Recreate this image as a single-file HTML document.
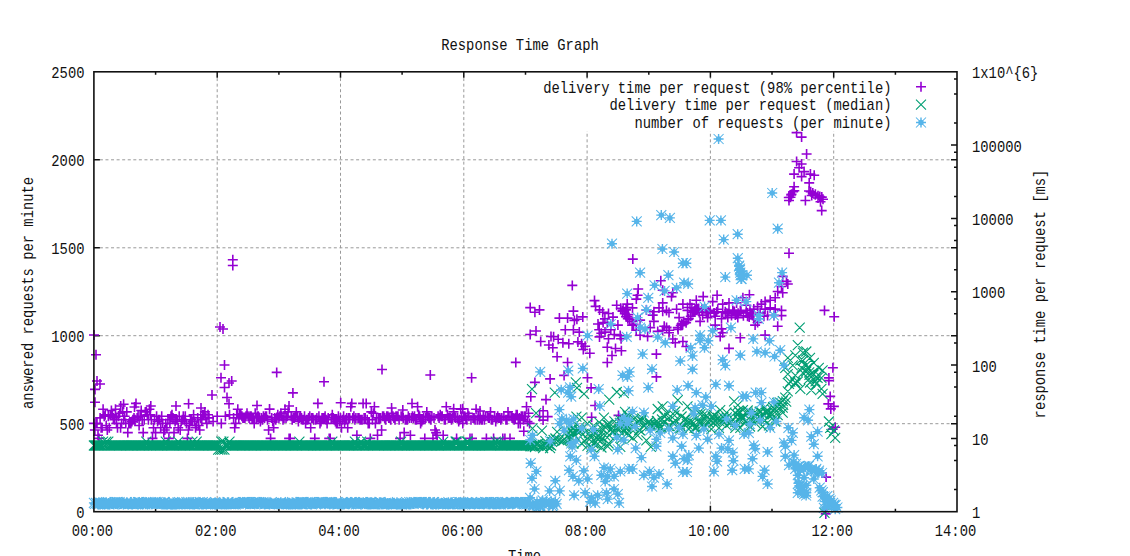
<!DOCTYPE html><html><head><meta charset="utf-8"><style>html,body{margin:0;padding:0;background:#fff;overflow:hidden}svg{display:block}</style></head><body><svg width="1130" height="556" viewBox="0 0 1130 556"><path d="M99.9 423.7H951.0M99.9 335.7H951.0M99.9 247.8H951.0M99.9 159.8H951.0" stroke="#999" stroke-width="1" stroke-dasharray="3 2.57" fill="none"/><path d="M217.2 505.7V77.8M340.5 505.7V77.8M463.8 505.7V77.8M587.1 505.7V77.8M710.4 505.7V77.8M833.7 505.7V77.8" stroke="#999" stroke-width="1" stroke-dasharray="3 2.57" stroke-dashoffset="-1.3" fill="none"/><path d="M93.9 423.7h6M957.0 423.7h-6M93.9 335.7h6M957.0 335.7h-6M93.9 247.8h6M957.0 247.8h-6M93.9 159.8h6M957.0 159.8h-6M155.6 511.7v-3M155.6 71.8v3M217.2 511.7v-6M217.2 71.8v6M278.9 511.7v-3M278.9 71.8v3M340.5 511.7v-6M340.5 71.8v6M402.1 511.7v-3M402.1 71.8v3M463.8 511.7v-6M463.8 71.8v6M525.5 511.7v-3M525.5 71.8v3M587.1 511.7v-6M587.1 71.8v6M648.8 511.7v-3M648.8 71.8v3M710.4 511.7v-6M710.4 71.8v6M772.0 511.7v-3M772.0 71.8v3M833.7 511.7v-6M833.7 71.8v6M895.4 511.7v-3M895.4 71.8v3M957.0 489.6h-3M957.0 460.5h-3M957.0 445.5h-3M957.0 438.4h-6M957.0 416.3h-3M957.0 387.1h-3M957.0 372.2h-3M957.0 365.1h-6M957.0 343.0h-3M957.0 313.8h-3M957.0 298.9h-3M957.0 291.8h-6M957.0 269.7h-3M957.0 240.5h-3M957.0 225.5h-3M957.0 218.4h-6M957.0 196.4h-3M957.0 167.2h-3M957.0 152.2h-3M957.0 145.1h-6M957.0 123.0h-3M957.0 93.9h-3M957.0 78.9h-3" stroke="#111" stroke-width="1.5" fill="none"/><path d="M88.9 423.4h10.0M93.9 418.4v10.0M89.9 430.0h10.0M94.9 425.0v10.0M91.0 423.4h10.0M96.0 418.4v10.0M92.0 423.4h10.0M97.0 418.4v10.0M93.0 435.3h10.0M98.0 430.3v10.0M94.0 438.4h10.0M99.0 433.4v10.0M95.1 417.9h10.0M100.1 412.9v10.0M96.1 427.7h10.0M101.1 422.7v10.0M97.1 427.7h10.0M102.1 422.7v10.0M98.1 409.2h10.0M103.1 404.2v10.0M99.2 416.3h10.0M104.2 411.3v10.0M100.2 414.8h10.0M105.2 409.8v10.0M101.2 425.5h10.0M106.2 420.5v10.0M102.3 430.0h10.0M107.3 425.0v10.0M103.3 416.3h10.0M108.3 411.3v10.0M104.3 427.7h10.0M109.3 422.7v10.0M105.3 414.8h10.0M110.3 409.8v10.0M106.4 410.5h10.0M111.4 405.5v10.0M107.4 414.8h10.0M112.4 409.8v10.0M108.4 417.9h10.0M113.4 412.9v10.0M109.5 419.7h10.0M114.5 414.7v10.0M110.5 409.2h10.0M115.5 404.2v10.0M111.5 423.4h10.0M116.5 418.4v10.0M112.5 427.7h10.0M117.5 422.7v10.0M113.6 416.3h10.0M118.6 411.3v10.0M114.6 413.3h10.0M119.6 408.3v10.0M115.6 427.7h10.0M120.6 422.7v10.0M116.6 423.4h10.0M121.6 418.4v10.0M117.7 411.9h10.0M122.7 406.9v10.0M118.7 419.7h10.0M123.7 414.7v10.0M119.7 416.3h10.0M124.7 411.3v10.0M120.8 423.4h10.0M125.8 418.4v10.0M121.8 411.9h10.0M126.8 406.9v10.0M122.8 432.6h10.0M127.8 427.6v10.0M123.8 423.4h10.0M128.8 418.4v10.0M124.9 423.4h10.0M129.9 418.4v10.0M125.9 423.4h10.0M130.9 418.4v10.0M126.9 421.5h10.0M131.9 416.5v10.0M127.9 419.7h10.0M132.9 414.7v10.0M129.0 417.9h10.0M134.0 412.9v10.0M130.0 419.7h10.0M135.0 414.7v10.0M131.0 403.4h10.0M136.0 398.4v10.0M132.1 417.9h10.0M137.1 412.9v10.0M133.1 416.3h10.0M138.1 411.3v10.0M134.1 425.5h10.0M139.1 420.5v10.0M135.1 416.3h10.0M140.1 411.3v10.0M136.2 410.5h10.0M141.2 405.5v10.0M137.2 419.7h10.0M142.2 414.7v10.0M138.2 432.6h10.0M143.2 427.6v10.0M139.2 419.7h10.0M144.2 414.7v10.0M140.3 411.9h10.0M145.3 406.9v10.0M141.3 411.9h10.0M146.3 406.9v10.0M142.3 414.8h10.0M147.3 409.8v10.0M143.4 419.7h10.0M148.4 414.7v10.0M144.4 409.2h10.0M149.4 404.2v10.0M145.4 414.8h10.0M150.4 409.8v10.0M146.4 419.7h10.0M151.4 414.7v10.0M147.5 438.4h10.0M152.5 433.4v10.0M148.5 427.7h10.0M153.5 422.7v10.0M149.5 419.7h10.0M154.5 414.7v10.0M150.6 432.6h10.0M155.6 427.6v10.0M151.6 416.3h10.0M156.6 411.3v10.0M152.6 421.5h10.0M157.6 416.5v10.0M153.6 419.7h10.0M158.6 414.7v10.0M154.7 419.7h10.0M159.7 414.7v10.0M155.7 427.7h10.0M160.7 422.7v10.0M156.7 416.3h10.0M161.7 411.3v10.0M157.7 423.4h10.0M162.7 418.4v10.0M158.8 432.6h10.0M163.8 427.6v10.0M159.8 430.0h10.0M164.8 425.0v10.0M160.8 423.4h10.0M165.8 418.4v10.0M161.9 427.7h10.0M166.9 422.7v10.0M162.9 419.7h10.0M167.9 414.7v10.0M163.9 438.4h10.0M168.9 433.4v10.0M164.9 423.4h10.0M169.9 418.4v10.0M166.0 416.3h10.0M171.0 411.3v10.0M167.0 414.8h10.0M172.0 409.8v10.0M168.0 417.9h10.0M173.0 412.9v10.0M169.0 432.6h10.0M174.0 427.6v10.0M170.1 421.5h10.0M175.1 416.5v10.0M171.1 419.7h10.0M176.1 414.7v10.0M172.1 419.7h10.0M177.1 414.7v10.0M173.2 427.7h10.0M178.2 422.7v10.0M174.2 416.3h10.0M179.2 411.3v10.0M175.2 430.0h10.0M180.2 425.0v10.0M176.2 421.5h10.0M181.2 416.5v10.0M177.3 419.7h10.0M182.3 414.7v10.0M178.3 416.3h10.0M183.3 411.3v10.0M179.3 419.7h10.0M184.3 414.7v10.0M180.3 416.3h10.0M185.3 411.3v10.0M181.4 423.4h10.0M186.4 418.4v10.0M182.4 438.4h10.0M187.4 433.4v10.0M183.4 430.0h10.0M188.4 425.0v10.0M184.5 425.5h10.0M189.5 420.5v10.0M185.5 419.7h10.0M190.5 414.7v10.0M186.5 419.7h10.0M191.5 414.7v10.0M187.5 421.5h10.0M192.5 416.5v10.0M188.6 414.8h10.0M193.6 409.8v10.0M189.6 421.5h10.0M194.6 416.5v10.0M190.6 427.7h10.0M195.6 422.7v10.0M191.7 425.5h10.0M196.7 420.5v10.0M192.7 417.9h10.0M197.7 412.9v10.0M193.7 425.5h10.0M198.7 420.5v10.0M194.7 430.0h10.0M199.7 425.0v10.0M195.8 417.9h10.0M200.8 412.9v10.0M196.8 419.7h10.0M201.8 414.7v10.0M197.8 414.8h10.0M202.8 409.8v10.0M198.8 414.8h10.0M203.8 409.8v10.0M199.9 411.9h10.0M204.9 406.9v10.0M200.9 417.9h10.0M205.9 412.9v10.0M201.9 423.4h10.0M206.9 418.4v10.0M203.0 414.8h10.0M208.0 409.8v10.0M204.0 417.9h10.0M209.0 412.9v10.0M208.1 421.5h10.0M213.1 416.5v10.0M212.2 416.3h10.0M217.2 411.3v10.0M216.3 423.4h10.0M221.3 418.4v10.0M220.4 416.3h10.0M225.4 411.3v10.0M224.5 414.8h10.0M229.5 409.8v10.0M228.6 417.9h10.0M233.6 412.9v10.0M229.7 427.7h10.0M234.7 422.7v10.0M230.7 423.4h10.0M235.7 418.4v10.0M231.7 414.8h10.0M236.7 409.8v10.0M232.8 409.2h10.0M237.8 404.2v10.0M233.8 417.9h10.0M238.8 412.9v10.0M234.8 414.8h10.0M239.8 409.8v10.0M235.8 414.8h10.0M240.8 409.8v10.0M236.9 416.3h10.0M241.9 411.3v10.0M237.9 417.9h10.0M242.9 412.9v10.0M238.9 417.9h10.0M243.9 412.9v10.0M239.9 417.9h10.0M244.9 412.9v10.0M241.0 416.3h10.0M246.0 411.3v10.0M242.0 413.3h10.0M247.0 408.3v10.0M243.0 416.3h10.0M248.0 411.3v10.0M244.1 417.9h10.0M249.1 412.9v10.0M245.1 416.3h10.0M250.1 411.3v10.0M246.1 416.3h10.0M251.1 411.3v10.0M247.1 417.9h10.0M252.1 412.9v10.0M248.2 417.9h10.0M253.2 412.9v10.0M249.2 423.4h10.0M254.2 418.4v10.0M250.2 413.3h10.0M255.2 408.3v10.0M251.2 417.9h10.0M256.2 412.9v10.0M252.3 416.3h10.0M257.3 411.3v10.0M253.3 416.3h10.0M258.3 411.3v10.0M254.3 417.9h10.0M259.3 412.9v10.0M255.4 421.5h10.0M260.4 416.5v10.0M256.4 417.9h10.0M261.4 412.9v10.0M257.4 419.7h10.0M262.4 414.7v10.0M258.4 416.3h10.0M263.4 411.3v10.0M259.5 417.9h10.0M264.5 412.9v10.0M260.5 416.3h10.0M265.5 411.3v10.0M261.5 416.3h10.0M266.5 411.3v10.0M262.5 419.7h10.0M267.5 414.7v10.0M263.6 430.0h10.0M268.6 425.0v10.0M264.6 409.2h10.0M269.6 404.2v10.0M265.6 438.4h10.0M270.6 433.4v10.0M266.7 417.9h10.0M271.7 412.9v10.0M267.7 421.5h10.0M272.7 416.5v10.0M268.7 427.7h10.0M273.7 422.7v10.0M269.7 417.9h10.0M274.7 412.9v10.0M270.8 419.7h10.0M275.8 414.7v10.0M271.8 417.9h10.0M276.8 412.9v10.0M272.8 414.8h10.0M277.8 409.8v10.0M273.9 417.9h10.0M278.9 412.9v10.0M274.9 416.3h10.0M279.9 411.3v10.0M275.9 413.3h10.0M280.9 408.3v10.0M276.9 416.3h10.0M281.9 411.3v10.0M278.0 419.7h10.0M283.0 414.7v10.0M279.0 417.9h10.0M284.0 412.9v10.0M280.0 409.2h10.0M285.0 404.2v10.0M281.0 417.9h10.0M286.0 412.9v10.0M282.1 416.3h10.0M287.1 411.3v10.0M283.1 411.9h10.0M288.1 406.9v10.0M284.1 438.4h10.0M289.1 433.4v10.0M285.2 438.4h10.0M290.2 433.4v10.0M286.2 416.3h10.0M291.2 411.3v10.0M287.2 419.7h10.0M292.2 414.7v10.0M288.2 417.9h10.0M293.2 412.9v10.0M289.3 417.9h10.0M294.3 412.9v10.0M290.3 416.3h10.0M295.3 411.3v10.0M291.3 411.9h10.0M296.3 406.9v10.0M292.3 416.3h10.0M297.3 411.3v10.0M293.4 421.5h10.0M298.4 416.5v10.0M294.4 417.9h10.0M299.4 412.9v10.0M295.4 416.3h10.0M300.4 411.3v10.0M296.5 417.9h10.0M301.5 412.9v10.0M297.5 419.7h10.0M302.5 414.7v10.0M298.5 419.7h10.0M303.5 414.7v10.0M299.5 416.3h10.0M304.5 411.3v10.0M300.6 423.4h10.0M305.6 418.4v10.0M301.6 419.7h10.0M306.6 414.7v10.0M302.6 419.7h10.0M307.6 414.7v10.0M303.6 417.9h10.0M308.6 412.9v10.0M304.7 416.3h10.0M309.7 411.3v10.0M305.7 427.7h10.0M310.7 422.7v10.0M306.7 417.9h10.0M311.7 412.9v10.0M307.8 417.9h10.0M312.8 412.9v10.0M308.8 419.7h10.0M313.8 414.7v10.0M309.8 438.4h10.0M314.8 433.4v10.0M310.8 419.7h10.0M315.8 414.7v10.0M311.9 417.9h10.0M316.9 412.9v10.0M312.9 403.4h10.0M317.9 398.4v10.0M313.9 416.3h10.0M318.9 411.3v10.0M315.0 423.4h10.0M320.0 418.4v10.0M316.0 421.5h10.0M321.0 416.5v10.0M317.0 417.9h10.0M322.0 412.9v10.0M318.0 417.9h10.0M323.0 412.9v10.0M319.1 417.9h10.0M324.1 412.9v10.0M320.1 416.3h10.0M325.1 411.3v10.0M321.1 419.7h10.0M326.1 414.7v10.0M322.1 423.4h10.0M327.1 418.4v10.0M323.2 417.9h10.0M328.2 412.9v10.0M324.2 438.4h10.0M329.2 433.4v10.0M325.2 438.4h10.0M330.2 433.4v10.0M326.3 417.9h10.0M331.3 412.9v10.0M327.3 414.8h10.0M332.3 409.8v10.0M328.3 417.9h10.0M333.3 412.9v10.0M329.3 419.7h10.0M334.3 414.7v10.0M330.4 421.5h10.0M335.4 416.5v10.0M331.4 423.4h10.0M336.4 418.4v10.0M332.4 423.4h10.0M337.4 418.4v10.0M333.4 416.3h10.0M338.4 411.3v10.0M334.5 421.5h10.0M339.5 416.5v10.0M335.5 417.9h10.0M340.5 412.9v10.0M336.5 427.7h10.0M341.5 422.7v10.0M337.6 419.7h10.0M342.6 414.7v10.0M338.6 416.3h10.0M343.6 411.3v10.0M339.6 423.4h10.0M344.6 418.4v10.0M340.6 419.7h10.0M345.6 414.7v10.0M341.7 417.9h10.0M346.7 412.9v10.0M342.7 427.7h10.0M347.7 422.7v10.0M343.7 417.9h10.0M348.7 412.9v10.0M344.7 417.9h10.0M349.7 412.9v10.0M345.8 406.8h10.0M350.8 401.8v10.0M346.8 403.4h10.0M351.8 398.4v10.0M347.8 417.9h10.0M352.8 412.9v10.0M348.9 416.3h10.0M353.9 411.3v10.0M349.9 419.7h10.0M354.9 414.7v10.0M350.9 417.9h10.0M355.9 412.9v10.0M351.9 435.3h10.0M356.9 430.3v10.0M353.0 417.9h10.0M358.0 412.9v10.0M354.0 417.9h10.0M359.0 412.9v10.0M355.0 419.7h10.0M360.0 414.7v10.0M356.0 419.7h10.0M361.0 414.7v10.0M357.1 419.7h10.0M362.1 414.7v10.0M358.1 403.4h10.0M363.1 398.4v10.0M359.1 417.9h10.0M364.1 412.9v10.0M360.2 417.9h10.0M365.2 412.9v10.0M361.2 403.4h10.0M366.2 398.4v10.0M362.2 419.7h10.0M367.2 414.7v10.0M363.2 423.4h10.0M368.2 418.4v10.0M364.3 423.4h10.0M369.3 418.4v10.0M365.3 438.4h10.0M370.3 433.4v10.0M366.3 411.9h10.0M371.3 406.9v10.0M367.4 419.7h10.0M372.4 414.7v10.0M368.4 413.3h10.0M373.4 408.3v10.0M369.4 406.8h10.0M374.4 401.8v10.0M370.4 423.4h10.0M375.4 418.4v10.0M371.5 417.9h10.0M376.5 412.9v10.0M372.5 435.3h10.0M377.5 430.3v10.0M373.5 417.9h10.0M378.5 412.9v10.0M374.5 417.9h10.0M379.5 412.9v10.0M375.6 417.9h10.0M380.6 412.9v10.0M376.6 430.0h10.0M381.6 425.0v10.0M377.6 416.3h10.0M382.6 411.3v10.0M378.7 416.3h10.0M383.7 411.3v10.0M379.7 417.9h10.0M384.7 412.9v10.0M380.7 419.7h10.0M385.7 414.7v10.0M381.7 416.3h10.0M386.7 411.3v10.0M382.8 416.3h10.0M387.8 411.3v10.0M383.8 417.9h10.0M388.8 412.9v10.0M384.8 417.9h10.0M389.8 412.9v10.0M385.8 419.7h10.0M390.8 414.7v10.0M386.9 413.3h10.0M391.9 408.3v10.0M387.9 416.3h10.0M392.9 411.3v10.0M388.9 417.9h10.0M393.9 412.9v10.0M390.0 419.7h10.0M395.0 414.7v10.0M391.0 416.3h10.0M396.0 411.3v10.0M392.0 416.3h10.0M397.0 411.3v10.0M393.0 416.3h10.0M398.0 411.3v10.0M394.1 419.7h10.0M399.1 414.7v10.0M395.1 438.4h10.0M400.1 433.4v10.0M396.1 416.3h10.0M401.1 411.3v10.0M397.1 416.3h10.0M402.1 411.3v10.0M398.2 417.9h10.0M403.2 412.9v10.0M399.2 432.6h10.0M404.2 427.6v10.0M400.2 419.7h10.0M405.2 414.7v10.0M401.3 419.7h10.0M406.3 414.7v10.0M402.3 419.7h10.0M407.3 414.7v10.0M403.3 416.3h10.0M408.3 411.3v10.0M404.3 417.9h10.0M409.3 412.9v10.0M405.4 435.3h10.0M410.4 430.3v10.0M406.4 417.9h10.0M411.4 412.9v10.0M407.4 416.3h10.0M412.4 411.3v10.0M408.5 417.9h10.0M413.5 412.9v10.0M409.5 416.3h10.0M414.5 411.3v10.0M410.5 419.7h10.0M415.5 414.7v10.0M411.5 419.7h10.0M416.5 414.7v10.0M412.6 406.8h10.0M417.6 401.8v10.0M413.6 414.8h10.0M418.6 409.8v10.0M414.6 416.3h10.0M419.6 411.3v10.0M415.6 423.4h10.0M420.6 418.4v10.0M416.7 421.5h10.0M421.7 416.5v10.0M417.7 419.7h10.0M422.7 414.7v10.0M418.7 417.9h10.0M423.7 412.9v10.0M419.8 438.4h10.0M424.8 433.4v10.0M420.8 417.9h10.0M425.8 412.9v10.0M421.8 411.9h10.0M426.8 406.9v10.0M422.8 416.3h10.0M427.8 411.3v10.0M423.9 417.9h10.0M428.9 412.9v10.0M424.9 417.9h10.0M429.9 412.9v10.0M425.9 419.7h10.0M430.9 414.7v10.0M426.9 416.3h10.0M431.9 411.3v10.0M428.0 438.4h10.0M433.0 433.4v10.0M429.0 417.9h10.0M434.0 412.9v10.0M430.0 430.0h10.0M435.0 425.0v10.0M431.1 432.6h10.0M436.1 427.6v10.0M432.1 435.3h10.0M437.1 430.3v10.0M433.1 416.3h10.0M438.1 411.3v10.0M434.1 417.9h10.0M439.1 412.9v10.0M435.2 414.8h10.0M440.2 409.8v10.0M436.2 416.3h10.0M441.2 411.3v10.0M437.2 416.3h10.0M442.2 411.3v10.0M438.2 435.3h10.0M443.2 430.3v10.0M439.3 419.7h10.0M444.3 414.7v10.0M440.3 419.7h10.0M445.3 414.7v10.0M441.3 406.8h10.0M446.3 401.8v10.0M442.4 414.8h10.0M447.4 409.8v10.0M443.4 417.9h10.0M448.4 412.9v10.0M444.4 417.9h10.0M449.4 412.9v10.0M445.4 417.9h10.0M450.4 412.9v10.0M446.5 419.7h10.0M451.5 414.7v10.0M447.5 417.9h10.0M452.5 412.9v10.0M448.5 411.9h10.0M453.5 406.9v10.0M449.6 416.3h10.0M454.6 411.3v10.0M450.6 417.9h10.0M455.6 412.9v10.0M451.6 438.4h10.0M456.6 433.4v10.0M452.6 417.9h10.0M457.6 412.9v10.0M453.7 421.5h10.0M458.7 416.5v10.0M454.7 419.7h10.0M459.7 414.7v10.0M455.7 409.2h10.0M460.7 404.2v10.0M456.7 416.3h10.0M461.7 411.3v10.0M457.8 423.4h10.0M462.8 418.4v10.0M458.8 416.3h10.0M463.8 411.3v10.0M459.8 416.3h10.0M464.8 411.3v10.0M460.9 417.9h10.0M465.9 412.9v10.0M461.9 419.7h10.0M466.9 414.7v10.0M462.9 413.3h10.0M467.9 408.3v10.0M463.9 416.3h10.0M468.9 411.3v10.0M465.0 438.4h10.0M470.0 433.4v10.0M466.0 419.7h10.0M471.0 414.7v10.0M467.0 438.4h10.0M472.0 433.4v10.0M468.0 417.9h10.0M473.0 412.9v10.0M469.1 417.9h10.0M474.1 412.9v10.0M470.1 419.7h10.0M475.1 414.7v10.0M471.1 409.2h10.0M476.1 404.2v10.0M472.2 419.7h10.0M477.2 414.7v10.0M473.2 416.3h10.0M478.2 411.3v10.0M474.2 419.7h10.0M479.2 414.7v10.0M475.2 417.9h10.0M480.2 412.9v10.0M476.3 419.7h10.0M481.3 414.7v10.0M477.3 419.7h10.0M482.3 414.7v10.0M478.3 416.3h10.0M483.3 411.3v10.0M479.4 419.7h10.0M484.4 414.7v10.0M480.4 416.3h10.0M485.4 411.3v10.0M481.4 438.4h10.0M486.4 433.4v10.0M482.4 416.3h10.0M487.4 411.3v10.0M483.5 417.9h10.0M488.5 412.9v10.0M484.5 417.9h10.0M489.5 412.9v10.0M485.5 411.9h10.0M490.5 406.9v10.0M486.5 419.7h10.0M491.5 414.7v10.0M487.6 419.7h10.0M492.6 414.7v10.0M488.6 438.4h10.0M493.6 433.4v10.0M489.6 416.3h10.0M494.6 411.3v10.0M490.7 421.5h10.0M495.7 416.5v10.0M491.7 417.9h10.0M496.7 412.9v10.0M492.7 416.3h10.0M497.7 411.3v10.0M493.7 417.9h10.0M498.7 412.9v10.0M494.8 417.9h10.0M499.8 412.9v10.0M495.8 419.7h10.0M500.8 414.7v10.0M496.8 417.9h10.0M501.8 412.9v10.0M497.8 438.4h10.0M502.8 433.4v10.0M498.9 416.3h10.0M503.9 411.3v10.0M499.9 438.4h10.0M504.9 433.4v10.0M500.9 419.7h10.0M505.9 414.7v10.0M502.0 419.7h10.0M507.0 414.7v10.0M503.0 411.9h10.0M508.0 406.9v10.0M504.0 416.3h10.0M509.0 411.3v10.0M505.0 438.4h10.0M510.0 433.4v10.0M506.1 416.3h10.0M511.1 411.3v10.0M507.1 417.9h10.0M512.1 412.9v10.0M508.1 417.9h10.0M513.1 412.9v10.0M509.1 419.7h10.0M514.1 414.7v10.0M510.2 417.9h10.0M515.2 412.9v10.0M511.2 414.8h10.0M516.2 409.8v10.0M512.2 414.8h10.0M517.2 409.8v10.0M513.3 423.4h10.0M518.3 418.4v10.0M514.3 417.9h10.0M519.3 412.9v10.0M515.3 423.4h10.0M520.3 418.4v10.0M516.3 416.3h10.0M521.3 411.3v10.0M517.4 416.3h10.0M522.4 411.3v10.0M518.4 419.7h10.0M523.4 414.7v10.0M519.4 416.3h10.0M524.4 411.3v10.0M520.5 416.3h10.0M525.5 411.3v10.0M521.5 406.8h10.0M526.5 401.8v10.0M522.5 421.5h10.0M527.5 416.5v10.0M523.5 413.3h10.0M528.5 408.3v10.0M524.6 423.4h10.0M529.6 418.4v10.0M89.0 335.0h10.0M94.0 330.0v10.0M91.0 354.8h10.0M96.0 349.8v10.0M92.0 381.0h10.0M97.0 376.0v10.0M95.0 384.0h10.0M100.0 379.0v10.0M90.0 389.4h10.0M95.0 384.4v10.0M90.0 402.3h10.0M95.0 397.3v10.0M118.6 404.3h10.0M123.6 399.3v10.0M115.7 406.0h10.0M120.7 401.0v10.0M129.5 407.0h10.0M134.5 402.0v10.0M227.8 259.8h10.0M232.8 254.8v10.0M227.8 265.5h10.0M232.8 260.5v10.0M215.0 327.0h10.0M220.0 322.0v10.0M218.0 329.0h10.0M223.0 324.0v10.0M219.5 365.0h10.0M224.5 360.0v10.0M216.0 377.8h10.0M221.0 372.8v10.0M226.7 381.0h10.0M231.7 376.0v10.0M224.0 383.0h10.0M229.0 378.0v10.0M219.5 387.5h10.0M224.5 382.5v10.0M207.0 395.0h10.0M212.0 390.0v10.0M222.0 397.5h10.0M227.0 392.5v10.0M224.0 403.7h10.0M229.0 398.7v10.0M271.7 372.4h10.0M276.7 367.4v10.0M287.9 392.9h10.0M292.9 387.9v10.0M145.8 406.0h10.0M150.8 401.0v10.0M171.0 406.0h10.0M176.0 401.0v10.0M183.6 403.7h10.0M188.6 398.7v10.0M196.0 408.0h10.0M201.0 403.0v10.0M252.0 405.5h10.0M257.0 400.5v10.0M264.5 409.0h10.0M269.5 404.0v10.0M284.0 406.0h10.0M289.0 401.0v10.0M319.0 381.7h10.0M324.0 376.7v10.0M335.7 402.7h10.0M340.7 397.7v10.0M377.0 369.5h10.0M382.0 364.5v10.0M425.3 375.0h10.0M430.3 370.0v10.0M466.6 377.7h10.0M471.6 372.7v10.0M510.8 362.4h10.0M515.8 357.4v10.0M386.6 408.0h10.0M391.6 403.0v10.0M407.0 403.5h10.0M412.0 398.5v10.0M397.8 410.0h10.0M402.8 405.0v10.0M457.8 408.8h10.0M462.8 403.8v10.0M448.7 408.8h10.0M453.7 403.8v10.0M475.0 411.0h10.0M480.0 406.0v10.0M567.3 285.4h10.0M572.3 280.4v10.0M525.2 307.6h10.0M530.2 302.6v10.0M529.9 312.3h10.0M534.9 307.3v10.0M534.5 309.9h10.0M539.5 304.9v10.0M525.2 334.5h10.0M530.2 329.5v10.0M531.0 331.0h10.0M536.0 326.0v10.0M535.7 341.5h10.0M540.7 336.5v10.0M543.9 345.0h10.0M548.9 340.0v10.0M548.6 336.8h10.0M553.6 331.8v10.0M553.2 339.2h10.0M558.2 334.2v10.0M557.9 342.7h10.0M562.9 337.7v10.0M563.8 343.8h10.0M568.8 338.8v10.0M552.1 356.7h10.0M557.1 351.7v10.0M554.4 318.1h10.0M559.4 313.1v10.0M562.6 318.1h10.0M567.6 313.1v10.0M568.4 311.1h10.0M573.4 306.1v10.0M571.9 319.3h10.0M576.9 314.3v10.0M577.8 316.9h10.0M582.8 311.9v10.0M560.3 329.8h10.0M565.3 324.8v10.0M568.4 329.8h10.0M573.4 324.8v10.0M574.3 332.1h10.0M579.3 327.1v10.0M576.6 343.8h10.0M581.6 338.8v10.0M580.1 346.2h10.0M585.1 341.2v10.0M584.8 353.2h10.0M589.8 348.2v10.0M562.6 362.5h10.0M567.6 357.5v10.0M559.1 375.4h10.0M564.1 370.4v10.0M545.1 378.9h10.0M550.1 373.9v10.0M582.5 377.7h10.0M587.5 372.7v10.0M529.9 382.4h10.0M534.9 377.4v10.0M589.5 300.6h10.0M594.5 295.6v10.0M590.6 306.4h10.0M595.6 301.4v10.0M597.7 312.3h10.0M602.7 307.3v10.0M611.7 305.3h10.0M616.7 300.3v10.0M622.2 304.1h10.0M627.2 299.1v10.0M617.5 311.1h10.0M622.5 306.1v10.0M622.2 316.9h10.0M627.2 311.9v10.0M594.2 329.8h10.0M599.2 324.8v10.0M600.0 332.1h10.0M605.0 327.1v10.0M605.8 329.8h10.0M610.8 324.8v10.0M612.9 325.1h10.0M617.9 320.1v10.0M609.3 334.5h10.0M614.3 329.5v10.0M615.2 335.6h10.0M620.2 330.6v10.0M593.0 324.0h10.0M598.0 319.0v10.0M602.3 322.8h10.0M607.3 317.8v10.0M602.3 347.3h10.0M607.3 342.3v10.0M610.5 348.5h10.0M615.5 343.5v10.0M616.4 350.8h10.0M621.4 345.8v10.0M607.0 355.5h10.0M612.0 350.5v10.0M602.3 362.5h10.0M607.3 357.5v10.0M619.9 313.4h10.0M624.9 308.4v10.0M621.0 309.9h10.0M626.0 304.9v10.0M623.4 314.6h10.0M628.4 309.6v10.0M525.8 396.7h10.0M530.8 391.7v10.0M541.0 399.6h10.0M546.0 394.6v10.0M538.1 410.7h10.0M543.1 405.7v10.0M538.1 420.1h10.0M543.1 415.1v10.0M534.6 416.6h10.0M539.6 411.6v10.0M542.7 416.6h10.0M547.7 411.6v10.0M518.8 431.2h10.0M523.8 426.2v10.0M586.1 387.9h10.0M591.1 382.9v10.0M590.1 405.5h10.0M595.1 400.5v10.0M586.6 417.2h10.0M591.6 412.2v10.0M613.5 415.4h10.0M618.5 410.4v10.0M627.8 259.1h10.0M632.8 254.1v10.0M655.8 280.8h10.0M660.8 275.8v10.0M633.2 289.0h10.0M638.2 284.0v10.0M632.6 295.3h10.0M637.6 290.3v10.0M631.3 299.1h10.0M636.3 294.1v10.0M627.5 307.9h10.0M632.5 302.9v10.0M657.7 290.3h10.0M662.7 285.3v10.0M667.8 292.8h10.0M672.8 287.8v10.0M666.5 296.6h10.0M671.5 291.6v10.0M657.7 302.9h10.0M662.7 297.9v10.0M654.0 307.9h10.0M659.0 302.9v10.0M661.5 310.4h10.0M666.5 305.4v10.0M671.6 309.2h10.0M676.6 304.2v10.0M648.9 311.7h10.0M653.9 306.7v10.0M677.9 304.1h10.0M682.9 299.1v10.0M698.2 296.6h10.0M703.2 291.6v10.0M712.1 295.3h10.0M717.1 290.3v10.0M707.7 301.6h10.0M712.7 296.6v10.0M691.3 300.3h10.0M696.3 295.3v10.0M685.0 304.1h10.0M690.0 299.1v10.0M717.7 304.1h10.0M722.7 299.1v10.0M724.0 302.9h10.0M729.0 297.9v10.0M731.6 302.9h10.0M736.6 297.9v10.0M737.9 297.8h10.0M742.9 292.8v10.0M682.5 310.4h10.0M687.5 305.4v10.0M690.1 309.2h10.0M695.1 304.2v10.0M697.6 311.7h10.0M702.6 306.7v10.0M705.2 310.4h10.0M710.2 305.4v10.0M712.7 309.2h10.0M717.7 304.2v10.0M720.3 311.7h10.0M725.3 306.7v10.0M727.8 310.4h10.0M732.8 305.4v10.0M735.3 310.4h10.0M740.3 305.4v10.0M622.5 307.5h10.0M627.5 302.5v10.0M627.5 321.4h10.0M632.5 316.4v10.0M635.1 320.1h10.0M640.1 315.1v10.0M641.4 310.0h10.0M646.4 305.0v10.0M647.7 315.1h10.0M652.7 310.1v10.0M648.9 321.4h10.0M653.9 316.4v10.0M645.2 327.6h10.0M650.2 322.6v10.0M657.7 311.3h10.0M662.7 306.3v10.0M664.0 312.5h10.0M669.0 307.5v10.0M674.1 317.6h10.0M679.1 312.6v10.0M676.6 323.9h10.0M681.6 318.9v10.0M672.8 327.6h10.0M677.8 322.6v10.0M661.5 327.6h10.0M666.5 322.6v10.0M664.0 332.7h10.0M669.0 327.7v10.0M657.7 330.2h10.0M662.7 325.2v10.0M652.7 331.4h10.0M657.7 326.4v10.0M635.1 335.2h10.0M640.1 330.2v10.0M642.6 336.4h10.0M647.6 331.4v10.0M667.8 339.0h10.0M672.8 334.0v10.0M670.3 342.7h10.0M675.3 337.7v10.0M677.9 341.5h10.0M682.9 336.5v10.0M651.4 354.1h10.0M656.4 349.1v10.0M682.5 307.5h10.0M687.5 302.5v10.0M687.5 312.5h10.0M692.5 307.5v10.0M692.6 308.8h10.0M697.6 303.8v10.0M697.6 315.1h10.0M702.6 310.1v10.0M717.7 312.5h10.0M722.7 307.5v10.0M724.0 310.0h10.0M729.0 305.0v10.0M730.3 315.1h10.0M735.3 310.1v10.0M683.8 318.8h10.0M688.8 313.8v10.0M695.1 321.4h10.0M700.1 316.4v10.0M702.6 317.6h10.0M707.6 312.6v10.0M710.2 316.3h10.0M715.2 311.3v10.0M716.5 318.8h10.0M721.5 313.8v10.0M722.8 317.6h10.0M727.8 312.6v10.0M732.8 317.6h10.0M737.8 312.6v10.0M710.2 325.1h10.0M715.2 320.1v10.0M716.5 328.9h10.0M721.5 323.9v10.0M715.2 336.4h10.0M720.2 331.4v10.0M717.7 332.7h10.0M722.7 327.7v10.0M735.3 337.7h10.0M740.3 332.7v10.0M724.0 348.4h10.0M729.0 343.4v10.0M681.3 346.5h10.0M686.3 341.5v10.0M651.4 376.9h10.0M656.4 371.9v10.0M791.6 132.6h10.0M796.6 127.6v10.0M796.6 137.1h10.0M801.6 132.1v10.0M801.6 154.0h10.0M806.6 149.0v10.0M791.6 161.5h10.0M796.6 156.5v10.0M796.6 164.0h10.0M801.6 159.0v10.0M794.1 167.8h10.0M799.1 162.8v10.0M799.1 171.6h10.0M804.1 166.6v10.0M789.1 174.1h10.0M794.1 169.1v10.0M805.4 174.1h10.0M810.4 169.1v10.0M809.2 175.3h10.0M814.2 170.3v10.0M796.6 176.6h10.0M801.6 171.6v10.0M804.2 182.9h10.0M809.2 177.9v10.0M789.1 186.7h10.0M794.1 181.7v10.0M786.5 194.2h10.0M791.5 189.2v10.0M784.0 200.5h10.0M789.0 195.5v10.0M800.4 200.5h10.0M805.4 195.5v10.0M806.7 195.5h10.0M811.7 190.5v10.0M810.4 194.2h10.0M815.4 189.2v10.0M813.0 198.0h10.0M818.0 193.0v10.0M815.5 201.8h10.0M820.5 196.8v10.0M818.0 199.2h10.0M823.0 194.2v10.0M816.7 210.6h10.0M821.7 205.6v10.0M784.0 253.3h10.0M789.0 248.3v10.0M744.4 294.7h10.0M749.4 289.7v10.0M777.7 276.4h10.0M782.7 271.4v10.0M781.5 281.4h10.0M786.5 276.4v10.0M782.8 284.0h10.0M787.8 279.0v10.0M776.5 286.5h10.0M781.5 281.5v10.0M777.7 292.8h10.0M782.7 287.8v10.0M772.7 291.5h10.0M777.7 286.5v10.0M770.2 297.8h10.0M775.2 292.8v10.0M765.2 300.3h10.0M770.2 295.3v10.0M760.1 301.6h10.0M765.1 296.6v10.0M756.4 304.1h10.0M761.4 299.1v10.0M752.6 306.6h10.0M757.6 301.6v10.0M748.8 309.1h10.0M753.8 304.1v10.0M745.0 310.4h10.0M750.0 305.4v10.0M742.5 312.9h10.0M747.5 307.9v10.0M765.2 307.9h10.0M770.2 302.9v10.0M760.1 309.1h10.0M765.1 304.1v10.0M770.2 309.1h10.0M775.2 304.1v10.0M776.5 310.4h10.0M781.5 305.4v10.0M755.1 312.9h10.0M760.1 307.9v10.0M747.5 315.4h10.0M752.5 310.4v10.0M762.6 315.4h10.0M767.6 310.4v10.0M768.9 315.4h10.0M773.9 310.4v10.0M741.3 305.3h10.0M746.3 300.3v10.0M819.5 310.4h10.0M824.5 305.4v10.0M829.2 316.7h10.0M834.2 311.7v10.0M742.5 316.3h10.0M747.5 311.3v10.0M748.8 318.8h10.0M753.8 313.8v10.0M752.6 322.5h10.0M757.6 317.5v10.0M750.1 325.1h10.0M755.1 320.1v10.0M758.9 316.3h10.0M763.9 311.3v10.0M772.7 326.3h10.0M777.7 321.3v10.0M760.1 335.1h10.0M765.1 330.1v10.0M776.5 315.6h10.0M781.5 310.6v10.0M827.9 367.8h10.0M832.9 362.8v10.0M823.9 377.9h10.0M828.9 372.9v10.0M823.9 380.6h10.0M828.9 375.6v10.0M825.2 396.4h10.0M830.2 391.4v10.0M823.3 403.9h10.0M828.3 398.9v10.0M828.9 406.4h10.0M833.9 401.4v10.0M825.8 408.9h10.0M830.8 403.9v10.0M830.2 427.2h10.0M835.2 422.2v10.0M827.7 429.1h10.0M832.7 424.1v10.0M821.1 477.1h10.0M826.1 472.1v10.0M820.8 513.9h10.0M825.8 508.9v10.0M569.4 320.4h10.0M574.4 315.4v10.0M546.0 336.5h10.0M551.0 331.5v10.0M547.8 347.7h10.0M552.8 342.7v10.0M572.9 341.9h10.0M577.9 336.9v10.0M578.3 349.5h10.0M583.3 344.5v10.0M596.3 333.3h10.0M601.3 328.3v10.0M594.5 336.9h10.0M599.5 331.9v10.0M603.5 338.7h10.0M608.5 333.7v10.0M616.1 338.7h10.0M621.1 333.7v10.0M594.5 309.9h10.0M599.5 304.9v10.0M603.5 313.5h10.0M608.5 308.5v10.0M608.0 317.1h10.0M613.0 312.1v10.0M599.9 318.9h10.0M604.9 313.9v10.0M598.1 322.5h10.0M603.1 317.5v10.0M615.7 308.3h10.0M620.7 303.3v10.0M618.1 310.1h10.0M623.1 305.1v10.0M619.8 313.8h10.0M624.8 308.8v10.0M621.0 316.8h10.0M626.0 311.8v10.0M622.8 318.7h10.0M627.8 313.7v10.0M624.7 319.2h10.0M629.7 314.2v10.0M627.1 325.1h10.0M632.1 320.1v10.0M628.6 324.4h10.0M633.6 319.4v10.0M631.2 330.2h10.0M636.2 325.2v10.0M673.1 329.5h10.0M678.1 324.5v10.0M675.8 325.5h10.0M680.8 320.5v10.0M677.7 324.5h10.0M682.7 319.5v10.0M678.8 321.5h10.0M683.8 316.5v10.0M681.1 322.8h10.0M686.1 317.8v10.0M683.0 319.4h10.0M688.0 314.4v10.0M685.8 316.2h10.0M690.8 311.2v10.0M687.8 312.4h10.0M692.8 307.4v10.0M689.1 310.9h10.0M694.1 305.9v10.0M692.2 309.8h10.0M697.2 304.8v10.0M693.7 308.4h10.0M698.7 303.4v10.0M686.9 307.8h10.0M691.9 302.8v10.0M689.9 310.6h10.0M694.9 305.6v10.0M691.3 310.2h10.0M696.3 305.2v10.0M694.2 312.5h10.0M699.2 307.5v10.0M697.0 309.3h10.0M702.0 304.3v10.0M699.9 308.7h10.0M704.9 303.7v10.0M701.3 312.9h10.0M706.3 307.9v10.0M703.2 311.7h10.0M708.2 306.7v10.0M705.4 313.2h10.0M710.4 308.2v10.0M709.1 313.0h10.0M714.1 308.0v10.0M711.7 311.9h10.0M716.7 306.9v10.0M659.2 326.3h10.0M664.2 321.3v10.0M661.6 327.4h10.0M666.6 322.4v10.0M664.3 330.3h10.0M669.3 325.3v10.0M721.0 313.0h10.0M726.0 308.0v10.0M722.8 313.5h10.0M727.8 308.5v10.0M726.5 315.6h10.0M731.5 310.6v10.0M729.4 311.6h10.0M734.4 306.6v10.0M731.2 314.2h10.0M736.2 309.2v10.0M733.1 313.3h10.0M738.1 308.3v10.0M736.0 311.5h10.0M741.0 306.5v10.0M738.4 315.7h10.0M743.4 310.7v10.0M741.1 312.9h10.0M746.1 307.9v10.0M744.2 316.9h10.0M749.2 311.9v10.0M746.2 314.7h10.0M751.2 309.7v10.0M804.0 191.0h10.0M809.0 186.0v10.0M805.7 191.8h10.0M810.7 186.8v10.0M807.8 193.1h10.0M812.8 188.1v10.0M810.3 194.7h10.0M815.3 189.7v10.0M813.0 195.8h10.0M818.0 190.8v10.0M814.8 196.5h10.0M819.8 191.5v10.0M816.8 197.1h10.0M821.8 192.1v10.0M783.8 197.5h10.0M788.8 192.5v10.0M785.5 197.2h10.0M790.5 192.2v10.0M786.2 194.9h10.0M791.2 189.9v10.0M788.1 191.8h10.0M793.1 186.8v10.0M789.3 190.8h10.0M794.3 185.8v10.0" stroke="#9400d3" stroke-width="1.6" fill="none"/><path d="M88.9 440.5l10.0 10.0M88.9 450.5l10.0 -10.0M89.9 440.5l10.0 10.0M89.9 450.5l10.0 -10.0M91.0 440.5l10.0 10.0M91.0 450.5l10.0 -10.0M92.0 440.5l10.0 10.0M92.0 450.5l10.0 -10.0M93.0 440.5l10.0 10.0M93.0 450.5l10.0 -10.0M94.0 440.5l10.0 10.0M94.0 450.5l10.0 -10.0M95.1 440.5l10.0 10.0M95.1 450.5l10.0 -10.0M96.1 440.5l10.0 10.0M96.1 450.5l10.0 -10.0M97.1 440.5l10.0 10.0M97.1 450.5l10.0 -10.0M98.1 436.7l10.0 10.0M98.1 446.7l10.0 -10.0M99.2 440.5l10.0 10.0M99.2 450.5l10.0 -10.0M100.2 440.5l10.0 10.0M100.2 450.5l10.0 -10.0M101.2 436.7l10.0 10.0M101.2 446.7l10.0 -10.0M102.3 440.5l10.0 10.0M102.3 450.5l10.0 -10.0M103.3 436.7l10.0 10.0M103.3 446.7l10.0 -10.0M104.3 440.5l10.0 10.0M104.3 450.5l10.0 -10.0M105.3 440.5l10.0 10.0M105.3 450.5l10.0 -10.0M106.4 440.5l10.0 10.0M106.4 450.5l10.0 -10.0M107.4 440.5l10.0 10.0M107.4 450.5l10.0 -10.0M108.4 440.5l10.0 10.0M108.4 450.5l10.0 -10.0M109.5 440.5l10.0 10.0M109.5 450.5l10.0 -10.0M110.5 440.5l10.0 10.0M110.5 450.5l10.0 -10.0M111.5 440.5l10.0 10.0M111.5 450.5l10.0 -10.0M112.5 440.5l10.0 10.0M112.5 450.5l10.0 -10.0M113.6 440.5l10.0 10.0M113.6 450.5l10.0 -10.0M114.6 440.5l10.0 10.0M114.6 450.5l10.0 -10.0M115.6 440.5l10.0 10.0M115.6 450.5l10.0 -10.0M116.6 440.5l10.0 10.0M116.6 450.5l10.0 -10.0M117.7 440.5l10.0 10.0M117.7 450.5l10.0 -10.0M118.7 440.5l10.0 10.0M118.7 450.5l10.0 -10.0M119.7 440.5l10.0 10.0M119.7 450.5l10.0 -10.0M120.8 440.5l10.0 10.0M120.8 450.5l10.0 -10.0M121.8 440.5l10.0 10.0M121.8 450.5l10.0 -10.0M122.8 440.5l10.0 10.0M122.8 450.5l10.0 -10.0M123.8 440.5l10.0 10.0M123.8 450.5l10.0 -10.0M124.9 440.5l10.0 10.0M124.9 450.5l10.0 -10.0M125.9 440.5l10.0 10.0M125.9 450.5l10.0 -10.0M126.9 440.5l10.0 10.0M126.9 450.5l10.0 -10.0M127.9 440.5l10.0 10.0M127.9 450.5l10.0 -10.0M129.0 440.5l10.0 10.0M129.0 450.5l10.0 -10.0M130.0 440.5l10.0 10.0M130.0 450.5l10.0 -10.0M131.0 440.5l10.0 10.0M131.0 450.5l10.0 -10.0M132.1 440.5l10.0 10.0M132.1 450.5l10.0 -10.0M133.1 440.5l10.0 10.0M133.1 450.5l10.0 -10.0M134.1 440.5l10.0 10.0M134.1 450.5l10.0 -10.0M135.1 440.5l10.0 10.0M135.1 450.5l10.0 -10.0M136.2 440.5l10.0 10.0M136.2 450.5l10.0 -10.0M137.2 440.5l10.0 10.0M137.2 450.5l10.0 -10.0M138.2 440.5l10.0 10.0M138.2 450.5l10.0 -10.0M139.2 440.5l10.0 10.0M139.2 450.5l10.0 -10.0M140.3 440.5l10.0 10.0M140.3 450.5l10.0 -10.0M141.3 436.7l10.0 10.0M141.3 446.7l10.0 -10.0M142.3 440.5l10.0 10.0M142.3 450.5l10.0 -10.0M143.4 440.5l10.0 10.0M143.4 450.5l10.0 -10.0M144.4 440.5l10.0 10.0M144.4 450.5l10.0 -10.0M145.4 440.5l10.0 10.0M145.4 450.5l10.0 -10.0M146.4 440.5l10.0 10.0M146.4 450.5l10.0 -10.0M147.5 440.5l10.0 10.0M147.5 450.5l10.0 -10.0M148.5 440.5l10.0 10.0M148.5 450.5l10.0 -10.0M149.5 440.5l10.0 10.0M149.5 450.5l10.0 -10.0M150.6 440.5l10.0 10.0M150.6 450.5l10.0 -10.0M151.6 440.5l10.0 10.0M151.6 450.5l10.0 -10.0M152.6 440.5l10.0 10.0M152.6 450.5l10.0 -10.0M153.6 440.5l10.0 10.0M153.6 450.5l10.0 -10.0M154.7 440.5l10.0 10.0M154.7 450.5l10.0 -10.0M155.7 440.5l10.0 10.0M155.7 450.5l10.0 -10.0M156.7 440.5l10.0 10.0M156.7 450.5l10.0 -10.0M157.7 440.5l10.0 10.0M157.7 450.5l10.0 -10.0M158.8 440.5l10.0 10.0M158.8 450.5l10.0 -10.0M159.8 440.5l10.0 10.0M159.8 450.5l10.0 -10.0M160.8 436.7l10.0 10.0M160.8 446.7l10.0 -10.0M161.9 440.5l10.0 10.0M161.9 450.5l10.0 -10.0M162.9 440.5l10.0 10.0M162.9 450.5l10.0 -10.0M163.9 440.5l10.0 10.0M163.9 450.5l10.0 -10.0M164.9 440.5l10.0 10.0M164.9 450.5l10.0 -10.0M166.0 440.5l10.0 10.0M166.0 450.5l10.0 -10.0M167.0 440.5l10.0 10.0M167.0 450.5l10.0 -10.0M168.0 440.5l10.0 10.0M168.0 450.5l10.0 -10.0M169.0 440.5l10.0 10.0M169.0 450.5l10.0 -10.0M170.1 440.5l10.0 10.0M170.1 450.5l10.0 -10.0M171.1 440.5l10.0 10.0M171.1 450.5l10.0 -10.0M172.1 440.5l10.0 10.0M172.1 450.5l10.0 -10.0M173.2 436.7l10.0 10.0M173.2 446.7l10.0 -10.0M174.2 440.5l10.0 10.0M174.2 450.5l10.0 -10.0M175.2 440.5l10.0 10.0M175.2 450.5l10.0 -10.0M176.2 440.5l10.0 10.0M176.2 450.5l10.0 -10.0M177.3 440.5l10.0 10.0M177.3 450.5l10.0 -10.0M178.3 440.5l10.0 10.0M178.3 450.5l10.0 -10.0M179.3 440.5l10.0 10.0M179.3 450.5l10.0 -10.0M180.3 440.5l10.0 10.0M180.3 450.5l10.0 -10.0M181.4 440.5l10.0 10.0M181.4 450.5l10.0 -10.0M182.4 440.5l10.0 10.0M182.4 450.5l10.0 -10.0M183.4 440.5l10.0 10.0M183.4 450.5l10.0 -10.0M184.5 440.5l10.0 10.0M184.5 450.5l10.0 -10.0M185.5 440.5l10.0 10.0M185.5 450.5l10.0 -10.0M186.5 440.5l10.0 10.0M186.5 450.5l10.0 -10.0M187.5 436.7l10.0 10.0M187.5 446.7l10.0 -10.0M188.6 440.5l10.0 10.0M188.6 450.5l10.0 -10.0M189.6 440.5l10.0 10.0M189.6 450.5l10.0 -10.0M190.6 440.5l10.0 10.0M190.6 450.5l10.0 -10.0M191.7 436.7l10.0 10.0M191.7 446.7l10.0 -10.0M192.7 440.5l10.0 10.0M192.7 450.5l10.0 -10.0M193.7 440.5l10.0 10.0M193.7 450.5l10.0 -10.0M194.7 440.5l10.0 10.0M194.7 450.5l10.0 -10.0M195.8 440.5l10.0 10.0M195.8 450.5l10.0 -10.0M196.8 440.5l10.0 10.0M196.8 450.5l10.0 -10.0M197.8 440.5l10.0 10.0M197.8 450.5l10.0 -10.0M198.8 440.5l10.0 10.0M198.8 450.5l10.0 -10.0M199.9 440.5l10.0 10.0M199.9 450.5l10.0 -10.0M200.9 440.5l10.0 10.0M200.9 450.5l10.0 -10.0M201.9 440.5l10.0 10.0M201.9 450.5l10.0 -10.0M203.0 440.5l10.0 10.0M203.0 450.5l10.0 -10.0M204.0 440.5l10.0 10.0M204.0 450.5l10.0 -10.0M205.0 440.5l10.0 10.0M205.0 450.5l10.0 -10.0M206.0 440.5l10.0 10.0M206.0 450.5l10.0 -10.0M207.1 440.5l10.0 10.0M207.1 450.5l10.0 -10.0M208.1 440.5l10.0 10.0M208.1 450.5l10.0 -10.0M209.1 440.5l10.0 10.0M209.1 450.5l10.0 -10.0M210.1 440.5l10.0 10.0M210.1 450.5l10.0 -10.0M211.2 440.5l10.0 10.0M211.2 450.5l10.0 -10.0M212.2 440.5l10.0 10.0M212.2 450.5l10.0 -10.0M213.2 444.7l10.0 10.0M213.2 454.7l10.0 -10.0M214.3 440.5l10.0 10.0M214.3 450.5l10.0 -10.0M215.3 444.7l10.0 10.0M215.3 454.7l10.0 -10.0M216.3 436.7l10.0 10.0M216.3 446.7l10.0 -10.0M217.3 444.7l10.0 10.0M217.3 454.7l10.0 -10.0M218.4 436.7l10.0 10.0M218.4 446.7l10.0 -10.0M219.4 444.7l10.0 10.0M219.4 454.7l10.0 -10.0M220.4 440.5l10.0 10.0M220.4 450.5l10.0 -10.0M221.4 440.5l10.0 10.0M221.4 450.5l10.0 -10.0M222.5 440.5l10.0 10.0M222.5 450.5l10.0 -10.0M223.5 440.5l10.0 10.0M223.5 450.5l10.0 -10.0M224.5 436.7l10.0 10.0M224.5 446.7l10.0 -10.0M225.6 440.5l10.0 10.0M225.6 450.5l10.0 -10.0M226.6 440.5l10.0 10.0M226.6 450.5l10.0 -10.0M227.6 440.5l10.0 10.0M227.6 450.5l10.0 -10.0M228.6 440.5l10.0 10.0M228.6 450.5l10.0 -10.0M229.7 440.5l10.0 10.0M229.7 450.5l10.0 -10.0M230.7 440.5l10.0 10.0M230.7 450.5l10.0 -10.0M231.7 440.5l10.0 10.0M231.7 450.5l10.0 -10.0M232.8 440.5l10.0 10.0M232.8 450.5l10.0 -10.0M233.8 440.5l10.0 10.0M233.8 450.5l10.0 -10.0M234.8 440.5l10.0 10.0M234.8 450.5l10.0 -10.0M235.8 440.5l10.0 10.0M235.8 450.5l10.0 -10.0M236.9 440.5l10.0 10.0M236.9 450.5l10.0 -10.0M237.9 440.5l10.0 10.0M237.9 450.5l10.0 -10.0M238.9 440.5l10.0 10.0M238.9 450.5l10.0 -10.0M239.9 440.5l10.0 10.0M239.9 450.5l10.0 -10.0M241.0 440.5l10.0 10.0M241.0 450.5l10.0 -10.0M242.0 440.5l10.0 10.0M242.0 450.5l10.0 -10.0M243.0 440.5l10.0 10.0M243.0 450.5l10.0 -10.0M244.1 440.5l10.0 10.0M244.1 450.5l10.0 -10.0M245.1 440.5l10.0 10.0M245.1 450.5l10.0 -10.0M246.1 440.5l10.0 10.0M246.1 450.5l10.0 -10.0M247.1 440.5l10.0 10.0M247.1 450.5l10.0 -10.0M248.2 440.5l10.0 10.0M248.2 450.5l10.0 -10.0M249.2 440.5l10.0 10.0M249.2 450.5l10.0 -10.0M250.2 440.5l10.0 10.0M250.2 450.5l10.0 -10.0M251.2 440.5l10.0 10.0M251.2 450.5l10.0 -10.0M252.3 440.5l10.0 10.0M252.3 450.5l10.0 -10.0M253.3 440.5l10.0 10.0M253.3 450.5l10.0 -10.0M254.3 440.5l10.0 10.0M254.3 450.5l10.0 -10.0M255.4 440.5l10.0 10.0M255.4 450.5l10.0 -10.0M256.4 440.5l10.0 10.0M256.4 450.5l10.0 -10.0M257.4 440.5l10.0 10.0M257.4 450.5l10.0 -10.0M258.4 440.5l10.0 10.0M258.4 450.5l10.0 -10.0M259.5 440.5l10.0 10.0M259.5 450.5l10.0 -10.0M260.5 440.5l10.0 10.0M260.5 450.5l10.0 -10.0M261.5 440.5l10.0 10.0M261.5 450.5l10.0 -10.0M262.5 440.5l10.0 10.0M262.5 450.5l10.0 -10.0M263.6 440.5l10.0 10.0M263.6 450.5l10.0 -10.0M264.6 440.5l10.0 10.0M264.6 450.5l10.0 -10.0M265.6 440.5l10.0 10.0M265.6 450.5l10.0 -10.0M266.7 440.5l10.0 10.0M266.7 450.5l10.0 -10.0M267.7 440.5l10.0 10.0M267.7 450.5l10.0 -10.0M268.7 440.5l10.0 10.0M268.7 450.5l10.0 -10.0M269.7 440.5l10.0 10.0M269.7 450.5l10.0 -10.0M270.8 440.5l10.0 10.0M270.8 450.5l10.0 -10.0M271.8 440.5l10.0 10.0M271.8 450.5l10.0 -10.0M272.8 440.5l10.0 10.0M272.8 450.5l10.0 -10.0M273.9 440.5l10.0 10.0M273.9 450.5l10.0 -10.0M274.9 440.5l10.0 10.0M274.9 450.5l10.0 -10.0M275.9 440.5l10.0 10.0M275.9 450.5l10.0 -10.0M276.9 440.5l10.0 10.0M276.9 450.5l10.0 -10.0M278.0 440.5l10.0 10.0M278.0 450.5l10.0 -10.0M279.0 440.5l10.0 10.0M279.0 450.5l10.0 -10.0M280.0 440.5l10.0 10.0M280.0 450.5l10.0 -10.0M281.0 440.5l10.0 10.0M281.0 450.5l10.0 -10.0M282.1 440.5l10.0 10.0M282.1 450.5l10.0 -10.0M283.1 440.5l10.0 10.0M283.1 450.5l10.0 -10.0M284.1 440.5l10.0 10.0M284.1 450.5l10.0 -10.0M285.2 440.5l10.0 10.0M285.2 450.5l10.0 -10.0M286.2 440.5l10.0 10.0M286.2 450.5l10.0 -10.0M287.2 440.5l10.0 10.0M287.2 450.5l10.0 -10.0M288.2 440.5l10.0 10.0M288.2 450.5l10.0 -10.0M289.3 440.5l10.0 10.0M289.3 450.5l10.0 -10.0M290.3 440.5l10.0 10.0M290.3 450.5l10.0 -10.0M291.3 440.5l10.0 10.0M291.3 450.5l10.0 -10.0M292.3 440.5l10.0 10.0M292.3 450.5l10.0 -10.0M293.4 440.5l10.0 10.0M293.4 450.5l10.0 -10.0M294.4 436.7l10.0 10.0M294.4 446.7l10.0 -10.0M295.4 440.5l10.0 10.0M295.4 450.5l10.0 -10.0M296.5 440.5l10.0 10.0M296.5 450.5l10.0 -10.0M297.5 440.5l10.0 10.0M297.5 450.5l10.0 -10.0M298.5 440.5l10.0 10.0M298.5 450.5l10.0 -10.0M299.5 440.5l10.0 10.0M299.5 450.5l10.0 -10.0M300.6 440.5l10.0 10.0M300.6 450.5l10.0 -10.0M301.6 440.5l10.0 10.0M301.6 450.5l10.0 -10.0M302.6 440.5l10.0 10.0M302.6 450.5l10.0 -10.0M303.6 440.5l10.0 10.0M303.6 450.5l10.0 -10.0M304.7 440.5l10.0 10.0M304.7 450.5l10.0 -10.0M305.7 440.5l10.0 10.0M305.7 450.5l10.0 -10.0M306.7 440.5l10.0 10.0M306.7 450.5l10.0 -10.0M307.8 440.5l10.0 10.0M307.8 450.5l10.0 -10.0M308.8 440.5l10.0 10.0M308.8 450.5l10.0 -10.0M309.8 440.5l10.0 10.0M309.8 450.5l10.0 -10.0M310.8 440.5l10.0 10.0M310.8 450.5l10.0 -10.0M311.9 440.5l10.0 10.0M311.9 450.5l10.0 -10.0M312.9 440.5l10.0 10.0M312.9 450.5l10.0 -10.0M313.9 440.5l10.0 10.0M313.9 450.5l10.0 -10.0M315.0 440.5l10.0 10.0M315.0 450.5l10.0 -10.0M316.0 440.5l10.0 10.0M316.0 450.5l10.0 -10.0M317.0 440.5l10.0 10.0M317.0 450.5l10.0 -10.0M318.0 440.5l10.0 10.0M318.0 450.5l10.0 -10.0M319.1 440.5l10.0 10.0M319.1 450.5l10.0 -10.0M320.1 440.5l10.0 10.0M320.1 450.5l10.0 -10.0M321.1 440.5l10.0 10.0M321.1 450.5l10.0 -10.0M322.1 440.5l10.0 10.0M322.1 450.5l10.0 -10.0M323.2 440.5l10.0 10.0M323.2 450.5l10.0 -10.0M324.2 440.5l10.0 10.0M324.2 450.5l10.0 -10.0M325.2 440.5l10.0 10.0M325.2 450.5l10.0 -10.0M326.3 440.5l10.0 10.0M326.3 450.5l10.0 -10.0M327.3 436.7l10.0 10.0M327.3 446.7l10.0 -10.0M328.3 440.5l10.0 10.0M328.3 450.5l10.0 -10.0M329.3 440.5l10.0 10.0M329.3 450.5l10.0 -10.0M330.4 440.5l10.0 10.0M330.4 450.5l10.0 -10.0M331.4 440.5l10.0 10.0M331.4 450.5l10.0 -10.0M332.4 440.5l10.0 10.0M332.4 450.5l10.0 -10.0M333.4 440.5l10.0 10.0M333.4 450.5l10.0 -10.0M334.5 440.5l10.0 10.0M334.5 450.5l10.0 -10.0M335.5 440.5l10.0 10.0M335.5 450.5l10.0 -10.0M336.5 440.5l10.0 10.0M336.5 450.5l10.0 -10.0M337.6 440.5l10.0 10.0M337.6 450.5l10.0 -10.0M338.6 440.5l10.0 10.0M338.6 450.5l10.0 -10.0M339.6 440.5l10.0 10.0M339.6 450.5l10.0 -10.0M340.6 440.5l10.0 10.0M340.6 450.5l10.0 -10.0M341.7 440.5l10.0 10.0M341.7 450.5l10.0 -10.0M342.7 440.5l10.0 10.0M342.7 450.5l10.0 -10.0M343.7 440.5l10.0 10.0M343.7 450.5l10.0 -10.0M344.7 440.5l10.0 10.0M344.7 450.5l10.0 -10.0M345.8 440.5l10.0 10.0M345.8 450.5l10.0 -10.0M346.8 440.5l10.0 10.0M346.8 450.5l10.0 -10.0M347.8 440.5l10.0 10.0M347.8 450.5l10.0 -10.0M348.9 440.5l10.0 10.0M348.9 450.5l10.0 -10.0M349.9 436.7l10.0 10.0M349.9 446.7l10.0 -10.0M350.9 440.5l10.0 10.0M350.9 450.5l10.0 -10.0M351.9 440.5l10.0 10.0M351.9 450.5l10.0 -10.0M353.0 440.5l10.0 10.0M353.0 450.5l10.0 -10.0M354.0 440.5l10.0 10.0M354.0 450.5l10.0 -10.0M355.0 440.5l10.0 10.0M355.0 450.5l10.0 -10.0M356.0 436.7l10.0 10.0M356.0 446.7l10.0 -10.0M357.1 440.5l10.0 10.0M357.1 450.5l10.0 -10.0M358.1 440.5l10.0 10.0M358.1 450.5l10.0 -10.0M359.1 440.5l10.0 10.0M359.1 450.5l10.0 -10.0M360.2 440.5l10.0 10.0M360.2 450.5l10.0 -10.0M361.2 440.5l10.0 10.0M361.2 450.5l10.0 -10.0M362.2 436.7l10.0 10.0M362.2 446.7l10.0 -10.0M363.2 440.5l10.0 10.0M363.2 450.5l10.0 -10.0M364.3 440.5l10.0 10.0M364.3 450.5l10.0 -10.0M365.3 440.5l10.0 10.0M365.3 450.5l10.0 -10.0M366.3 440.5l10.0 10.0M366.3 450.5l10.0 -10.0M367.4 440.5l10.0 10.0M367.4 450.5l10.0 -10.0M368.4 440.5l10.0 10.0M368.4 450.5l10.0 -10.0M369.4 440.5l10.0 10.0M369.4 450.5l10.0 -10.0M370.4 440.5l10.0 10.0M370.4 450.5l10.0 -10.0M371.5 440.5l10.0 10.0M371.5 450.5l10.0 -10.0M372.5 440.5l10.0 10.0M372.5 450.5l10.0 -10.0M373.5 440.5l10.0 10.0M373.5 450.5l10.0 -10.0M374.5 440.5l10.0 10.0M374.5 450.5l10.0 -10.0M375.6 440.5l10.0 10.0M375.6 450.5l10.0 -10.0M376.6 440.5l10.0 10.0M376.6 450.5l10.0 -10.0M377.6 440.5l10.0 10.0M377.6 450.5l10.0 -10.0M378.7 440.5l10.0 10.0M378.7 450.5l10.0 -10.0M379.7 440.5l10.0 10.0M379.7 450.5l10.0 -10.0M380.7 440.5l10.0 10.0M380.7 450.5l10.0 -10.0M381.7 440.5l10.0 10.0M381.7 450.5l10.0 -10.0M382.8 440.5l10.0 10.0M382.8 450.5l10.0 -10.0M383.8 440.5l10.0 10.0M383.8 450.5l10.0 -10.0M384.8 440.5l10.0 10.0M384.8 450.5l10.0 -10.0M385.8 440.5l10.0 10.0M385.8 450.5l10.0 -10.0M386.9 440.5l10.0 10.0M386.9 450.5l10.0 -10.0M387.9 440.5l10.0 10.0M387.9 450.5l10.0 -10.0M388.9 440.5l10.0 10.0M388.9 450.5l10.0 -10.0M390.0 440.5l10.0 10.0M390.0 450.5l10.0 -10.0M391.0 440.5l10.0 10.0M391.0 450.5l10.0 -10.0M392.0 440.5l10.0 10.0M392.0 450.5l10.0 -10.0M393.0 440.5l10.0 10.0M393.0 450.5l10.0 -10.0M394.1 440.5l10.0 10.0M394.1 450.5l10.0 -10.0M395.1 440.5l10.0 10.0M395.1 450.5l10.0 -10.0M396.1 436.7l10.0 10.0M396.1 446.7l10.0 -10.0M397.1 440.5l10.0 10.0M397.1 450.5l10.0 -10.0M398.2 440.5l10.0 10.0M398.2 450.5l10.0 -10.0M399.2 440.5l10.0 10.0M399.2 450.5l10.0 -10.0M400.2 440.5l10.0 10.0M400.2 450.5l10.0 -10.0M401.3 440.5l10.0 10.0M401.3 450.5l10.0 -10.0M402.3 440.5l10.0 10.0M402.3 450.5l10.0 -10.0M403.3 440.5l10.0 10.0M403.3 450.5l10.0 -10.0M404.3 440.5l10.0 10.0M404.3 450.5l10.0 -10.0M405.4 440.5l10.0 10.0M405.4 450.5l10.0 -10.0M406.4 440.5l10.0 10.0M406.4 450.5l10.0 -10.0M407.4 440.5l10.0 10.0M407.4 450.5l10.0 -10.0M408.5 440.5l10.0 10.0M408.5 450.5l10.0 -10.0M409.5 440.5l10.0 10.0M409.5 450.5l10.0 -10.0M410.5 440.5l10.0 10.0M410.5 450.5l10.0 -10.0M411.5 440.5l10.0 10.0M411.5 450.5l10.0 -10.0M412.6 440.5l10.0 10.0M412.6 450.5l10.0 -10.0M413.6 440.5l10.0 10.0M413.6 450.5l10.0 -10.0M414.6 440.5l10.0 10.0M414.6 450.5l10.0 -10.0M415.6 440.5l10.0 10.0M415.6 450.5l10.0 -10.0M416.7 440.5l10.0 10.0M416.7 450.5l10.0 -10.0M417.7 440.5l10.0 10.0M417.7 450.5l10.0 -10.0M418.7 440.5l10.0 10.0M418.7 450.5l10.0 -10.0M419.8 440.5l10.0 10.0M419.8 450.5l10.0 -10.0M420.8 440.5l10.0 10.0M420.8 450.5l10.0 -10.0M421.8 440.5l10.0 10.0M421.8 450.5l10.0 -10.0M422.8 440.5l10.0 10.0M422.8 450.5l10.0 -10.0M423.9 440.5l10.0 10.0M423.9 450.5l10.0 -10.0M424.9 440.5l10.0 10.0M424.9 450.5l10.0 -10.0M425.9 440.5l10.0 10.0M425.9 450.5l10.0 -10.0M426.9 440.5l10.0 10.0M426.9 450.5l10.0 -10.0M428.0 440.5l10.0 10.0M428.0 450.5l10.0 -10.0M429.0 440.5l10.0 10.0M429.0 450.5l10.0 -10.0M430.0 440.5l10.0 10.0M430.0 450.5l10.0 -10.0M431.1 440.5l10.0 10.0M431.1 450.5l10.0 -10.0M432.1 440.5l10.0 10.0M432.1 450.5l10.0 -10.0M433.1 440.5l10.0 10.0M433.1 450.5l10.0 -10.0M434.1 440.5l10.0 10.0M434.1 450.5l10.0 -10.0M435.2 440.5l10.0 10.0M435.2 450.5l10.0 -10.0M436.2 440.5l10.0 10.0M436.2 450.5l10.0 -10.0M437.2 440.5l10.0 10.0M437.2 450.5l10.0 -10.0M438.2 436.7l10.0 10.0M438.2 446.7l10.0 -10.0M439.3 440.5l10.0 10.0M439.3 450.5l10.0 -10.0M440.3 440.5l10.0 10.0M440.3 450.5l10.0 -10.0M441.3 440.5l10.0 10.0M441.3 450.5l10.0 -10.0M442.4 440.5l10.0 10.0M442.4 450.5l10.0 -10.0M443.4 440.5l10.0 10.0M443.4 450.5l10.0 -10.0M444.4 440.5l10.0 10.0M444.4 450.5l10.0 -10.0M445.4 440.5l10.0 10.0M445.4 450.5l10.0 -10.0M446.5 440.5l10.0 10.0M446.5 450.5l10.0 -10.0M447.5 440.5l10.0 10.0M447.5 450.5l10.0 -10.0M448.5 440.5l10.0 10.0M448.5 450.5l10.0 -10.0M449.6 440.5l10.0 10.0M449.6 450.5l10.0 -10.0M450.6 436.7l10.0 10.0M450.6 446.7l10.0 -10.0M451.6 436.7l10.0 10.0M451.6 446.7l10.0 -10.0M452.6 440.5l10.0 10.0M452.6 450.5l10.0 -10.0M453.7 440.5l10.0 10.0M453.7 450.5l10.0 -10.0M454.7 440.5l10.0 10.0M454.7 450.5l10.0 -10.0M455.7 440.5l10.0 10.0M455.7 450.5l10.0 -10.0M456.7 440.5l10.0 10.0M456.7 450.5l10.0 -10.0M457.8 440.5l10.0 10.0M457.8 450.5l10.0 -10.0M458.8 440.5l10.0 10.0M458.8 450.5l10.0 -10.0M459.8 440.5l10.0 10.0M459.8 450.5l10.0 -10.0M460.9 440.5l10.0 10.0M460.9 450.5l10.0 -10.0M461.9 436.7l10.0 10.0M461.9 446.7l10.0 -10.0M462.9 436.7l10.0 10.0M462.9 446.7l10.0 -10.0M463.9 440.5l10.0 10.0M463.9 450.5l10.0 -10.0M465.0 440.5l10.0 10.0M465.0 450.5l10.0 -10.0M466.0 440.5l10.0 10.0M466.0 450.5l10.0 -10.0M467.0 440.5l10.0 10.0M467.0 450.5l10.0 -10.0M468.0 440.5l10.0 10.0M468.0 450.5l10.0 -10.0M469.1 440.5l10.0 10.0M469.1 450.5l10.0 -10.0M470.1 440.5l10.0 10.0M470.1 450.5l10.0 -10.0M471.1 440.5l10.0 10.0M471.1 450.5l10.0 -10.0M472.2 440.5l10.0 10.0M472.2 450.5l10.0 -10.0M473.2 440.5l10.0 10.0M473.2 450.5l10.0 -10.0M474.2 440.5l10.0 10.0M474.2 450.5l10.0 -10.0M475.2 440.5l10.0 10.0M475.2 450.5l10.0 -10.0M476.3 440.5l10.0 10.0M476.3 450.5l10.0 -10.0M477.3 440.5l10.0 10.0M477.3 450.5l10.0 -10.0M478.3 440.5l10.0 10.0M478.3 450.5l10.0 -10.0M479.4 440.5l10.0 10.0M479.4 450.5l10.0 -10.0M480.4 440.5l10.0 10.0M480.4 450.5l10.0 -10.0M481.4 440.5l10.0 10.0M481.4 450.5l10.0 -10.0M482.4 440.5l10.0 10.0M482.4 450.5l10.0 -10.0M483.5 440.5l10.0 10.0M483.5 450.5l10.0 -10.0M484.5 440.5l10.0 10.0M484.5 450.5l10.0 -10.0M485.5 440.5l10.0 10.0M485.5 450.5l10.0 -10.0M486.5 440.5l10.0 10.0M486.5 450.5l10.0 -10.0M487.6 440.5l10.0 10.0M487.6 450.5l10.0 -10.0M488.6 440.5l10.0 10.0M488.6 450.5l10.0 -10.0M489.6 440.5l10.0 10.0M489.6 450.5l10.0 -10.0M490.7 436.7l10.0 10.0M490.7 446.7l10.0 -10.0M491.7 440.5l10.0 10.0M491.7 450.5l10.0 -10.0M492.7 440.5l10.0 10.0M492.7 450.5l10.0 -10.0M493.7 436.7l10.0 10.0M493.7 446.7l10.0 -10.0M494.8 440.5l10.0 10.0M494.8 450.5l10.0 -10.0M495.8 440.5l10.0 10.0M495.8 450.5l10.0 -10.0M496.8 440.5l10.0 10.0M496.8 450.5l10.0 -10.0M497.8 440.5l10.0 10.0M497.8 450.5l10.0 -10.0M498.9 440.5l10.0 10.0M498.9 450.5l10.0 -10.0M499.9 440.5l10.0 10.0M499.9 450.5l10.0 -10.0M500.9 440.5l10.0 10.0M500.9 450.5l10.0 -10.0M502.0 440.5l10.0 10.0M502.0 450.5l10.0 -10.0M503.0 440.5l10.0 10.0M503.0 450.5l10.0 -10.0M504.0 440.5l10.0 10.0M504.0 450.5l10.0 -10.0M505.0 440.5l10.0 10.0M505.0 450.5l10.0 -10.0M506.1 440.5l10.0 10.0M506.1 450.5l10.0 -10.0M507.1 440.5l10.0 10.0M507.1 450.5l10.0 -10.0M508.1 440.5l10.0 10.0M508.1 450.5l10.0 -10.0M509.1 440.5l10.0 10.0M509.1 450.5l10.0 -10.0M510.2 440.5l10.0 10.0M510.2 450.5l10.0 -10.0M511.2 440.5l10.0 10.0M511.2 450.5l10.0 -10.0M512.2 440.5l10.0 10.0M512.2 450.5l10.0 -10.0M513.3 440.5l10.0 10.0M513.3 450.5l10.0 -10.0M514.3 440.5l10.0 10.0M514.3 450.5l10.0 -10.0M515.3 440.5l10.0 10.0M515.3 450.5l10.0 -10.0M516.3 440.5l10.0 10.0M516.3 450.5l10.0 -10.0M517.4 440.5l10.0 10.0M517.4 450.5l10.0 -10.0M518.4 440.5l10.0 10.0M518.4 450.5l10.0 -10.0M519.4 440.5l10.0 10.0M519.4 450.5l10.0 -10.0M520.5 440.5l10.0 10.0M520.5 450.5l10.0 -10.0M521.5 440.5l10.0 10.0M521.5 450.5l10.0 -10.0M522.5 440.5l10.0 10.0M522.5 450.5l10.0 -10.0M523.5 440.5l10.0 10.0M523.5 450.5l10.0 -10.0M524.6 440.5l10.0 10.0M524.6 450.5l10.0 -10.0M525.6 441.3l10.0 10.0M525.6 451.3l10.0 -10.0M527.6 441.4l10.0 10.0M527.6 451.4l10.0 -10.0M529.7 440.3l10.0 10.0M529.7 450.3l10.0 -10.0M531.8 439.7l10.0 10.0M531.8 449.7l10.0 -10.0M533.8 440.6l10.0 10.0M533.8 450.6l10.0 -10.0M535.9 440.8l10.0 10.0M535.9 450.8l10.0 -10.0M537.9 440.0l10.0 10.0M537.9 450.0l10.0 -10.0M540.0 439.7l10.0 10.0M540.0 449.7l10.0 -10.0M542.0 440.9l10.0 10.0M542.0 450.9l10.0 -10.0M544.1 439.6l10.0 10.0M544.1 449.6l10.0 -10.0M546.1 440.5l10.0 10.0M546.1 450.5l10.0 -10.0M570.8 377.4l10.0 10.0M570.8 387.4l10.0 -10.0M527.0 384.1l10.0 10.0M527.0 394.1l10.0 -10.0M549.8 387.6l10.0 10.0M549.8 397.6l10.0 -10.0M531.1 408.1l10.0 10.0M531.1 418.1l10.0 -10.0M527.5 423.3l10.0 10.0M527.5 433.3l10.0 -10.0M536.9 425.6l10.0 10.0M536.9 435.6l10.0 -10.0M552.1 426.8l10.0 10.0M552.1 436.8l10.0 -10.0M566.1 425.6l10.0 10.0M566.1 435.6l10.0 -10.0M533.4 438.5l10.0 10.0M533.4 448.5l10.0 -10.0M540.4 436.1l10.0 10.0M540.4 446.1l10.0 -10.0M548.6 435.0l10.0 10.0M548.6 445.0l10.0 -10.0M556.8 436.1l10.0 10.0M556.8 446.1l10.0 -10.0M563.8 432.6l10.0 10.0M563.8 442.6l10.0 -10.0M568.5 438.5l10.0 10.0M568.5 448.5l10.0 -10.0M529.9 442.0l10.0 10.0M529.9 452.0l10.0 -10.0M538.1 443.2l10.0 10.0M538.1 453.2l10.0 -10.0M545.1 443.2l10.0 10.0M545.1 453.2l10.0 -10.0M579.0 388.8l10.0 10.0M579.0 398.8l10.0 -10.0M572.0 382.9l10.0 10.0M572.0 392.9l10.0 -10.0M604.2 394.6l10.0 10.0M604.2 404.6l10.0 -10.0M611.8 387.0l10.0 10.0M611.8 397.0l10.0 -10.0M618.8 388.2l10.0 10.0M618.8 398.2l10.0 -10.0M571.4 411.6l10.0 10.0M571.4 421.6l10.0 -10.0M576.7 412.7l10.0 10.0M576.7 422.7l10.0 -10.0M598.9 412.7l10.0 10.0M598.9 422.7l10.0 -10.0M620.0 406.9l10.0 10.0M620.0 416.9l10.0 -10.0M567.3 423.3l10.0 10.0M567.3 433.3l10.0 -10.0M574.4 422.1l10.0 10.0M574.4 432.1l10.0 -10.0M582.5 418.6l10.0 10.0M582.5 428.6l10.0 -10.0M588.4 420.9l10.0 10.0M588.4 430.9l10.0 -10.0M594.2 417.4l10.0 10.0M594.2 427.4l10.0 -10.0M603.6 419.8l10.0 10.0M603.6 429.8l10.0 -10.0M609.4 416.3l10.0 10.0M609.4 426.3l10.0 -10.0M615.3 415.1l10.0 10.0M615.3 425.1l10.0 -10.0M569.7 430.3l10.0 10.0M569.7 440.3l10.0 -10.0M577.9 429.1l10.0 10.0M577.9 439.1l10.0 -10.0M586.1 432.6l10.0 10.0M586.1 442.6l10.0 -10.0M593.1 431.5l10.0 10.0M593.1 441.5l10.0 -10.0M600.1 430.3l10.0 10.0M600.1 440.3l10.0 -10.0M607.1 426.8l10.0 10.0M607.1 436.8l10.0 -10.0M614.1 424.4l10.0 10.0M614.1 434.4l10.0 -10.0M621.1 422.1l10.0 10.0M621.1 432.1l10.0 -10.0M588.4 438.5l10.0 10.0M588.4 448.5l10.0 -10.0M595.4 436.1l10.0 10.0M595.4 446.1l10.0 -10.0M603.6 438.5l10.0 10.0M603.6 448.5l10.0 -10.0M616.5 433.8l10.0 10.0M616.5 443.8l10.0 -10.0M623.5 430.3l10.0 10.0M623.5 440.3l10.0 -10.0M582.5 440.8l10.0 10.0M582.5 450.8l10.0 -10.0M576.7 438.5l10.0 10.0M576.7 448.5l10.0 -10.0M586.4 441.9l10.0 10.0M586.4 451.9l10.0 -10.0M596.4 442.5l10.0 10.0M596.4 452.5l10.0 -10.0M602.7 441.3l10.0 10.0M602.7 451.3l10.0 -10.0M615.3 441.9l10.0 10.0M615.3 451.9l10.0 -10.0M657.7 401.4l10.0 10.0M657.7 411.4l10.0 -10.0M652.7 404.0l10.0 10.0M652.7 414.0l10.0 -10.0M661.5 407.7l10.0 10.0M661.5 417.7l10.0 -10.0M670.3 406.5l10.0 10.0M670.3 416.5l10.0 -10.0M672.8 395.2l10.0 10.0M672.8 405.2l10.0 -10.0M664.0 412.8l10.0 10.0M664.0 422.8l10.0 -10.0M676.6 411.5l10.0 10.0M676.6 421.5l10.0 -10.0M622.5 410.3l10.0 10.0M622.5 420.3l10.0 -10.0M628.8 414.0l10.0 10.0M628.8 424.0l10.0 -10.0M633.8 416.5l10.0 10.0M633.8 426.5l10.0 -10.0M638.9 420.3l10.0 10.0M638.9 430.3l10.0 -10.0M643.9 416.5l10.0 10.0M643.9 426.5l10.0 -10.0M650.2 420.3l10.0 10.0M650.2 430.3l10.0 -10.0M655.2 422.8l10.0 10.0M655.2 432.8l10.0 -10.0M635.1 425.3l10.0 10.0M635.1 435.3l10.0 -10.0M627.5 432.9l10.0 10.0M627.5 442.9l10.0 -10.0M632.6 430.4l10.0 10.0M632.6 440.4l10.0 -10.0M641.4 435.4l10.0 10.0M641.4 445.4l10.0 -10.0M657.7 417.8l10.0 10.0M657.7 427.8l10.0 -10.0M622.5 427.9l10.0 10.0M622.5 437.9l10.0 -10.0M670.3 415.3l10.0 10.0M670.3 425.3l10.0 -10.0M682.5 401.4l10.0 10.0M682.5 411.4l10.0 -10.0M687.5 407.7l10.0 10.0M687.5 417.7l10.0 -10.0M695.1 406.5l10.0 10.0M695.1 416.5l10.0 -10.0M701.4 410.3l10.0 10.0M701.4 420.3l10.0 -10.0M707.7 411.5l10.0 10.0M707.7 421.5l10.0 -10.0M715.2 405.2l10.0 10.0M715.2 415.2l10.0 -10.0M721.5 407.7l10.0 10.0M721.5 417.7l10.0 -10.0M729.1 396.4l10.0 10.0M729.1 406.4l10.0 -10.0M732.8 400.2l10.0 10.0M732.8 410.2l10.0 -10.0M737.9 405.2l10.0 10.0M737.9 415.2l10.0 -10.0M682.5 415.3l10.0 10.0M682.5 425.3l10.0 -10.0M688.8 417.8l10.0 10.0M688.8 427.8l10.0 -10.0M696.4 416.5l10.0 10.0M696.4 426.5l10.0 -10.0M703.9 417.8l10.0 10.0M703.9 427.8l10.0 -10.0M710.2 416.5l10.0 10.0M710.2 426.5l10.0 -10.0M717.7 415.3l10.0 10.0M717.7 425.3l10.0 -10.0M725.3 417.8l10.0 10.0M725.3 427.8l10.0 -10.0M732.8 414.0l10.0 10.0M732.8 424.0l10.0 -10.0M737.9 412.8l10.0 10.0M737.9 422.8l10.0 -10.0M683.8 424.1l10.0 10.0M683.8 434.1l10.0 -10.0M691.3 422.8l10.0 10.0M691.3 432.8l10.0 -10.0M698.9 421.6l10.0 10.0M698.9 431.6l10.0 -10.0M706.4 424.1l10.0 10.0M706.4 434.1l10.0 -10.0M714.0 422.8l10.0 10.0M714.0 432.8l10.0 -10.0M721.5 420.3l10.0 10.0M721.5 430.3l10.0 -10.0M730.3 422.8l10.0 10.0M730.3 432.8l10.0 -10.0M735.3 422.8l10.0 10.0M735.3 432.8l10.0 -10.0M739.1 417.8l10.0 10.0M739.1 427.8l10.0 -10.0M645.8 441.9l10.0 10.0M645.8 451.9l10.0 -10.0M794.7 322.6l10.0 10.0M794.7 332.6l10.0 -10.0M792.8 340.2l10.0 10.0M792.8 350.2l10.0 -10.0M797.9 347.7l10.0 10.0M797.9 357.7l10.0 -10.0M790.3 350.3l10.0 10.0M790.3 360.3l10.0 -10.0M795.3 355.3l10.0 10.0M795.3 365.3l10.0 -10.0M782.8 352.8l10.0 10.0M782.8 362.8l10.0 -10.0M787.8 360.3l10.0 10.0M787.8 370.3l10.0 -10.0M796.6 362.8l10.0 10.0M796.6 372.8l10.0 -10.0M782.8 369.1l10.0 10.0M782.8 379.1l10.0 -10.0M790.3 370.4l10.0 10.0M790.3 380.4l10.0 -10.0M797.9 367.9l10.0 10.0M797.9 377.9l10.0 -10.0M785.3 376.7l10.0 10.0M785.3 386.7l10.0 -10.0M792.8 376.7l10.0 10.0M792.8 386.7l10.0 -10.0M780.3 362.8l10.0 10.0M780.3 372.8l10.0 -10.0M801.3 346.5l10.0 10.0M801.3 356.5l10.0 -10.0M805.0 352.8l10.0 10.0M805.0 362.8l10.0 -10.0M808.8 357.8l10.0 10.0M808.8 367.8l10.0 -10.0M813.8 362.8l10.0 10.0M813.8 372.8l10.0 -10.0M817.6 365.3l10.0 10.0M817.6 375.3l10.0 -10.0M802.5 362.8l10.0 10.0M802.5 372.8l10.0 -10.0M807.5 367.9l10.0 10.0M807.5 377.9l10.0 -10.0M812.6 372.9l10.0 10.0M812.6 382.9l10.0 -10.0M803.8 374.2l10.0 10.0M803.8 384.2l10.0 -10.0M816.4 372.9l10.0 10.0M816.4 382.9l10.0 -10.0M784.0 378.8l10.0 10.0M784.0 388.8l10.0 -10.0M790.3 377.5l10.0 10.0M790.3 387.5l10.0 -10.0M795.3 383.8l10.0 10.0M795.3 393.8l10.0 -10.0M782.8 386.3l10.0 10.0M782.8 396.3l10.0 -10.0M780.3 392.6l10.0 10.0M780.3 402.6l10.0 -10.0M775.2 397.6l10.0 10.0M775.2 407.6l10.0 -10.0M777.7 402.7l10.0 10.0M777.7 412.7l10.0 -10.0M771.4 401.4l10.0 10.0M771.4 411.4l10.0 -10.0M767.7 405.2l10.0 10.0M767.7 415.2l10.0 -10.0M762.6 407.7l10.0 10.0M762.6 417.7l10.0 -10.0M757.6 409.0l10.0 10.0M757.6 419.0l10.0 -10.0M752.6 410.2l10.0 10.0M752.6 420.2l10.0 -10.0M747.5 412.7l10.0 10.0M747.5 422.7l10.0 -10.0M742.5 407.7l10.0 10.0M742.5 417.7l10.0 -10.0M760.1 415.3l10.0 10.0M760.1 425.3l10.0 -10.0M767.7 412.7l10.0 10.0M767.7 422.7l10.0 -10.0M772.7 410.2l10.0 10.0M772.7 420.2l10.0 -10.0M777.7 407.7l10.0 10.0M777.7 417.7l10.0 -10.0M750.1 417.8l10.0 10.0M750.1 427.8l10.0 -10.0M757.6 421.5l10.0 10.0M757.6 431.5l10.0 -10.0M763.9 420.3l10.0 10.0M763.9 430.3l10.0 -10.0M770.2 416.5l10.0 10.0M770.2 426.5l10.0 -10.0M745.0 421.5l10.0 10.0M745.0 431.5l10.0 -10.0M805.0 377.5l10.0 10.0M805.0 387.5l10.0 -10.0M811.3 378.8l10.0 10.0M811.3 388.8l10.0 -10.0M816.4 383.8l10.0 10.0M816.4 393.8l10.0 -10.0M817.6 388.8l10.0 10.0M817.6 398.8l10.0 -10.0M806.3 385.1l10.0 10.0M806.3 395.1l10.0 -10.0M823.9 416.5l10.0 10.0M823.9 426.5l10.0 -10.0M825.2 422.8l10.0 10.0M825.2 432.8l10.0 -10.0M828.9 425.3l10.0 10.0M828.9 435.3l10.0 -10.0M830.2 432.9l10.0 10.0M830.2 442.9l10.0 -10.0M826.4 429.1l10.0 10.0M826.4 439.1l10.0 -10.0M819.5 507.9l10.0 10.0M819.5 517.9l10.0 -10.0M547.0 436.8l10.0 10.0M547.0 446.8l10.0 -10.0M550.5 433.3l10.0 10.0M550.5 443.3l10.0 -10.0M550.6 434.2l10.0 10.0M550.6 444.2l10.0 -10.0M554.1 435.1l10.0 10.0M554.1 445.1l10.0 -10.0M558.4 435.7l10.0 10.0M558.4 445.7l10.0 -10.0M559.1 433.9l10.0 10.0M559.1 443.9l10.0 -10.0M561.8 426.2l10.0 10.0M561.8 436.2l10.0 -10.0M564.8 434.1l10.0 10.0M564.8 444.1l10.0 -10.0M566.9 433.4l10.0 10.0M566.9 443.4l10.0 -10.0M567.4 427.7l10.0 10.0M567.4 437.7l10.0 -10.0M568.6 429.6l10.0 10.0M568.6 439.6l10.0 -10.0M568.4 423.8l10.0 10.0M568.4 433.8l10.0 -10.0M571.2 425.5l10.0 10.0M571.2 435.5l10.0 -10.0M574.0 424.7l10.0 10.0M574.0 434.7l10.0 -10.0M575.0 426.5l10.0 10.0M575.0 436.5l10.0 -10.0M577.7 429.5l10.0 10.0M577.7 439.5l10.0 -10.0M579.7 436.2l10.0 10.0M579.7 446.2l10.0 -10.0M584.0 428.1l10.0 10.0M584.0 438.1l10.0 -10.0M585.0 431.0l10.0 10.0M585.0 441.0l10.0 -10.0M587.7 428.8l10.0 10.0M587.7 438.8l10.0 -10.0M591.7 439.8l10.0 10.0M591.7 449.8l10.0 -10.0M592.6 434.3l10.0 10.0M592.6 444.3l10.0 -10.0M593.5 430.2l10.0 10.0M593.5 440.2l10.0 -10.0M592.4 425.2l10.0 10.0M592.4 435.2l10.0 -10.0M596.4 423.3l10.0 10.0M596.4 433.3l10.0 -10.0M595.8 432.1l10.0 10.0M595.8 442.1l10.0 -10.0M599.9 421.8l10.0 10.0M599.9 431.8l10.0 -10.0M602.2 419.7l10.0 10.0M602.2 429.7l10.0 -10.0M604.4 430.4l10.0 10.0M604.4 440.4l10.0 -10.0M607.8 426.4l10.0 10.0M607.8 436.4l10.0 -10.0M607.9 421.7l10.0 10.0M607.9 431.7l10.0 -10.0M609.8 425.9l10.0 10.0M609.8 435.9l10.0 -10.0M613.4 425.3l10.0 10.0M613.4 435.3l10.0 -10.0M614.9 418.0l10.0 10.0M614.9 428.0l10.0 -10.0M618.9 426.5l10.0 10.0M618.9 436.5l10.0 -10.0M621.3 423.7l10.0 10.0M621.3 433.7l10.0 -10.0M621.3 422.4l10.0 10.0M621.3 432.4l10.0 -10.0M620.9 419.1l10.0 10.0M620.9 429.1l10.0 -10.0M623.5 412.1l10.0 10.0M623.5 422.1l10.0 -10.0M624.2 415.4l10.0 10.0M624.2 425.4l10.0 -10.0M627.2 421.0l10.0 10.0M627.2 431.0l10.0 -10.0M632.2 417.4l10.0 10.0M632.2 427.4l10.0 -10.0M634.2 424.8l10.0 10.0M634.2 434.8l10.0 -10.0M636.3 415.9l10.0 10.0M636.3 425.9l10.0 -10.0M635.3 413.8l10.0 10.0M635.3 423.8l10.0 -10.0M637.3 413.3l10.0 10.0M637.3 423.3l10.0 -10.0M641.1 422.8l10.0 10.0M641.1 432.8l10.0 -10.0M644.1 416.8l10.0 10.0M644.1 426.8l10.0 -10.0M645.3 421.1l10.0 10.0M645.3 431.1l10.0 -10.0M645.0 419.0l10.0 10.0M645.0 429.0l10.0 -10.0M650.5 420.5l10.0 10.0M650.5 430.5l10.0 -10.0M651.9 416.0l10.0 10.0M651.9 426.0l10.0 -10.0M651.6 420.2l10.0 10.0M651.6 430.2l10.0 -10.0M654.3 420.2l10.0 10.0M654.3 430.2l10.0 -10.0M657.0 414.5l10.0 10.0M657.0 424.5l10.0 -10.0M656.6 422.4l10.0 10.0M656.6 432.4l10.0 -10.0M659.9 411.6l10.0 10.0M659.9 421.6l10.0 -10.0M659.4 411.5l10.0 10.0M659.4 421.5l10.0 -10.0M664.7 420.8l10.0 10.0M664.7 430.8l10.0 -10.0M663.5 421.2l10.0 10.0M663.5 431.2l10.0 -10.0M669.0 419.0l10.0 10.0M669.0 429.0l10.0 -10.0M668.4 417.6l10.0 10.0M668.4 427.6l10.0 -10.0M669.5 410.3l10.0 10.0M669.5 420.3l10.0 -10.0M675.0 419.3l10.0 10.0M675.0 429.3l10.0 -10.0M675.1 423.4l10.0 10.0M675.1 433.4l10.0 -10.0M676.7 422.7l10.0 10.0M676.7 432.7l10.0 -10.0M680.4 413.6l10.0 10.0M680.4 423.6l10.0 -10.0M680.0 414.8l10.0 10.0M680.0 424.8l10.0 -10.0M681.9 419.1l10.0 10.0M681.9 429.1l10.0 -10.0M684.0 416.9l10.0 10.0M684.0 426.9l10.0 -10.0M683.5 423.7l10.0 10.0M683.5 433.7l10.0 -10.0M686.5 417.0l10.0 10.0M686.5 427.0l10.0 -10.0M689.5 422.8l10.0 10.0M689.5 432.8l10.0 -10.0M690.9 422.6l10.0 10.0M690.9 432.6l10.0 -10.0M693.3 416.8l10.0 10.0M693.3 426.8l10.0 -10.0M695.5 409.2l10.0 10.0M695.5 419.2l10.0 -10.0M697.2 411.1l10.0 10.0M697.2 421.1l10.0 -10.0M697.5 419.3l10.0 10.0M697.5 429.3l10.0 -10.0M700.3 414.3l10.0 10.0M700.3 424.3l10.0 -10.0M704.7 415.0l10.0 10.0M704.7 425.0l10.0 -10.0M705.1 414.1l10.0 10.0M705.1 424.1l10.0 -10.0M708.1 417.4l10.0 10.0M708.1 427.4l10.0 -10.0M708.3 413.8l10.0 10.0M708.3 423.8l10.0 -10.0M708.9 409.9l10.0 10.0M708.9 419.9l10.0 -10.0M713.1 412.9l10.0 10.0M713.1 422.9l10.0 -10.0M714.3 416.2l10.0 10.0M714.3 426.2l10.0 -10.0M717.7 411.6l10.0 10.0M717.7 421.6l10.0 -10.0M718.5 412.3l10.0 10.0M718.5 422.3l10.0 -10.0M720.1 414.7l10.0 10.0M720.1 424.7l10.0 -10.0M721.8 412.3l10.0 10.0M721.8 422.3l10.0 -10.0M723.9 417.8l10.0 10.0M723.9 427.8l10.0 -10.0M726.8 416.7l10.0 10.0M726.8 426.7l10.0 -10.0M729.9 407.8l10.0 10.0M729.9 417.8l10.0 -10.0M730.2 417.2l10.0 10.0M730.2 427.2l10.0 -10.0M733.4 405.7l10.0 10.0M733.4 415.7l10.0 -10.0M732.4 409.8l10.0 10.0M732.4 419.8l10.0 -10.0M734.2 406.8l10.0 10.0M734.2 416.8l10.0 -10.0M736.2 412.6l10.0 10.0M736.2 422.6l10.0 -10.0M741.2 415.6l10.0 10.0M741.2 425.6l10.0 -10.0M738.8 412.6l10.0 10.0M738.8 422.6l10.0 -10.0M742.7 405.5l10.0 10.0M742.7 415.5l10.0 -10.0M745.5 415.3l10.0 10.0M745.5 425.3l10.0 -10.0M745.2 414.9l10.0 10.0M745.2 424.9l10.0 -10.0M748.0 409.2l10.0 10.0M748.0 419.2l10.0 -10.0M752.2 413.2l10.0 10.0M752.2 423.2l10.0 -10.0M751.3 408.2l10.0 10.0M751.3 418.2l10.0 -10.0M754.6 406.9l10.0 10.0M754.6 416.9l10.0 -10.0M755.6 406.5l10.0 10.0M755.6 416.5l10.0 -10.0M759.5 402.7l10.0 10.0M759.5 412.7l10.0 -10.0M761.0 407.6l10.0 10.0M761.0 417.6l10.0 -10.0M761.2 406.1l10.0 10.0M761.2 416.1l10.0 -10.0M765.4 408.1l10.0 10.0M765.4 418.1l10.0 -10.0M764.0 410.9l10.0 10.0M764.0 420.9l10.0 -10.0M767.7 409.3l10.0 10.0M767.7 419.3l10.0 -10.0M768.1 402.1l10.0 10.0M768.1 412.1l10.0 -10.0M769.9 404.7l10.0 10.0M769.9 414.7l10.0 -10.0M772.4 398.0l10.0 10.0M772.4 408.0l10.0 -10.0M774.8 402.8l10.0 10.0M774.8 412.8l10.0 -10.0M777.8 396.1l10.0 10.0M777.8 406.1l10.0 -10.0M778.2 399.9l10.0 10.0M778.2 409.9l10.0 -10.0M781.2 396.6l10.0 10.0M781.2 406.6l10.0 -10.0M798.0 355.5l10.0 10.0M798.0 365.5l10.0 -10.0M801.1 360.4l10.0 10.0M801.1 370.4l10.0 -10.0M801.2 366.5l10.0 10.0M801.2 376.5l10.0 -10.0M804.2 367.4l10.0 10.0M804.2 377.4l10.0 -10.0M804.5 369.8l10.0 10.0M804.5 379.8l10.0 -10.0M806.1 371.9l10.0 10.0M806.1 381.9l10.0 -10.0M808.6 369.7l10.0 10.0M808.6 379.7l10.0 -10.0M810.5 376.4l10.0 10.0M810.5 386.4l10.0 -10.0M811.4 372.0l10.0 10.0M811.4 382.0l10.0 -10.0" stroke="#009e73" stroke-width="1.1" fill="none"/><path d="M88.9 502.9h10.0M93.9 497.9v10.0M89.9 504.0h10.0M94.9 499.0v10.0M91.0 502.9h10.0M96.0 497.9v10.0M92.0 503.6h10.0M97.0 498.6v10.0M93.0 504.3h10.0M98.0 499.3v10.0M94.0 502.2h10.0M99.0 497.2v10.0M95.1 502.9h10.0M100.1 497.9v10.0M96.1 502.9h10.0M101.1 497.9v10.0M97.1 504.0h10.0M102.1 499.0v10.0M98.1 504.3h10.0M103.1 499.3v10.0M99.2 504.3h10.0M104.2 499.3v10.0M100.2 504.3h10.0M105.2 499.3v10.0M101.2 502.2h10.0M106.2 497.2v10.0M102.3 504.0h10.0M107.3 499.0v10.0M103.3 502.9h10.0M108.3 497.9v10.0M104.3 504.3h10.0M109.3 499.3v10.0M105.3 502.9h10.0M110.3 497.9v10.0M106.4 503.6h10.0M111.4 498.6v10.0M107.4 504.0h10.0M112.4 499.0v10.0M108.4 504.3h10.0M113.4 499.3v10.0M109.5 502.2h10.0M114.5 497.2v10.0M110.5 504.0h10.0M115.5 499.0v10.0M111.5 502.2h10.0M116.5 497.2v10.0M112.5 502.2h10.0M117.5 497.2v10.0M113.6 503.6h10.0M118.6 498.6v10.0M114.6 502.2h10.0M119.6 497.2v10.0M115.6 504.0h10.0M120.6 499.0v10.0M116.6 503.6h10.0M121.6 498.6v10.0M117.7 502.9h10.0M122.7 497.9v10.0M118.7 504.3h10.0M123.7 499.3v10.0M119.7 503.6h10.0M124.7 498.6v10.0M120.8 504.0h10.0M125.8 499.0v10.0M121.8 502.2h10.0M126.8 497.2v10.0M122.8 504.3h10.0M127.8 499.3v10.0M123.8 503.6h10.0M128.8 498.6v10.0M124.9 504.0h10.0M129.9 499.0v10.0M125.9 503.6h10.0M130.9 498.6v10.0M126.9 503.6h10.0M131.9 498.6v10.0M127.9 504.3h10.0M132.9 499.3v10.0M129.0 504.0h10.0M134.0 499.0v10.0M130.0 502.2h10.0M135.0 497.2v10.0M131.0 504.3h10.0M136.0 499.3v10.0M132.1 504.0h10.0M137.1 499.0v10.0M133.1 502.2h10.0M138.1 497.2v10.0M134.1 502.2h10.0M139.1 497.2v10.0M135.1 502.9h10.0M140.1 497.9v10.0M136.2 502.9h10.0M141.2 497.9v10.0M137.2 504.0h10.0M142.2 499.0v10.0M138.2 504.3h10.0M143.2 499.3v10.0M139.2 502.9h10.0M144.2 497.9v10.0M140.3 504.3h10.0M145.3 499.3v10.0M141.3 502.2h10.0M146.3 497.2v10.0M142.3 504.3h10.0M147.3 499.3v10.0M143.4 502.2h10.0M148.4 497.2v10.0M144.4 502.9h10.0M149.4 497.9v10.0M145.4 502.2h10.0M150.4 497.2v10.0M146.4 502.9h10.0M151.4 497.9v10.0M147.5 503.6h10.0M152.5 498.6v10.0M148.5 503.6h10.0M153.5 498.6v10.0M149.5 502.9h10.0M154.5 497.9v10.0M150.6 502.2h10.0M155.6 497.2v10.0M151.6 504.3h10.0M156.6 499.3v10.0M152.6 502.2h10.0M157.6 497.2v10.0M153.6 503.6h10.0M158.6 498.6v10.0M154.7 504.0h10.0M159.7 499.0v10.0M155.7 502.9h10.0M160.7 497.9v10.0M156.7 503.6h10.0M161.7 498.6v10.0M157.7 504.0h10.0M162.7 499.0v10.0M158.8 502.2h10.0M163.8 497.2v10.0M159.8 502.2h10.0M164.8 497.2v10.0M160.8 503.6h10.0M165.8 498.6v10.0M161.9 504.3h10.0M166.9 499.3v10.0M162.9 504.3h10.0M167.9 499.3v10.0M163.9 504.3h10.0M168.9 499.3v10.0M164.9 504.3h10.0M169.9 499.3v10.0M166.0 504.3h10.0M171.0 499.3v10.0M167.0 504.3h10.0M172.0 499.3v10.0M168.0 502.2h10.0M173.0 497.2v10.0M169.0 502.9h10.0M174.0 497.9v10.0M170.1 504.3h10.0M175.1 499.3v10.0M171.1 503.6h10.0M176.1 498.6v10.0M172.1 504.3h10.0M177.1 499.3v10.0M173.2 504.3h10.0M178.2 499.3v10.0M174.2 502.2h10.0M179.2 497.2v10.0M175.2 503.6h10.0M180.2 498.6v10.0M176.2 504.0h10.0M181.2 499.0v10.0M177.3 502.9h10.0M182.3 497.9v10.0M178.3 504.0h10.0M183.3 499.0v10.0M179.3 504.0h10.0M184.3 499.0v10.0M180.3 503.6h10.0M185.3 498.6v10.0M181.4 502.2h10.0M186.4 497.2v10.0M182.4 504.3h10.0M187.4 499.3v10.0M183.4 502.2h10.0M188.4 497.2v10.0M184.5 504.3h10.0M189.5 499.3v10.0M185.5 504.0h10.0M190.5 499.0v10.0M186.5 504.0h10.0M191.5 499.0v10.0M187.5 503.6h10.0M192.5 498.6v10.0M188.6 502.2h10.0M193.6 497.2v10.0M189.6 504.3h10.0M194.6 499.3v10.0M190.6 502.2h10.0M195.6 497.2v10.0M191.7 504.0h10.0M196.7 499.0v10.0M192.7 504.3h10.0M197.7 499.3v10.0M193.7 504.3h10.0M198.7 499.3v10.0M194.7 502.2h10.0M199.7 497.2v10.0M195.8 502.9h10.0M200.8 497.9v10.0M196.8 502.9h10.0M201.8 497.9v10.0M197.8 502.2h10.0M202.8 497.2v10.0M198.8 504.0h10.0M203.8 499.0v10.0M199.9 503.6h10.0M204.9 498.6v10.0M200.9 504.3h10.0M205.9 499.3v10.0M201.9 503.6h10.0M206.9 498.6v10.0M203.0 504.0h10.0M208.0 499.0v10.0M204.0 504.0h10.0M209.0 499.0v10.0M205.0 503.6h10.0M210.0 498.6v10.0M206.0 504.3h10.0M211.0 499.3v10.0M207.1 504.0h10.0M212.1 499.0v10.0M208.1 503.6h10.0M213.1 498.6v10.0M209.1 502.9h10.0M214.1 497.9v10.0M210.1 502.2h10.0M215.1 497.2v10.0M211.2 502.9h10.0M216.2 497.9v10.0M212.2 504.3h10.0M217.2 499.3v10.0M213.2 503.6h10.0M218.2 498.6v10.0M214.3 504.3h10.0M219.3 499.3v10.0M215.3 504.3h10.0M220.3 499.3v10.0M216.3 504.0h10.0M221.3 499.0v10.0M217.3 504.3h10.0M222.3 499.3v10.0M218.4 502.9h10.0M223.4 497.9v10.0M219.4 503.6h10.0M224.4 498.6v10.0M220.4 504.0h10.0M225.4 499.0v10.0M221.4 504.3h10.0M226.4 499.3v10.0M222.5 502.2h10.0M227.5 497.2v10.0M223.5 502.2h10.0M228.5 497.2v10.0M224.5 504.0h10.0M229.5 499.0v10.0M225.6 504.0h10.0M230.6 499.0v10.0M226.6 503.6h10.0M231.6 498.6v10.0M227.6 504.0h10.0M232.6 499.0v10.0M228.6 504.3h10.0M233.6 499.3v10.0M229.7 504.0h10.0M234.7 499.0v10.0M230.7 504.3h10.0M235.7 499.3v10.0M231.7 503.6h10.0M236.7 498.6v10.0M232.8 503.6h10.0M237.8 498.6v10.0M233.8 503.6h10.0M238.8 498.6v10.0M234.8 502.9h10.0M239.8 497.9v10.0M235.8 502.9h10.0M240.8 497.9v10.0M236.9 502.9h10.0M241.9 497.9v10.0M237.9 502.2h10.0M242.9 497.2v10.0M238.9 502.2h10.0M243.9 497.2v10.0M239.9 502.2h10.0M244.9 497.2v10.0M241.0 503.6h10.0M246.0 498.6v10.0M242.0 502.2h10.0M247.0 497.2v10.0M243.0 502.9h10.0M248.0 497.9v10.0M244.1 502.2h10.0M249.1 497.2v10.0M245.1 504.3h10.0M250.1 499.3v10.0M246.1 503.6h10.0M251.1 498.6v10.0M247.1 504.0h10.0M252.1 499.0v10.0M248.2 504.0h10.0M253.2 499.0v10.0M249.2 503.6h10.0M254.2 498.6v10.0M250.2 502.2h10.0M255.2 497.2v10.0M251.2 502.9h10.0M256.2 497.9v10.0M252.3 502.2h10.0M257.3 497.2v10.0M253.3 503.6h10.0M258.3 498.6v10.0M254.3 502.2h10.0M259.3 497.2v10.0M255.4 502.9h10.0M260.4 497.9v10.0M256.4 504.0h10.0M261.4 499.0v10.0M257.4 503.6h10.0M262.4 498.6v10.0M258.4 502.2h10.0M263.4 497.2v10.0M259.5 504.3h10.0M264.5 499.3v10.0M260.5 502.2h10.0M265.5 497.2v10.0M261.5 502.9h10.0M266.5 497.9v10.0M262.5 503.6h10.0M267.5 498.6v10.0M263.6 503.6h10.0M268.6 498.6v10.0M264.6 504.3h10.0M269.6 499.3v10.0M265.6 502.9h10.0M270.6 497.9v10.0M266.7 504.0h10.0M271.7 499.0v10.0M267.7 504.0h10.0M272.7 499.0v10.0M268.7 504.0h10.0M273.7 499.0v10.0M269.7 504.0h10.0M274.7 499.0v10.0M270.8 502.9h10.0M275.8 497.9v10.0M271.8 504.0h10.0M276.8 499.0v10.0M272.8 504.0h10.0M277.8 499.0v10.0M273.9 504.0h10.0M278.9 499.0v10.0M274.9 504.0h10.0M279.9 499.0v10.0M275.9 502.2h10.0M280.9 497.2v10.0M276.9 504.3h10.0M281.9 499.3v10.0M278.0 502.9h10.0M283.0 497.9v10.0M279.0 504.0h10.0M284.0 499.0v10.0M280.0 502.9h10.0M285.0 497.9v10.0M281.0 503.6h10.0M286.0 498.6v10.0M282.1 504.0h10.0M287.1 499.0v10.0M283.1 504.3h10.0M288.1 499.3v10.0M284.1 502.9h10.0M289.1 497.9v10.0M285.2 504.0h10.0M290.2 499.0v10.0M286.2 504.3h10.0M291.2 499.3v10.0M287.2 502.2h10.0M292.2 497.2v10.0M288.2 504.3h10.0M293.2 499.3v10.0M289.3 504.3h10.0M294.3 499.3v10.0M290.3 504.3h10.0M295.3 499.3v10.0M291.3 504.0h10.0M296.3 499.0v10.0M292.3 503.6h10.0M297.3 498.6v10.0M293.4 502.9h10.0M298.4 497.9v10.0M294.4 504.0h10.0M299.4 499.0v10.0M295.4 502.2h10.0M300.4 497.2v10.0M296.5 502.2h10.0M301.5 497.2v10.0M297.5 502.2h10.0M302.5 497.2v10.0M298.5 502.2h10.0M303.5 497.2v10.0M299.5 503.6h10.0M304.5 498.6v10.0M300.6 504.3h10.0M305.6 499.3v10.0M301.6 504.3h10.0M306.6 499.3v10.0M302.6 502.2h10.0M307.6 497.2v10.0M303.6 503.6h10.0M308.6 498.6v10.0M304.7 504.0h10.0M309.7 499.0v10.0M305.7 502.2h10.0M310.7 497.2v10.0M306.7 504.3h10.0M311.7 499.3v10.0M307.8 503.6h10.0M312.8 498.6v10.0M308.8 502.9h10.0M313.8 497.9v10.0M309.8 503.6h10.0M314.8 498.6v10.0M310.8 504.0h10.0M315.8 499.0v10.0M311.9 502.9h10.0M316.9 497.9v10.0M312.9 502.9h10.0M317.9 497.9v10.0M313.9 502.2h10.0M318.9 497.2v10.0M315.0 503.6h10.0M320.0 498.6v10.0M316.0 502.2h10.0M321.0 497.2v10.0M317.0 502.2h10.0M322.0 497.2v10.0M318.0 502.2h10.0M323.0 497.2v10.0M319.1 503.6h10.0M324.1 498.6v10.0M320.1 504.3h10.0M325.1 499.3v10.0M321.1 503.6h10.0M326.1 498.6v10.0M322.1 503.6h10.0M327.1 498.6v10.0M323.2 502.9h10.0M328.2 497.9v10.0M324.2 502.2h10.0M329.2 497.2v10.0M325.2 502.2h10.0M330.2 497.2v10.0M326.3 502.2h10.0M331.3 497.2v10.0M327.3 503.6h10.0M332.3 498.6v10.0M328.3 503.6h10.0M333.3 498.6v10.0M329.3 503.6h10.0M334.3 498.6v10.0M330.4 504.0h10.0M335.4 499.0v10.0M331.4 502.2h10.0M336.4 497.2v10.0M332.4 504.3h10.0M337.4 499.3v10.0M333.4 504.3h10.0M338.4 499.3v10.0M334.5 504.0h10.0M339.5 499.0v10.0M335.5 503.6h10.0M340.5 498.6v10.0M336.5 503.6h10.0M341.5 498.6v10.0M337.6 504.0h10.0M342.6 499.0v10.0M338.6 504.0h10.0M343.6 499.0v10.0M339.6 503.6h10.0M344.6 498.6v10.0M340.6 502.9h10.0M345.6 497.9v10.0M341.7 502.2h10.0M346.7 497.2v10.0M342.7 502.9h10.0M347.7 497.9v10.0M343.7 504.3h10.0M348.7 499.3v10.0M344.7 503.6h10.0M349.7 498.6v10.0M345.8 502.2h10.0M350.8 497.2v10.0M346.8 502.2h10.0M351.8 497.2v10.0M347.8 502.9h10.0M352.8 497.9v10.0M348.9 504.0h10.0M353.9 499.0v10.0M349.9 502.2h10.0M354.9 497.2v10.0M350.9 504.3h10.0M355.9 499.3v10.0M351.9 502.9h10.0M356.9 497.9v10.0M353.0 503.6h10.0M358.0 498.6v10.0M354.0 502.9h10.0M359.0 497.9v10.0M355.0 504.0h10.0M360.0 499.0v10.0M356.0 503.6h10.0M361.0 498.6v10.0M357.1 503.6h10.0M362.1 498.6v10.0M358.1 502.2h10.0M363.1 497.2v10.0M359.1 502.9h10.0M364.1 497.9v10.0M360.2 502.9h10.0M365.2 497.9v10.0M361.2 504.3h10.0M366.2 499.3v10.0M362.2 504.0h10.0M367.2 499.0v10.0M363.2 502.9h10.0M368.2 497.9v10.0M364.3 504.0h10.0M369.3 499.0v10.0M365.3 502.2h10.0M370.3 497.2v10.0M366.3 502.2h10.0M371.3 497.2v10.0M367.4 504.3h10.0M372.4 499.3v10.0M368.4 504.3h10.0M373.4 499.3v10.0M369.4 504.3h10.0M374.4 499.3v10.0M370.4 504.3h10.0M375.4 499.3v10.0M371.5 502.9h10.0M376.5 497.9v10.0M372.5 502.9h10.0M377.5 497.9v10.0M373.5 504.0h10.0M378.5 499.0v10.0M374.5 502.2h10.0M379.5 497.2v10.0M375.6 502.2h10.0M380.6 497.2v10.0M376.6 504.3h10.0M381.6 499.3v10.0M377.6 503.6h10.0M382.6 498.6v10.0M378.7 504.3h10.0M383.7 499.3v10.0M379.7 504.0h10.0M384.7 499.0v10.0M380.7 502.9h10.0M385.7 497.9v10.0M381.7 504.3h10.0M386.7 499.3v10.0M382.8 502.9h10.0M387.8 497.9v10.0M383.8 503.6h10.0M388.8 498.6v10.0M384.8 502.9h10.0M389.8 497.9v10.0M385.8 504.0h10.0M390.8 499.0v10.0M386.9 504.3h10.0M391.9 499.3v10.0M387.9 504.0h10.0M392.9 499.0v10.0M388.9 504.3h10.0M393.9 499.3v10.0M390.0 504.0h10.0M395.0 499.0v10.0M391.0 504.3h10.0M396.0 499.3v10.0M392.0 502.2h10.0M397.0 497.2v10.0M393.0 503.6h10.0M398.0 498.6v10.0M394.1 503.6h10.0M399.1 498.6v10.0M395.1 504.0h10.0M400.1 499.0v10.0M396.1 503.6h10.0M401.1 498.6v10.0M397.1 504.3h10.0M402.1 499.3v10.0M398.2 503.6h10.0M403.2 498.6v10.0M399.2 504.3h10.0M404.2 499.3v10.0M400.2 504.3h10.0M405.2 499.3v10.0M401.3 504.3h10.0M406.3 499.3v10.0M402.3 502.9h10.0M407.3 497.9v10.0M403.3 504.0h10.0M408.3 499.0v10.0M404.3 502.2h10.0M409.3 497.2v10.0M405.4 504.0h10.0M410.4 499.0v10.0M406.4 502.2h10.0M411.4 497.2v10.0M407.4 502.9h10.0M412.4 497.9v10.0M408.5 504.0h10.0M413.5 499.0v10.0M409.5 502.2h10.0M414.5 497.2v10.0M410.5 502.9h10.0M415.5 497.9v10.0M411.5 503.6h10.0M416.5 498.6v10.0M412.6 502.9h10.0M417.6 497.9v10.0M413.6 502.2h10.0M418.6 497.2v10.0M414.6 502.2h10.0M419.6 497.2v10.0M415.6 502.9h10.0M420.6 497.9v10.0M416.7 502.2h10.0M421.7 497.2v10.0M417.7 503.6h10.0M422.7 498.6v10.0M418.7 502.9h10.0M423.7 497.9v10.0M419.8 502.2h10.0M424.8 497.2v10.0M420.8 502.2h10.0M425.8 497.2v10.0M421.8 504.0h10.0M426.8 499.0v10.0M422.8 504.3h10.0M427.8 499.3v10.0M423.9 502.9h10.0M428.9 497.9v10.0M424.9 502.2h10.0M429.9 497.2v10.0M425.9 504.3h10.0M430.9 499.3v10.0M426.9 504.3h10.0M431.9 499.3v10.0M428.0 502.2h10.0M433.0 497.2v10.0M429.0 502.2h10.0M434.0 497.2v10.0M430.0 504.0h10.0M435.0 499.0v10.0M431.1 503.6h10.0M436.1 498.6v10.0M432.1 503.6h10.0M437.1 498.6v10.0M433.1 504.3h10.0M438.1 499.3v10.0M434.1 503.6h10.0M439.1 498.6v10.0M435.2 504.0h10.0M440.2 499.0v10.0M436.2 503.6h10.0M441.2 498.6v10.0M437.2 502.9h10.0M442.2 497.9v10.0M438.2 504.3h10.0M443.2 499.3v10.0M439.3 504.0h10.0M444.3 499.0v10.0M440.3 503.6h10.0M445.3 498.6v10.0M441.3 502.9h10.0M446.3 497.9v10.0M442.4 504.0h10.0M447.4 499.0v10.0M443.4 502.2h10.0M448.4 497.2v10.0M444.4 504.0h10.0M449.4 499.0v10.0M445.4 504.3h10.0M450.4 499.3v10.0M446.5 502.9h10.0M451.5 497.9v10.0M447.5 504.0h10.0M452.5 499.0v10.0M448.5 504.3h10.0M453.5 499.3v10.0M449.6 504.0h10.0M454.6 499.0v10.0M450.6 502.2h10.0M455.6 497.2v10.0M451.6 504.0h10.0M456.6 499.0v10.0M452.6 504.3h10.0M457.6 499.3v10.0M453.7 502.2h10.0M458.7 497.2v10.0M454.7 504.3h10.0M459.7 499.3v10.0M455.7 502.2h10.0M460.7 497.2v10.0M456.7 502.9h10.0M461.7 497.9v10.0M457.8 504.3h10.0M462.8 499.3v10.0M458.8 502.9h10.0M463.8 497.9v10.0M459.8 504.3h10.0M464.8 499.3v10.0M460.9 502.9h10.0M465.9 497.9v10.0M461.9 503.6h10.0M466.9 498.6v10.0M462.9 502.9h10.0M467.9 497.9v10.0M463.9 502.9h10.0M468.9 497.9v10.0M465.0 503.6h10.0M470.0 498.6v10.0M466.0 503.6h10.0M471.0 498.6v10.0M467.0 502.2h10.0M472.0 497.2v10.0M468.0 504.0h10.0M473.0 499.0v10.0M469.1 503.6h10.0M474.1 498.6v10.0M470.1 504.0h10.0M475.1 499.0v10.0M471.1 502.2h10.0M476.1 497.2v10.0M472.2 504.0h10.0M477.2 499.0v10.0M473.2 504.0h10.0M478.2 499.0v10.0M474.2 504.3h10.0M479.2 499.3v10.0M475.2 504.0h10.0M480.2 499.0v10.0M476.3 502.2h10.0M481.3 497.2v10.0M477.3 504.0h10.0M482.3 499.0v10.0M478.3 502.9h10.0M483.3 497.9v10.0M479.4 504.0h10.0M484.4 499.0v10.0M480.4 502.2h10.0M485.4 497.2v10.0M481.4 502.9h10.0M486.4 497.9v10.0M482.4 502.2h10.0M487.4 497.2v10.0M483.5 504.3h10.0M488.5 499.3v10.0M484.5 504.0h10.0M489.5 499.0v10.0M485.5 502.9h10.0M490.5 497.9v10.0M486.5 502.2h10.0M491.5 497.2v10.0M487.6 504.0h10.0M492.6 499.0v10.0M488.6 502.2h10.0M493.6 497.2v10.0M489.6 504.3h10.0M494.6 499.3v10.0M490.7 502.2h10.0M495.7 497.2v10.0M491.7 504.0h10.0M496.7 499.0v10.0M492.7 502.2h10.0M497.7 497.2v10.0M493.7 502.9h10.0M498.7 497.9v10.0M494.8 504.0h10.0M499.8 499.0v10.0M495.8 504.3h10.0M500.8 499.3v10.0M496.8 502.2h10.0M501.8 497.2v10.0M497.8 504.0h10.0M502.8 499.0v10.0M498.9 502.9h10.0M503.9 497.9v10.0M499.9 504.0h10.0M504.9 499.0v10.0M500.9 502.9h10.0M505.9 497.9v10.0M502.0 502.2h10.0M507.0 497.2v10.0M503.0 504.3h10.0M508.0 499.3v10.0M504.0 504.0h10.0M509.0 499.0v10.0M505.0 502.9h10.0M510.0 497.9v10.0M506.1 502.2h10.0M511.1 497.2v10.0M507.1 502.2h10.0M512.1 497.2v10.0M508.1 503.6h10.0M513.1 498.6v10.0M509.1 502.9h10.0M514.1 497.9v10.0M510.2 503.6h10.0M515.2 498.6v10.0M511.2 502.2h10.0M516.2 497.2v10.0M512.2 502.2h10.0M517.2 497.2v10.0M513.3 502.2h10.0M518.3 497.2v10.0M514.3 503.6h10.0M519.3 498.6v10.0M515.3 502.2h10.0M520.3 497.2v10.0M516.3 502.2h10.0M521.3 497.2v10.0M517.4 502.2h10.0M522.4 497.2v10.0M518.4 503.6h10.0M523.4 498.6v10.0M519.4 504.3h10.0M524.4 499.3v10.0M520.5 503.6h10.0M525.5 498.6v10.0M521.5 504.3h10.0M526.5 499.3v10.0M522.5 503.6h10.0M527.5 498.6v10.0M523.5 502.2h10.0M528.5 497.2v10.0M524.6 504.0h10.0M529.6 499.0v10.0M607.0 243.7h10.0M612.0 238.7v10.0M622.2 293.6h10.0M627.2 288.6v10.0M605.8 324.0h10.0M610.8 319.0v10.0M582.5 335.6h10.0M587.5 330.6v10.0M621.7 336.8h10.0M626.7 331.8v10.0M535.2 371.9h10.0M540.2 366.9v10.0M563.3 370.7h10.0M568.3 365.7v10.0M577.8 368.4h10.0M582.8 363.4v10.0M617.5 375.4h10.0M622.5 370.4v10.0M624.5 371.9h10.0M629.5 366.9v10.0M556.2 389.7h10.0M561.2 384.7v10.0M563.2 392.6h10.0M568.2 387.6v10.0M565.0 387.3h10.0M570.0 382.3v10.0M554.4 409.6h10.0M559.4 404.6v10.0M556.8 418.9h10.0M561.8 413.9v10.0M561.5 420.1h10.0M566.5 415.1v10.0M554.4 423.6h10.0M559.4 418.6v10.0M565.0 423.6h10.0M570.0 418.6v10.0M568.5 418.9h10.0M573.5 413.9v10.0M559.1 430.6h10.0M564.1 425.6v10.0M527.5 435.3h10.0M532.5 430.3v10.0M525.2 440.0h10.0M530.2 435.0v10.0M545.1 441.1h10.0M550.1 436.1v10.0M566.1 443.5h10.0M571.1 438.5v10.0M593.7 389.1h10.0M598.7 384.1v10.0M623.5 390.8h10.0M628.5 385.8v10.0M594.8 406.1h10.0M599.8 401.1v10.0M566.2 396.7h10.0M571.2 391.7v10.0M618.8 417.7h10.0M623.8 412.7v10.0M622.3 423.6h10.0M627.3 418.6v10.0M615.3 423.6h10.0M620.3 418.6v10.0M576.7 428.3h10.0M581.7 423.3v10.0M588.4 429.4h10.0M593.4 424.4v10.0M611.8 437.6h10.0M616.8 432.6v10.0M618.8 440.0h10.0M623.8 435.0v10.0M570.8 441.1h10.0M575.8 436.1v10.0M525.7 463.2h10.0M530.7 458.2v10.0M531.4 471.4h10.0M536.4 466.4v10.0M527.0 478.3h10.0M532.0 473.3v10.0M529.5 489.0h10.0M534.5 484.0v10.0M550.3 480.8h10.0M555.3 475.8v10.0M544.6 490.9h10.0M549.6 485.9v10.0M554.7 490.9h10.0M559.7 485.9v10.0M532.0 501.6h10.0M537.0 496.6v10.0M537.7 500.3h10.0M542.7 495.3v10.0M544.0 502.9h10.0M549.0 497.9v10.0M550.3 501.6h10.0M555.3 496.6v10.0M547.7 506.6h10.0M552.7 501.6v10.0M535.2 506.6h10.0M540.2 501.6v10.0M565.3 456.3h10.0M570.3 451.3v10.0M564.1 470.2h10.0M569.1 465.2v10.0M567.9 476.4h10.0M572.9 471.4v10.0M569.1 495.3h10.0M574.1 490.3v10.0M567.2 446.9h10.0M572.2 441.9v10.0M525.1 497.8h10.0M530.1 492.8v10.0M527.6 505.4h10.0M532.6 500.4v10.0M612.8 449.4h10.0M617.8 444.4v10.0M589.5 456.3h10.0M594.5 451.3v10.0M586.4 449.4h10.0M591.4 444.4v10.0M571.3 460.1h10.0M576.3 455.1v10.0M578.8 470.8h10.0M583.8 465.8v10.0M582.6 479.0h10.0M587.6 474.0v10.0M573.8 480.8h10.0M578.8 475.8v10.0M599.0 467.6h10.0M604.0 462.6v10.0M605.3 468.9h10.0M610.3 463.9v10.0M596.4 475.2h10.0M601.4 470.2v10.0M602.7 476.4h10.0M607.7 471.4v10.0M609.0 476.4h10.0M614.0 471.4v10.0M600.2 481.5h10.0M605.2 476.5v10.0M615.3 471.4h10.0M620.3 466.4v10.0M624.1 468.9h10.0M629.1 463.9v10.0M580.1 492.8h10.0M585.1 487.8v10.0M585.1 501.6h10.0M590.1 496.6v10.0M590.2 502.9h10.0M595.2 497.9v10.0M592.7 495.3h10.0M597.7 490.3v10.0M601.5 492.8h10.0M606.5 487.8v10.0M609.0 489.0h10.0M614.0 484.0v10.0M612.8 494.1h10.0M617.8 489.1v10.0M602.7 499.1h10.0M607.7 494.1v10.0M614.1 502.9h10.0M619.1 497.9v10.0M586.4 497.8h10.0M591.4 492.8v10.0M713.6 139.0h10.0M718.6 134.0v10.0M631.7 221.4h10.0M636.7 216.4v10.0M656.3 215.1h10.0M661.3 210.1v10.0M664.9 217.9h10.0M669.9 212.9v10.0M704.7 220.4h10.0M709.7 215.4v10.0M715.9 220.4h10.0M720.9 215.4v10.0M718.7 239.6h10.0M723.7 234.6v10.0M732.7 234.2h10.0M737.7 229.2v10.0M657.4 249.0h10.0M662.4 244.0v10.0M669.1 252.0h10.0M674.1 247.0v10.0M677.9 263.2h10.0M682.9 258.2v10.0M635.1 272.7h10.0M640.1 267.7v10.0M663.4 275.2h10.0M668.4 270.2v10.0M649.6 285.3h10.0M654.6 280.3v10.0M659.6 290.9h10.0M664.6 285.9v10.0M671.6 287.8h10.0M676.6 282.8v10.0M679.1 282.7h10.0M684.1 277.7v10.0M643.3 297.8h10.0M648.3 292.8v10.0M641.4 309.8h10.0M646.4 304.8v10.0M681.3 263.2h10.0M686.3 258.2v10.0M683.1 284.0h10.0M688.1 279.0v10.0M720.3 277.1h10.0M725.3 272.1v10.0M732.8 258.2h10.0M737.8 253.2v10.0M734.1 266.4h10.0M739.1 261.4v10.0M735.3 272.7h10.0M740.3 267.7v10.0M736.0 279.0h10.0M741.0 274.0v10.0M699.5 306.6h10.0M704.5 301.6v10.0M731.6 300.3h10.0M736.6 295.3v10.0M632.6 317.6h10.0M637.6 312.6v10.0M635.1 327.6h10.0M640.1 322.6v10.0M640.1 328.9h10.0M645.1 323.9v10.0M652.7 337.1h10.0M657.7 332.1v10.0M660.3 342.7h10.0M665.3 337.7v10.0M637.6 354.1h10.0M642.6 349.1v10.0M675.3 361.0h10.0M680.3 356.0v10.0M647.0 369.2h10.0M652.0 364.2v10.0M725.9 327.6h10.0M730.9 322.6v10.0M707.7 330.8h10.0M712.7 325.8v10.0M695.1 335.2h10.0M700.1 330.2v10.0M695.1 340.2h10.0M700.1 335.2v10.0M703.3 340.8h10.0M708.3 335.8v10.0M699.5 347.8h10.0M704.5 342.8v10.0M685.7 347.8h10.0M690.7 342.8v10.0M687.5 355.9h10.0M692.5 350.9v10.0M717.7 359.7h10.0M722.7 354.7v10.0M720.3 365.4h10.0M725.3 360.4v10.0M735.3 355.3h10.0M740.3 350.3v10.0M687.5 369.2h10.0M692.5 364.2v10.0M643.3 387.6h10.0M648.3 382.6v10.0M672.2 390.1h10.0M677.2 385.1v10.0M622.5 376.9h10.0M627.5 371.9v10.0M667.8 406.4h10.0M672.8 401.4v10.0M627.5 411.5h10.0M632.5 406.5v10.0M638.9 412.7h10.0M643.9 407.7v10.0M623.8 420.3h10.0M628.8 415.3v10.0M630.1 426.6h10.0M635.1 421.6v10.0M645.2 430.3h10.0M650.2 425.3v10.0M655.2 432.9h10.0M660.2 427.9v10.0M664.0 429.1h10.0M669.0 424.1v10.0M674.1 427.8h10.0M679.1 422.8v10.0M651.4 439.2h10.0M656.4 434.2v10.0M667.8 437.9h10.0M672.8 432.9v10.0M677.9 434.1h10.0M682.9 429.1v10.0M683.1 385.7h10.0M688.1 380.7v10.0M691.3 392.6h10.0M696.3 387.6v10.0M700.8 397.0h10.0M705.8 392.0v10.0M710.8 384.4h10.0M715.8 379.4v10.0M724.0 385.7h10.0M729.0 380.7v10.0M737.9 396.4h10.0M742.9 391.4v10.0M690.1 407.7h10.0M695.1 402.7v10.0M697.6 405.2h10.0M702.6 400.2v10.0M706.4 406.4h10.0M711.4 401.4v10.0M688.8 414.0h10.0M693.8 409.0v10.0M721.5 419.0h10.0M726.5 414.0v10.0M730.3 425.3h10.0M735.3 420.3v10.0M691.3 435.4h10.0M696.3 430.4v10.0M702.6 439.2h10.0M707.6 434.2v10.0M714.0 434.1h10.0M719.0 429.1v10.0M724.0 440.4h10.0M729.0 435.4v10.0M698.9 429.1h10.0M703.9 424.1v10.0M739.1 434.1h10.0M744.1 429.1v10.0M630.7 448.1h10.0M635.7 443.1v10.0M651.4 446.3h10.0M656.4 441.3v10.0M636.4 457.6h10.0M641.4 452.6v10.0M627.5 468.9h10.0M632.5 463.9v10.0M638.9 475.2h10.0M643.9 470.2v10.0M644.5 471.4h10.0M649.5 466.4v10.0M648.9 477.7h10.0M653.9 472.7v10.0M654.0 473.9h10.0M659.0 468.9v10.0M647.0 486.5h10.0M652.0 481.5v10.0M662.1 484.0h10.0M667.1 479.0v10.0M667.8 456.3h10.0M672.8 451.3v10.0M670.3 463.2h10.0M675.3 458.2v10.0M677.9 472.0h10.0M682.9 467.0v10.0M676.6 446.3h10.0M681.6 441.3v10.0M679.1 458.8h10.0M684.1 453.8v10.0M683.8 455.1h10.0M688.8 450.1v10.0M682.5 460.1h10.0M687.5 455.1v10.0M681.9 472.0h10.0M686.9 467.0v10.0M693.8 448.1h10.0M698.8 443.1v10.0M710.8 456.3h10.0M715.8 451.3v10.0M712.1 461.4h10.0M717.1 456.4v10.0M708.9 471.4h10.0M713.9 466.4v10.0M716.5 448.1h10.0M721.5 443.1v10.0M722.8 448.8h10.0M727.8 443.8v10.0M727.8 452.5h10.0M732.8 447.5v10.0M728.4 460.7h10.0M733.4 455.7v10.0M727.2 470.2h10.0M732.2 465.2v10.0M739.7 468.9h10.0M744.7 463.9v10.0M767.2 193.0h10.0M772.2 188.0v10.0M772.7 228.7h10.0M777.7 223.7v10.0M741.9 275.2h10.0M746.9 270.2v10.0M777.1 272.6h10.0M782.1 267.6v10.0M774.0 282.7h10.0M779.0 277.7v10.0M741.3 301.6h10.0M746.3 296.6v10.0M753.8 315.4h10.0M758.8 310.4v10.0M768.9 315.4h10.0M773.9 310.4v10.0M753.8 318.8h10.0M758.8 313.8v10.0M748.2 338.9h10.0M753.2 333.9v10.0M764.5 340.8h10.0M769.5 335.8v10.0M751.9 351.5h10.0M756.9 346.5v10.0M760.1 352.7h10.0M765.1 347.7v10.0M769.6 356.5h10.0M774.6 351.5v10.0M775.2 350.2h10.0M780.2 345.2v10.0M779.0 365.3h10.0M784.0 360.3v10.0M741.3 396.4h10.0M746.3 391.4v10.0M750.7 392.6h10.0M755.7 387.6v10.0M756.4 392.6h10.0M761.4 387.6v10.0M756.4 402.6h10.0M761.4 397.6v10.0M768.9 402.0h10.0M773.9 397.0v10.0M746.3 412.7h10.0M751.3 407.7v10.0M755.1 420.3h10.0M760.1 415.3v10.0M745.0 424.0h10.0M750.0 419.0v10.0M771.4 421.5h10.0M776.4 416.5v10.0M765.2 427.8h10.0M770.2 422.8v10.0M743.8 432.8h10.0M748.8 427.8v10.0M783.4 427.8h10.0M788.4 422.8v10.0M787.8 432.8h10.0M792.8 427.8v10.0M786.5 440.4h10.0M791.5 435.4v10.0M779.0 442.9h10.0M784.0 437.9v10.0M748.8 445.4h10.0M753.8 440.4v10.0M799.1 417.7h10.0M804.1 412.7v10.0M804.4 409.6h10.0M809.4 404.6v10.0M803.1 420.3h10.0M808.1 415.3v10.0M812.6 431.6h10.0M817.6 426.6v10.0M806.3 436.6h10.0M811.3 431.6v10.0M808.8 444.2h10.0M813.8 439.2v10.0M750.1 448.8h10.0M755.1 443.8v10.0M762.6 451.9h10.0M767.6 446.9v10.0M747.5 458.8h10.0M752.5 453.8v10.0M743.8 468.9h10.0M748.8 463.9v10.0M759.5 470.2h10.0M764.5 465.2v10.0M757.6 476.4h10.0M762.6 471.4v10.0M762.6 484.0h10.0M767.6 479.0v10.0M780.3 446.3h10.0M785.3 441.3v10.0M780.3 456.3h10.0M785.3 451.3v10.0M789.1 455.1h10.0M794.1 450.1v10.0M784.0 465.1h10.0M789.0 460.1v10.0M790.3 468.9h10.0M795.3 463.9v10.0M795.3 470.2h10.0M800.3 465.2v10.0M792.8 475.2h10.0M797.8 470.2v10.0M794.1 482.7h10.0M799.1 477.7v10.0M795.3 487.8h10.0M800.3 482.8v10.0M797.9 492.8h10.0M802.9 487.8v10.0M792.8 492.8h10.0M797.8 487.8v10.0M799.1 477.7h10.0M804.1 472.7v10.0M812.6 456.3h10.0M817.6 451.3v10.0M802.5 466.4h10.0M807.5 461.4v10.0M811.3 468.9h10.0M816.3 463.9v10.0M813.8 472.7h10.0M818.8 467.7v10.0M808.8 479.0h10.0M813.8 474.0v10.0M801.3 485.3h10.0M806.3 480.3v10.0M801.3 492.8h10.0M806.3 487.8v10.0M816.4 490.3h10.0M821.4 485.3v10.0M817.6 496.6h10.0M822.6 491.6v10.0M820.1 501.6h10.0M825.1 496.6v10.0M825.2 502.9h10.0M830.2 497.9v10.0M828.9 505.4h10.0M833.9 500.4v10.0M822.6 506.6h10.0M827.6 501.6v10.0M830.2 509.2h10.0M835.2 504.2v10.0M818.9 507.9h10.0M823.9 502.9v10.0M734.1 265.5h10.0M739.1 260.5v10.0M735.0 268.7h10.0M740.0 263.7v10.0M734.9 270.1h10.0M739.9 265.1v10.0M735.6 275.1h10.0M740.6 270.1v10.0M736.9 275.4h10.0M741.9 270.4v10.0M736.6 278.9h10.0M741.6 273.9v10.0M529.0 505.7h10.0M534.0 500.7v10.0M531.0 503.9h10.0M536.0 498.9v10.0M533.7 506.2h10.0M538.7 501.2v10.0M535.4 505.4h10.0M540.4 500.4v10.0M538.1 504.3h10.0M543.1 499.3v10.0M539.9 502.7h10.0M544.9 497.7v10.0M541.5 501.5h10.0M546.5 496.5v10.0M543.8 504.5h10.0M548.8 499.5v10.0M546.2 501.5h10.0M551.2 496.5v10.0M548.2 504.8h10.0M553.2 499.8v10.0M551.6 503.9h10.0M556.6 498.9v10.0M814.7 487.7h10.0M819.7 482.7v10.0M816.3 490.5h10.0M821.3 485.5v10.0M817.8 492.2h10.0M822.8 487.2v10.0M819.6 496.5h10.0M824.6 491.5v10.0M822.3 496.1h10.0M827.3 491.1v10.0M822.8 500.0h10.0M827.8 495.0v10.0M824.5 498.6h10.0M829.5 493.6v10.0M825.7 500.5h10.0M830.7 495.5v10.0M828.1 502.8h10.0M833.1 497.8v10.0M829.3 504.6h10.0M834.3 499.6v10.0M830.6 505.1h10.0M835.6 500.1v10.0M832.4 507.5h10.0M837.4 502.5v10.0M788.2 462.1h10.0M793.2 457.1v10.0M791.0 463.9h10.0M796.0 458.9v10.0M793.8 466.2h10.0M798.8 461.2v10.0M796.5 467.4h10.0M801.5 462.4v10.0M798.7 469.3h10.0M803.7 464.3v10.0M800.5 466.5h10.0M805.5 461.5v10.0M803.9 465.9h10.0M808.9 460.9v10.0M805.7 469.4h10.0M810.7 464.4v10.0M806.8 471.0h10.0M811.8 466.0v10.0M810.7 470.3h10.0M815.7 465.3v10.0M812.8 471.9h10.0M817.8 466.9v10.0M814.0 470.6h10.0M819.0 465.6v10.0M817.0 473.0h10.0M822.0 468.0v10.0M793.4 483.3h10.0M798.4 478.3v10.0M794.4 485.7h10.0M799.4 480.7v10.0M795.9 487.1h10.0M800.9 482.1v10.0M796.7 486.6h10.0M801.7 481.6v10.0M797.9 490.1h10.0M802.9 485.1v10.0M799.2 494.2h10.0M804.2 489.2v10.0M801.1 495.5h10.0M806.1 490.5v10.0" stroke="#56b4e9" stroke-width="1.4" fill="none"/><path d="M88.9 497.9l10.0 10.0M88.9 507.9l10.0 -10.0M89.9 499.0l10.0 10.0M89.9 509.0l10.0 -10.0M91.0 497.9l10.0 10.0M91.0 507.9l10.0 -10.0M92.0 498.6l10.0 10.0M92.0 508.6l10.0 -10.0M93.0 499.3l10.0 10.0M93.0 509.3l10.0 -10.0M94.0 497.2l10.0 10.0M94.0 507.2l10.0 -10.0M95.1 497.9l10.0 10.0M95.1 507.9l10.0 -10.0M96.1 497.9l10.0 10.0M96.1 507.9l10.0 -10.0M97.1 499.0l10.0 10.0M97.1 509.0l10.0 -10.0M98.1 499.3l10.0 10.0M98.1 509.3l10.0 -10.0M99.2 499.3l10.0 10.0M99.2 509.3l10.0 -10.0M100.2 499.3l10.0 10.0M100.2 509.3l10.0 -10.0M101.2 497.2l10.0 10.0M101.2 507.2l10.0 -10.0M102.3 499.0l10.0 10.0M102.3 509.0l10.0 -10.0M103.3 497.9l10.0 10.0M103.3 507.9l10.0 -10.0M104.3 499.3l10.0 10.0M104.3 509.3l10.0 -10.0M105.3 497.9l10.0 10.0M105.3 507.9l10.0 -10.0M106.4 498.6l10.0 10.0M106.4 508.6l10.0 -10.0M107.4 499.0l10.0 10.0M107.4 509.0l10.0 -10.0M108.4 499.3l10.0 10.0M108.4 509.3l10.0 -10.0M109.5 497.2l10.0 10.0M109.5 507.2l10.0 -10.0M110.5 499.0l10.0 10.0M110.5 509.0l10.0 -10.0M111.5 497.2l10.0 10.0M111.5 507.2l10.0 -10.0M112.5 497.2l10.0 10.0M112.5 507.2l10.0 -10.0M113.6 498.6l10.0 10.0M113.6 508.6l10.0 -10.0M114.6 497.2l10.0 10.0M114.6 507.2l10.0 -10.0M115.6 499.0l10.0 10.0M115.6 509.0l10.0 -10.0M116.6 498.6l10.0 10.0M116.6 508.6l10.0 -10.0M117.7 497.9l10.0 10.0M117.7 507.9l10.0 -10.0M118.7 499.3l10.0 10.0M118.7 509.3l10.0 -10.0M119.7 498.6l10.0 10.0M119.7 508.6l10.0 -10.0M120.8 499.0l10.0 10.0M120.8 509.0l10.0 -10.0M121.8 497.2l10.0 10.0M121.8 507.2l10.0 -10.0M122.8 499.3l10.0 10.0M122.8 509.3l10.0 -10.0M123.8 498.6l10.0 10.0M123.8 508.6l10.0 -10.0M124.9 499.0l10.0 10.0M124.9 509.0l10.0 -10.0M125.9 498.6l10.0 10.0M125.9 508.6l10.0 -10.0M126.9 498.6l10.0 10.0M126.9 508.6l10.0 -10.0M127.9 499.3l10.0 10.0M127.9 509.3l10.0 -10.0M129.0 499.0l10.0 10.0M129.0 509.0l10.0 -10.0M130.0 497.2l10.0 10.0M130.0 507.2l10.0 -10.0M131.0 499.3l10.0 10.0M131.0 509.3l10.0 -10.0M132.1 499.0l10.0 10.0M132.1 509.0l10.0 -10.0M133.1 497.2l10.0 10.0M133.1 507.2l10.0 -10.0M134.1 497.2l10.0 10.0M134.1 507.2l10.0 -10.0M135.1 497.9l10.0 10.0M135.1 507.9l10.0 -10.0M136.2 497.9l10.0 10.0M136.2 507.9l10.0 -10.0M137.2 499.0l10.0 10.0M137.2 509.0l10.0 -10.0M138.2 499.3l10.0 10.0M138.2 509.3l10.0 -10.0M139.2 497.9l10.0 10.0M139.2 507.9l10.0 -10.0M140.3 499.3l10.0 10.0M140.3 509.3l10.0 -10.0M141.3 497.2l10.0 10.0M141.3 507.2l10.0 -10.0M142.3 499.3l10.0 10.0M142.3 509.3l10.0 -10.0M143.4 497.2l10.0 10.0M143.4 507.2l10.0 -10.0M144.4 497.9l10.0 10.0M144.4 507.9l10.0 -10.0M145.4 497.2l10.0 10.0M145.4 507.2l10.0 -10.0M146.4 497.9l10.0 10.0M146.4 507.9l10.0 -10.0M147.5 498.6l10.0 10.0M147.5 508.6l10.0 -10.0M148.5 498.6l10.0 10.0M148.5 508.6l10.0 -10.0M149.5 497.9l10.0 10.0M149.5 507.9l10.0 -10.0M150.6 497.2l10.0 10.0M150.6 507.2l10.0 -10.0M151.6 499.3l10.0 10.0M151.6 509.3l10.0 -10.0M152.6 497.2l10.0 10.0M152.6 507.2l10.0 -10.0M153.6 498.6l10.0 10.0M153.6 508.6l10.0 -10.0M154.7 499.0l10.0 10.0M154.7 509.0l10.0 -10.0M155.7 497.9l10.0 10.0M155.7 507.9l10.0 -10.0M156.7 498.6l10.0 10.0M156.7 508.6l10.0 -10.0M157.7 499.0l10.0 10.0M157.7 509.0l10.0 -10.0M158.8 497.2l10.0 10.0M158.8 507.2l10.0 -10.0M159.8 497.2l10.0 10.0M159.8 507.2l10.0 -10.0M160.8 498.6l10.0 10.0M160.8 508.6l10.0 -10.0M161.9 499.3l10.0 10.0M161.9 509.3l10.0 -10.0M162.9 499.3l10.0 10.0M162.9 509.3l10.0 -10.0M163.9 499.3l10.0 10.0M163.9 509.3l10.0 -10.0M164.9 499.3l10.0 10.0M164.9 509.3l10.0 -10.0M166.0 499.3l10.0 10.0M166.0 509.3l10.0 -10.0M167.0 499.3l10.0 10.0M167.0 509.3l10.0 -10.0M168.0 497.2l10.0 10.0M168.0 507.2l10.0 -10.0M169.0 497.9l10.0 10.0M169.0 507.9l10.0 -10.0M170.1 499.3l10.0 10.0M170.1 509.3l10.0 -10.0M171.1 498.6l10.0 10.0M171.1 508.6l10.0 -10.0M172.1 499.3l10.0 10.0M172.1 509.3l10.0 -10.0M173.2 499.3l10.0 10.0M173.2 509.3l10.0 -10.0M174.2 497.2l10.0 10.0M174.2 507.2l10.0 -10.0M175.2 498.6l10.0 10.0M175.2 508.6l10.0 -10.0M176.2 499.0l10.0 10.0M176.2 509.0l10.0 -10.0M177.3 497.9l10.0 10.0M177.3 507.9l10.0 -10.0M178.3 499.0l10.0 10.0M178.3 509.0l10.0 -10.0M179.3 499.0l10.0 10.0M179.3 509.0l10.0 -10.0M180.3 498.6l10.0 10.0M180.3 508.6l10.0 -10.0M181.4 497.2l10.0 10.0M181.4 507.2l10.0 -10.0M182.4 499.3l10.0 10.0M182.4 509.3l10.0 -10.0M183.4 497.2l10.0 10.0M183.4 507.2l10.0 -10.0M184.5 499.3l10.0 10.0M184.5 509.3l10.0 -10.0M185.5 499.0l10.0 10.0M185.5 509.0l10.0 -10.0M186.5 499.0l10.0 10.0M186.5 509.0l10.0 -10.0M187.5 498.6l10.0 10.0M187.5 508.6l10.0 -10.0M188.6 497.2l10.0 10.0M188.6 507.2l10.0 -10.0M189.6 499.3l10.0 10.0M189.6 509.3l10.0 -10.0M190.6 497.2l10.0 10.0M190.6 507.2l10.0 -10.0M191.7 499.0l10.0 10.0M191.7 509.0l10.0 -10.0M192.7 499.3l10.0 10.0M192.7 509.3l10.0 -10.0M193.7 499.3l10.0 10.0M193.7 509.3l10.0 -10.0M194.7 497.2l10.0 10.0M194.7 507.2l10.0 -10.0M195.8 497.9l10.0 10.0M195.8 507.9l10.0 -10.0M196.8 497.9l10.0 10.0M196.8 507.9l10.0 -10.0M197.8 497.2l10.0 10.0M197.8 507.2l10.0 -10.0M198.8 499.0l10.0 10.0M198.8 509.0l10.0 -10.0M199.9 498.6l10.0 10.0M199.9 508.6l10.0 -10.0M200.9 499.3l10.0 10.0M200.9 509.3l10.0 -10.0M201.9 498.6l10.0 10.0M201.9 508.6l10.0 -10.0M203.0 499.0l10.0 10.0M203.0 509.0l10.0 -10.0M204.0 499.0l10.0 10.0M204.0 509.0l10.0 -10.0M205.0 498.6l10.0 10.0M205.0 508.6l10.0 -10.0M206.0 499.3l10.0 10.0M206.0 509.3l10.0 -10.0M207.1 499.0l10.0 10.0M207.1 509.0l10.0 -10.0M208.1 498.6l10.0 10.0M208.1 508.6l10.0 -10.0M209.1 497.9l10.0 10.0M209.1 507.9l10.0 -10.0M210.1 497.2l10.0 10.0M210.1 507.2l10.0 -10.0M211.2 497.9l10.0 10.0M211.2 507.9l10.0 -10.0M212.2 499.3l10.0 10.0M212.2 509.3l10.0 -10.0M213.2 498.6l10.0 10.0M213.2 508.6l10.0 -10.0M214.3 499.3l10.0 10.0M214.3 509.3l10.0 -10.0M215.3 499.3l10.0 10.0M215.3 509.3l10.0 -10.0M216.3 499.0l10.0 10.0M216.3 509.0l10.0 -10.0M217.3 499.3l10.0 10.0M217.3 509.3l10.0 -10.0M218.4 497.9l10.0 10.0M218.4 507.9l10.0 -10.0M219.4 498.6l10.0 10.0M219.4 508.6l10.0 -10.0M220.4 499.0l10.0 10.0M220.4 509.0l10.0 -10.0M221.4 499.3l10.0 10.0M221.4 509.3l10.0 -10.0M222.5 497.2l10.0 10.0M222.5 507.2l10.0 -10.0M223.5 497.2l10.0 10.0M223.5 507.2l10.0 -10.0M224.5 499.0l10.0 10.0M224.5 509.0l10.0 -10.0M225.6 499.0l10.0 10.0M225.6 509.0l10.0 -10.0M226.6 498.6l10.0 10.0M226.6 508.6l10.0 -10.0M227.6 499.0l10.0 10.0M227.6 509.0l10.0 -10.0M228.6 499.3l10.0 10.0M228.6 509.3l10.0 -10.0M229.7 499.0l10.0 10.0M229.7 509.0l10.0 -10.0M230.7 499.3l10.0 10.0M230.7 509.3l10.0 -10.0M231.7 498.6l10.0 10.0M231.7 508.6l10.0 -10.0M232.8 498.6l10.0 10.0M232.8 508.6l10.0 -10.0M233.8 498.6l10.0 10.0M233.8 508.6l10.0 -10.0M234.8 497.9l10.0 10.0M234.8 507.9l10.0 -10.0M235.8 497.9l10.0 10.0M235.8 507.9l10.0 -10.0M236.9 497.9l10.0 10.0M236.9 507.9l10.0 -10.0M237.9 497.2l10.0 10.0M237.9 507.2l10.0 -10.0M238.9 497.2l10.0 10.0M238.9 507.2l10.0 -10.0M239.9 497.2l10.0 10.0M239.9 507.2l10.0 -10.0M241.0 498.6l10.0 10.0M241.0 508.6l10.0 -10.0M242.0 497.2l10.0 10.0M242.0 507.2l10.0 -10.0M243.0 497.9l10.0 10.0M243.0 507.9l10.0 -10.0M244.1 497.2l10.0 10.0M244.1 507.2l10.0 -10.0M245.1 499.3l10.0 10.0M245.1 509.3l10.0 -10.0M246.1 498.6l10.0 10.0M246.1 508.6l10.0 -10.0M247.1 499.0l10.0 10.0M247.1 509.0l10.0 -10.0M248.2 499.0l10.0 10.0M248.2 509.0l10.0 -10.0M249.2 498.6l10.0 10.0M249.2 508.6l10.0 -10.0M250.2 497.2l10.0 10.0M250.2 507.2l10.0 -10.0M251.2 497.9l10.0 10.0M251.2 507.9l10.0 -10.0M252.3 497.2l10.0 10.0M252.3 507.2l10.0 -10.0M253.3 498.6l10.0 10.0M253.3 508.6l10.0 -10.0M254.3 497.2l10.0 10.0M254.3 507.2l10.0 -10.0M255.4 497.9l10.0 10.0M255.4 507.9l10.0 -10.0M256.4 499.0l10.0 10.0M256.4 509.0l10.0 -10.0M257.4 498.6l10.0 10.0M257.4 508.6l10.0 -10.0M258.4 497.2l10.0 10.0M258.4 507.2l10.0 -10.0M259.5 499.3l10.0 10.0M259.5 509.3l10.0 -10.0M260.5 497.2l10.0 10.0M260.5 507.2l10.0 -10.0M261.5 497.9l10.0 10.0M261.5 507.9l10.0 -10.0M262.5 498.6l10.0 10.0M262.5 508.6l10.0 -10.0M263.6 498.6l10.0 10.0M263.6 508.6l10.0 -10.0M264.6 499.3l10.0 10.0M264.6 509.3l10.0 -10.0M265.6 497.9l10.0 10.0M265.6 507.9l10.0 -10.0M266.7 499.0l10.0 10.0M266.7 509.0l10.0 -10.0M267.7 499.0l10.0 10.0M267.7 509.0l10.0 -10.0M268.7 499.0l10.0 10.0M268.7 509.0l10.0 -10.0M269.7 499.0l10.0 10.0M269.7 509.0l10.0 -10.0M270.8 497.9l10.0 10.0M270.8 507.9l10.0 -10.0M271.8 499.0l10.0 10.0M271.8 509.0l10.0 -10.0M272.8 499.0l10.0 10.0M272.8 509.0l10.0 -10.0M273.9 499.0l10.0 10.0M273.9 509.0l10.0 -10.0M274.9 499.0l10.0 10.0M274.9 509.0l10.0 -10.0M275.9 497.2l10.0 10.0M275.9 507.2l10.0 -10.0M276.9 499.3l10.0 10.0M276.9 509.3l10.0 -10.0M278.0 497.9l10.0 10.0M278.0 507.9l10.0 -10.0M279.0 499.0l10.0 10.0M279.0 509.0l10.0 -10.0M280.0 497.9l10.0 10.0M280.0 507.9l10.0 -10.0M281.0 498.6l10.0 10.0M281.0 508.6l10.0 -10.0M282.1 499.0l10.0 10.0M282.1 509.0l10.0 -10.0M283.1 499.3l10.0 10.0M283.1 509.3l10.0 -10.0M284.1 497.9l10.0 10.0M284.1 507.9l10.0 -10.0M285.2 499.0l10.0 10.0M285.2 509.0l10.0 -10.0M286.2 499.3l10.0 10.0M286.2 509.3l10.0 -10.0M287.2 497.2l10.0 10.0M287.2 507.2l10.0 -10.0M288.2 499.3l10.0 10.0M288.2 509.3l10.0 -10.0M289.3 499.3l10.0 10.0M289.3 509.3l10.0 -10.0M290.3 499.3l10.0 10.0M290.3 509.3l10.0 -10.0M291.3 499.0l10.0 10.0M291.3 509.0l10.0 -10.0M292.3 498.6l10.0 10.0M292.3 508.6l10.0 -10.0M293.4 497.9l10.0 10.0M293.4 507.9l10.0 -10.0M294.4 499.0l10.0 10.0M294.4 509.0l10.0 -10.0M295.4 497.2l10.0 10.0M295.4 507.2l10.0 -10.0M296.5 497.2l10.0 10.0M296.5 507.2l10.0 -10.0M297.5 497.2l10.0 10.0M297.5 507.2l10.0 -10.0M298.5 497.2l10.0 10.0M298.5 507.2l10.0 -10.0M299.5 498.6l10.0 10.0M299.5 508.6l10.0 -10.0M300.6 499.3l10.0 10.0M300.6 509.3l10.0 -10.0M301.6 499.3l10.0 10.0M301.6 509.3l10.0 -10.0M302.6 497.2l10.0 10.0M302.6 507.2l10.0 -10.0M303.6 498.6l10.0 10.0M303.6 508.6l10.0 -10.0M304.7 499.0l10.0 10.0M304.7 509.0l10.0 -10.0M305.7 497.2l10.0 10.0M305.7 507.2l10.0 -10.0M306.7 499.3l10.0 10.0M306.7 509.3l10.0 -10.0M307.8 498.6l10.0 10.0M307.8 508.6l10.0 -10.0M308.8 497.9l10.0 10.0M308.8 507.9l10.0 -10.0M309.8 498.6l10.0 10.0M309.8 508.6l10.0 -10.0M310.8 499.0l10.0 10.0M310.8 509.0l10.0 -10.0M311.9 497.9l10.0 10.0M311.9 507.9l10.0 -10.0M312.9 497.9l10.0 10.0M312.9 507.9l10.0 -10.0M313.9 497.2l10.0 10.0M313.9 507.2l10.0 -10.0M315.0 498.6l10.0 10.0M315.0 508.6l10.0 -10.0M316.0 497.2l10.0 10.0M316.0 507.2l10.0 -10.0M317.0 497.2l10.0 10.0M317.0 507.2l10.0 -10.0M318.0 497.2l10.0 10.0M318.0 507.2l10.0 -10.0M319.1 498.6l10.0 10.0M319.1 508.6l10.0 -10.0M320.1 499.3l10.0 10.0M320.1 509.3l10.0 -10.0M321.1 498.6l10.0 10.0M321.1 508.6l10.0 -10.0M322.1 498.6l10.0 10.0M322.1 508.6l10.0 -10.0M323.2 497.9l10.0 10.0M323.2 507.9l10.0 -10.0M324.2 497.2l10.0 10.0M324.2 507.2l10.0 -10.0M325.2 497.2l10.0 10.0M325.2 507.2l10.0 -10.0M326.3 497.2l10.0 10.0M326.3 507.2l10.0 -10.0M327.3 498.6l10.0 10.0M327.3 508.6l10.0 -10.0M328.3 498.6l10.0 10.0M328.3 508.6l10.0 -10.0M329.3 498.6l10.0 10.0M329.3 508.6l10.0 -10.0M330.4 499.0l10.0 10.0M330.4 509.0l10.0 -10.0M331.4 497.2l10.0 10.0M331.4 507.2l10.0 -10.0M332.4 499.3l10.0 10.0M332.4 509.3l10.0 -10.0M333.4 499.3l10.0 10.0M333.4 509.3l10.0 -10.0M334.5 499.0l10.0 10.0M334.5 509.0l10.0 -10.0M335.5 498.6l10.0 10.0M335.5 508.6l10.0 -10.0M336.5 498.6l10.0 10.0M336.5 508.6l10.0 -10.0M337.6 499.0l10.0 10.0M337.6 509.0l10.0 -10.0M338.6 499.0l10.0 10.0M338.6 509.0l10.0 -10.0M339.6 498.6l10.0 10.0M339.6 508.6l10.0 -10.0M340.6 497.9l10.0 10.0M340.6 507.9l10.0 -10.0M341.7 497.2l10.0 10.0M341.7 507.2l10.0 -10.0M342.7 497.9l10.0 10.0M342.7 507.9l10.0 -10.0M343.7 499.3l10.0 10.0M343.7 509.3l10.0 -10.0M344.7 498.6l10.0 10.0M344.7 508.6l10.0 -10.0M345.8 497.2l10.0 10.0M345.8 507.2l10.0 -10.0M346.8 497.2l10.0 10.0M346.8 507.2l10.0 -10.0M347.8 497.9l10.0 10.0M347.8 507.9l10.0 -10.0M348.9 499.0l10.0 10.0M348.9 509.0l10.0 -10.0M349.9 497.2l10.0 10.0M349.9 507.2l10.0 -10.0M350.9 499.3l10.0 10.0M350.9 509.3l10.0 -10.0M351.9 497.9l10.0 10.0M351.9 507.9l10.0 -10.0M353.0 498.6l10.0 10.0M353.0 508.6l10.0 -10.0M354.0 497.9l10.0 10.0M354.0 507.9l10.0 -10.0M355.0 499.0l10.0 10.0M355.0 509.0l10.0 -10.0M356.0 498.6l10.0 10.0M356.0 508.6l10.0 -10.0M357.1 498.6l10.0 10.0M357.1 508.6l10.0 -10.0M358.1 497.2l10.0 10.0M358.1 507.2l10.0 -10.0M359.1 497.9l10.0 10.0M359.1 507.9l10.0 -10.0M360.2 497.9l10.0 10.0M360.2 507.9l10.0 -10.0M361.2 499.3l10.0 10.0M361.2 509.3l10.0 -10.0M362.2 499.0l10.0 10.0M362.2 509.0l10.0 -10.0M363.2 497.9l10.0 10.0M363.2 507.9l10.0 -10.0M364.3 499.0l10.0 10.0M364.3 509.0l10.0 -10.0M365.3 497.2l10.0 10.0M365.3 507.2l10.0 -10.0M366.3 497.2l10.0 10.0M366.3 507.2l10.0 -10.0M367.4 499.3l10.0 10.0M367.4 509.3l10.0 -10.0M368.4 499.3l10.0 10.0M368.4 509.3l10.0 -10.0M369.4 499.3l10.0 10.0M369.4 509.3l10.0 -10.0M370.4 499.3l10.0 10.0M370.4 509.3l10.0 -10.0M371.5 497.9l10.0 10.0M371.5 507.9l10.0 -10.0M372.5 497.9l10.0 10.0M372.5 507.9l10.0 -10.0M373.5 499.0l10.0 10.0M373.5 509.0l10.0 -10.0M374.5 497.2l10.0 10.0M374.5 507.2l10.0 -10.0M375.6 497.2l10.0 10.0M375.6 507.2l10.0 -10.0M376.6 499.3l10.0 10.0M376.6 509.3l10.0 -10.0M377.6 498.6l10.0 10.0M377.6 508.6l10.0 -10.0M378.7 499.3l10.0 10.0M378.7 509.3l10.0 -10.0M379.7 499.0l10.0 10.0M379.7 509.0l10.0 -10.0M380.7 497.9l10.0 10.0M380.7 507.9l10.0 -10.0M381.7 499.3l10.0 10.0M381.7 509.3l10.0 -10.0M382.8 497.9l10.0 10.0M382.8 507.9l10.0 -10.0M383.8 498.6l10.0 10.0M383.8 508.6l10.0 -10.0M384.8 497.9l10.0 10.0M384.8 507.9l10.0 -10.0M385.8 499.0l10.0 10.0M385.8 509.0l10.0 -10.0M386.9 499.3l10.0 10.0M386.9 509.3l10.0 -10.0M387.9 499.0l10.0 10.0M387.9 509.0l10.0 -10.0M388.9 499.3l10.0 10.0M388.9 509.3l10.0 -10.0M390.0 499.0l10.0 10.0M390.0 509.0l10.0 -10.0M391.0 499.3l10.0 10.0M391.0 509.3l10.0 -10.0M392.0 497.2l10.0 10.0M392.0 507.2l10.0 -10.0M393.0 498.6l10.0 10.0M393.0 508.6l10.0 -10.0M394.1 498.6l10.0 10.0M394.1 508.6l10.0 -10.0M395.1 499.0l10.0 10.0M395.1 509.0l10.0 -10.0M396.1 498.6l10.0 10.0M396.1 508.6l10.0 -10.0M397.1 499.3l10.0 10.0M397.1 509.3l10.0 -10.0M398.2 498.6l10.0 10.0M398.2 508.6l10.0 -10.0M399.2 499.3l10.0 10.0M399.2 509.3l10.0 -10.0M400.2 499.3l10.0 10.0M400.2 509.3l10.0 -10.0M401.3 499.3l10.0 10.0M401.3 509.3l10.0 -10.0M402.3 497.9l10.0 10.0M402.3 507.9l10.0 -10.0M403.3 499.0l10.0 10.0M403.3 509.0l10.0 -10.0M404.3 497.2l10.0 10.0M404.3 507.2l10.0 -10.0M405.4 499.0l10.0 10.0M405.4 509.0l10.0 -10.0M406.4 497.2l10.0 10.0M406.4 507.2l10.0 -10.0M407.4 497.9l10.0 10.0M407.4 507.9l10.0 -10.0M408.5 499.0l10.0 10.0M408.5 509.0l10.0 -10.0M409.5 497.2l10.0 10.0M409.5 507.2l10.0 -10.0M410.5 497.9l10.0 10.0M410.5 507.9l10.0 -10.0M411.5 498.6l10.0 10.0M411.5 508.6l10.0 -10.0M412.6 497.9l10.0 10.0M412.6 507.9l10.0 -10.0M413.6 497.2l10.0 10.0M413.6 507.2l10.0 -10.0M414.6 497.2l10.0 10.0M414.6 507.2l10.0 -10.0M415.6 497.9l10.0 10.0M415.6 507.9l10.0 -10.0M416.7 497.2l10.0 10.0M416.7 507.2l10.0 -10.0M417.7 498.6l10.0 10.0M417.7 508.6l10.0 -10.0M418.7 497.9l10.0 10.0M418.7 507.9l10.0 -10.0M419.8 497.2l10.0 10.0M419.8 507.2l10.0 -10.0M420.8 497.2l10.0 10.0M420.8 507.2l10.0 -10.0M421.8 499.0l10.0 10.0M421.8 509.0l10.0 -10.0M422.8 499.3l10.0 10.0M422.8 509.3l10.0 -10.0M423.9 497.9l10.0 10.0M423.9 507.9l10.0 -10.0M424.9 497.2l10.0 10.0M424.9 507.2l10.0 -10.0M425.9 499.3l10.0 10.0M425.9 509.3l10.0 -10.0M426.9 499.3l10.0 10.0M426.9 509.3l10.0 -10.0M428.0 497.2l10.0 10.0M428.0 507.2l10.0 -10.0M429.0 497.2l10.0 10.0M429.0 507.2l10.0 -10.0M430.0 499.0l10.0 10.0M430.0 509.0l10.0 -10.0M431.1 498.6l10.0 10.0M431.1 508.6l10.0 -10.0M432.1 498.6l10.0 10.0M432.1 508.6l10.0 -10.0M433.1 499.3l10.0 10.0M433.1 509.3l10.0 -10.0M434.1 498.6l10.0 10.0M434.1 508.6l10.0 -10.0M435.2 499.0l10.0 10.0M435.2 509.0l10.0 -10.0M436.2 498.6l10.0 10.0M436.2 508.6l10.0 -10.0M437.2 497.9l10.0 10.0M437.2 507.9l10.0 -10.0M438.2 499.3l10.0 10.0M438.2 509.3l10.0 -10.0M439.3 499.0l10.0 10.0M439.3 509.0l10.0 -10.0M440.3 498.6l10.0 10.0M440.3 508.6l10.0 -10.0M441.3 497.9l10.0 10.0M441.3 507.9l10.0 -10.0M442.4 499.0l10.0 10.0M442.4 509.0l10.0 -10.0M443.4 497.2l10.0 10.0M443.4 507.2l10.0 -10.0M444.4 499.0l10.0 10.0M444.4 509.0l10.0 -10.0M445.4 499.3l10.0 10.0M445.4 509.3l10.0 -10.0M446.5 497.9l10.0 10.0M446.5 507.9l10.0 -10.0M447.5 499.0l10.0 10.0M447.5 509.0l10.0 -10.0M448.5 499.3l10.0 10.0M448.5 509.3l10.0 -10.0M449.6 499.0l10.0 10.0M449.6 509.0l10.0 -10.0M450.6 497.2l10.0 10.0M450.6 507.2l10.0 -10.0M451.6 499.0l10.0 10.0M451.6 509.0l10.0 -10.0M452.6 499.3l10.0 10.0M452.6 509.3l10.0 -10.0M453.7 497.2l10.0 10.0M453.7 507.2l10.0 -10.0M454.7 499.3l10.0 10.0M454.7 509.3l10.0 -10.0M455.7 497.2l10.0 10.0M455.7 507.2l10.0 -10.0M456.7 497.9l10.0 10.0M456.7 507.9l10.0 -10.0M457.8 499.3l10.0 10.0M457.8 509.3l10.0 -10.0M458.8 497.9l10.0 10.0M458.8 507.9l10.0 -10.0M459.8 499.3l10.0 10.0M459.8 509.3l10.0 -10.0M460.9 497.9l10.0 10.0M460.9 507.9l10.0 -10.0M461.9 498.6l10.0 10.0M461.9 508.6l10.0 -10.0M462.9 497.9l10.0 10.0M462.9 507.9l10.0 -10.0M463.9 497.9l10.0 10.0M463.9 507.9l10.0 -10.0M465.0 498.6l10.0 10.0M465.0 508.6l10.0 -10.0M466.0 498.6l10.0 10.0M466.0 508.6l10.0 -10.0M467.0 497.2l10.0 10.0M467.0 507.2l10.0 -10.0M468.0 499.0l10.0 10.0M468.0 509.0l10.0 -10.0M469.1 498.6l10.0 10.0M469.1 508.6l10.0 -10.0M470.1 499.0l10.0 10.0M470.1 509.0l10.0 -10.0M471.1 497.2l10.0 10.0M471.1 507.2l10.0 -10.0M472.2 499.0l10.0 10.0M472.2 509.0l10.0 -10.0M473.2 499.0l10.0 10.0M473.2 509.0l10.0 -10.0M474.2 499.3l10.0 10.0M474.2 509.3l10.0 -10.0M475.2 499.0l10.0 10.0M475.2 509.0l10.0 -10.0M476.3 497.2l10.0 10.0M476.3 507.2l10.0 -10.0M477.3 499.0l10.0 10.0M477.3 509.0l10.0 -10.0M478.3 497.9l10.0 10.0M478.3 507.9l10.0 -10.0M479.4 499.0l10.0 10.0M479.4 509.0l10.0 -10.0M480.4 497.2l10.0 10.0M480.4 507.2l10.0 -10.0M481.4 497.9l10.0 10.0M481.4 507.9l10.0 -10.0M482.4 497.2l10.0 10.0M482.4 507.2l10.0 -10.0M483.5 499.3l10.0 10.0M483.5 509.3l10.0 -10.0M484.5 499.0l10.0 10.0M484.5 509.0l10.0 -10.0M485.5 497.9l10.0 10.0M485.5 507.9l10.0 -10.0M486.5 497.2l10.0 10.0M486.5 507.2l10.0 -10.0M487.6 499.0l10.0 10.0M487.6 509.0l10.0 -10.0M488.6 497.2l10.0 10.0M488.6 507.2l10.0 -10.0M489.6 499.3l10.0 10.0M489.6 509.3l10.0 -10.0M490.7 497.2l10.0 10.0M490.7 507.2l10.0 -10.0M491.7 499.0l10.0 10.0M491.7 509.0l10.0 -10.0M492.7 497.2l10.0 10.0M492.7 507.2l10.0 -10.0M493.7 497.9l10.0 10.0M493.7 507.9l10.0 -10.0M494.8 499.0l10.0 10.0M494.8 509.0l10.0 -10.0M495.8 499.3l10.0 10.0M495.8 509.3l10.0 -10.0M496.8 497.2l10.0 10.0M496.8 507.2l10.0 -10.0M497.8 499.0l10.0 10.0M497.8 509.0l10.0 -10.0M498.9 497.9l10.0 10.0M498.9 507.9l10.0 -10.0M499.9 499.0l10.0 10.0M499.9 509.0l10.0 -10.0M500.9 497.9l10.0 10.0M500.9 507.9l10.0 -10.0M502.0 497.2l10.0 10.0M502.0 507.2l10.0 -10.0M503.0 499.3l10.0 10.0M503.0 509.3l10.0 -10.0M504.0 499.0l10.0 10.0M504.0 509.0l10.0 -10.0M505.0 497.9l10.0 10.0M505.0 507.9l10.0 -10.0M506.1 497.2l10.0 10.0M506.1 507.2l10.0 -10.0M507.1 497.2l10.0 10.0M507.1 507.2l10.0 -10.0M508.1 498.6l10.0 10.0M508.1 508.6l10.0 -10.0M509.1 497.9l10.0 10.0M509.1 507.9l10.0 -10.0M510.2 498.6l10.0 10.0M510.2 508.6l10.0 -10.0M511.2 497.2l10.0 10.0M511.2 507.2l10.0 -10.0M512.2 497.2l10.0 10.0M512.2 507.2l10.0 -10.0M513.3 497.2l10.0 10.0M513.3 507.2l10.0 -10.0M514.3 498.6l10.0 10.0M514.3 508.6l10.0 -10.0M515.3 497.2l10.0 10.0M515.3 507.2l10.0 -10.0M516.3 497.2l10.0 10.0M516.3 507.2l10.0 -10.0M517.4 497.2l10.0 10.0M517.4 507.2l10.0 -10.0M518.4 498.6l10.0 10.0M518.4 508.6l10.0 -10.0M519.4 499.3l10.0 10.0M519.4 509.3l10.0 -10.0M520.5 498.6l10.0 10.0M520.5 508.6l10.0 -10.0M521.5 499.3l10.0 10.0M521.5 509.3l10.0 -10.0M522.5 498.6l10.0 10.0M522.5 508.6l10.0 -10.0M523.5 497.2l10.0 10.0M523.5 507.2l10.0 -10.0M524.6 499.0l10.0 10.0M524.6 509.0l10.0 -10.0M607.0 238.7l10.0 10.0M607.0 248.7l10.0 -10.0M622.2 288.6l10.0 10.0M622.2 298.6l10.0 -10.0M605.8 319.0l10.0 10.0M605.8 329.0l10.0 -10.0M582.5 330.6l10.0 10.0M582.5 340.6l10.0 -10.0M621.7 331.8l10.0 10.0M621.7 341.8l10.0 -10.0M535.2 366.9l10.0 10.0M535.2 376.9l10.0 -10.0M563.3 365.7l10.0 10.0M563.3 375.7l10.0 -10.0M577.8 363.4l10.0 10.0M577.8 373.4l10.0 -10.0M617.5 370.4l10.0 10.0M617.5 380.4l10.0 -10.0M624.5 366.9l10.0 10.0M624.5 376.9l10.0 -10.0M556.2 384.7l10.0 10.0M556.2 394.7l10.0 -10.0M563.2 387.6l10.0 10.0M563.2 397.6l10.0 -10.0M565.0 382.3l10.0 10.0M565.0 392.3l10.0 -10.0M554.4 404.6l10.0 10.0M554.4 414.6l10.0 -10.0M556.8 413.9l10.0 10.0M556.8 423.9l10.0 -10.0M561.5 415.1l10.0 10.0M561.5 425.1l10.0 -10.0M554.4 418.6l10.0 10.0M554.4 428.6l10.0 -10.0M565.0 418.6l10.0 10.0M565.0 428.6l10.0 -10.0M568.5 413.9l10.0 10.0M568.5 423.9l10.0 -10.0M559.1 425.6l10.0 10.0M559.1 435.6l10.0 -10.0M527.5 430.3l10.0 10.0M527.5 440.3l10.0 -10.0M525.2 435.0l10.0 10.0M525.2 445.0l10.0 -10.0M545.1 436.1l10.0 10.0M545.1 446.1l10.0 -10.0M566.1 438.5l10.0 10.0M566.1 448.5l10.0 -10.0M593.7 384.1l10.0 10.0M593.7 394.1l10.0 -10.0M623.5 385.8l10.0 10.0M623.5 395.8l10.0 -10.0M594.8 401.1l10.0 10.0M594.8 411.1l10.0 -10.0M566.2 391.7l10.0 10.0M566.2 401.7l10.0 -10.0M618.8 412.7l10.0 10.0M618.8 422.7l10.0 -10.0M622.3 418.6l10.0 10.0M622.3 428.6l10.0 -10.0M615.3 418.6l10.0 10.0M615.3 428.6l10.0 -10.0M576.7 423.3l10.0 10.0M576.7 433.3l10.0 -10.0M588.4 424.4l10.0 10.0M588.4 434.4l10.0 -10.0M611.8 432.6l10.0 10.0M611.8 442.6l10.0 -10.0M618.8 435.0l10.0 10.0M618.8 445.0l10.0 -10.0M570.8 436.1l10.0 10.0M570.8 446.1l10.0 -10.0M525.7 458.2l10.0 10.0M525.7 468.2l10.0 -10.0M531.4 466.4l10.0 10.0M531.4 476.4l10.0 -10.0M527.0 473.3l10.0 10.0M527.0 483.3l10.0 -10.0M529.5 484.0l10.0 10.0M529.5 494.0l10.0 -10.0M550.3 475.8l10.0 10.0M550.3 485.8l10.0 -10.0M544.6 485.9l10.0 10.0M544.6 495.9l10.0 -10.0M554.7 485.9l10.0 10.0M554.7 495.9l10.0 -10.0M532.0 496.6l10.0 10.0M532.0 506.6l10.0 -10.0M537.7 495.3l10.0 10.0M537.7 505.3l10.0 -10.0M544.0 497.9l10.0 10.0M544.0 507.9l10.0 -10.0M550.3 496.6l10.0 10.0M550.3 506.6l10.0 -10.0M547.7 501.6l10.0 10.0M547.7 511.6l10.0 -10.0M535.2 501.6l10.0 10.0M535.2 511.6l10.0 -10.0M565.3 451.3l10.0 10.0M565.3 461.3l10.0 -10.0M564.1 465.2l10.0 10.0M564.1 475.2l10.0 -10.0M567.9 471.4l10.0 10.0M567.9 481.4l10.0 -10.0M569.1 490.3l10.0 10.0M569.1 500.3l10.0 -10.0M567.2 441.9l10.0 10.0M567.2 451.9l10.0 -10.0M525.1 492.8l10.0 10.0M525.1 502.8l10.0 -10.0M527.6 500.4l10.0 10.0M527.6 510.4l10.0 -10.0M612.8 444.4l10.0 10.0M612.8 454.4l10.0 -10.0M589.5 451.3l10.0 10.0M589.5 461.3l10.0 -10.0M586.4 444.4l10.0 10.0M586.4 454.4l10.0 -10.0M571.3 455.1l10.0 10.0M571.3 465.1l10.0 -10.0M578.8 465.8l10.0 10.0M578.8 475.8l10.0 -10.0M582.6 474.0l10.0 10.0M582.6 484.0l10.0 -10.0M573.8 475.8l10.0 10.0M573.8 485.8l10.0 -10.0M599.0 462.6l10.0 10.0M599.0 472.6l10.0 -10.0M605.3 463.9l10.0 10.0M605.3 473.9l10.0 -10.0M596.4 470.2l10.0 10.0M596.4 480.2l10.0 -10.0M602.7 471.4l10.0 10.0M602.7 481.4l10.0 -10.0M609.0 471.4l10.0 10.0M609.0 481.4l10.0 -10.0M600.2 476.5l10.0 10.0M600.2 486.5l10.0 -10.0M615.3 466.4l10.0 10.0M615.3 476.4l10.0 -10.0M624.1 463.9l10.0 10.0M624.1 473.9l10.0 -10.0M580.1 487.8l10.0 10.0M580.1 497.8l10.0 -10.0M585.1 496.6l10.0 10.0M585.1 506.6l10.0 -10.0M590.2 497.9l10.0 10.0M590.2 507.9l10.0 -10.0M592.7 490.3l10.0 10.0M592.7 500.3l10.0 -10.0M601.5 487.8l10.0 10.0M601.5 497.8l10.0 -10.0M609.0 484.0l10.0 10.0M609.0 494.0l10.0 -10.0M612.8 489.1l10.0 10.0M612.8 499.1l10.0 -10.0M602.7 494.1l10.0 10.0M602.7 504.1l10.0 -10.0M614.1 497.9l10.0 10.0M614.1 507.9l10.0 -10.0M586.4 492.8l10.0 10.0M586.4 502.8l10.0 -10.0M713.6 134.0l10.0 10.0M713.6 144.0l10.0 -10.0M631.7 216.4l10.0 10.0M631.7 226.4l10.0 -10.0M656.3 210.1l10.0 10.0M656.3 220.1l10.0 -10.0M664.9 212.9l10.0 10.0M664.9 222.9l10.0 -10.0M704.7 215.4l10.0 10.0M704.7 225.4l10.0 -10.0M715.9 215.4l10.0 10.0M715.9 225.4l10.0 -10.0M718.7 234.6l10.0 10.0M718.7 244.6l10.0 -10.0M732.7 229.2l10.0 10.0M732.7 239.2l10.0 -10.0M657.4 244.0l10.0 10.0M657.4 254.0l10.0 -10.0M669.1 247.0l10.0 10.0M669.1 257.0l10.0 -10.0M677.9 258.2l10.0 10.0M677.9 268.2l10.0 -10.0M635.1 267.7l10.0 10.0M635.1 277.7l10.0 -10.0M663.4 270.2l10.0 10.0M663.4 280.2l10.0 -10.0M649.6 280.3l10.0 10.0M649.6 290.3l10.0 -10.0M659.6 285.9l10.0 10.0M659.6 295.9l10.0 -10.0M671.6 282.8l10.0 10.0M671.6 292.8l10.0 -10.0M679.1 277.7l10.0 10.0M679.1 287.7l10.0 -10.0M643.3 292.8l10.0 10.0M643.3 302.8l10.0 -10.0M641.4 304.8l10.0 10.0M641.4 314.8l10.0 -10.0M681.3 258.2l10.0 10.0M681.3 268.2l10.0 -10.0M683.1 279.0l10.0 10.0M683.1 289.0l10.0 -10.0M720.3 272.1l10.0 10.0M720.3 282.1l10.0 -10.0M732.8 253.2l10.0 10.0M732.8 263.2l10.0 -10.0M734.1 261.4l10.0 10.0M734.1 271.4l10.0 -10.0M735.3 267.7l10.0 10.0M735.3 277.7l10.0 -10.0M736.0 274.0l10.0 10.0M736.0 284.0l10.0 -10.0M699.5 301.6l10.0 10.0M699.5 311.6l10.0 -10.0M731.6 295.3l10.0 10.0M731.6 305.3l10.0 -10.0M632.6 312.6l10.0 10.0M632.6 322.6l10.0 -10.0M635.1 322.6l10.0 10.0M635.1 332.6l10.0 -10.0M640.1 323.9l10.0 10.0M640.1 333.9l10.0 -10.0M652.7 332.1l10.0 10.0M652.7 342.1l10.0 -10.0M660.3 337.7l10.0 10.0M660.3 347.7l10.0 -10.0M637.6 349.1l10.0 10.0M637.6 359.1l10.0 -10.0M675.3 356.0l10.0 10.0M675.3 366.0l10.0 -10.0M647.0 364.2l10.0 10.0M647.0 374.2l10.0 -10.0M725.9 322.6l10.0 10.0M725.9 332.6l10.0 -10.0M707.7 325.8l10.0 10.0M707.7 335.8l10.0 -10.0M695.1 330.2l10.0 10.0M695.1 340.2l10.0 -10.0M695.1 335.2l10.0 10.0M695.1 345.2l10.0 -10.0M703.3 335.8l10.0 10.0M703.3 345.8l10.0 -10.0M699.5 342.8l10.0 10.0M699.5 352.8l10.0 -10.0M685.7 342.8l10.0 10.0M685.7 352.8l10.0 -10.0M687.5 350.9l10.0 10.0M687.5 360.9l10.0 -10.0M717.7 354.7l10.0 10.0M717.7 364.7l10.0 -10.0M720.3 360.4l10.0 10.0M720.3 370.4l10.0 -10.0M735.3 350.3l10.0 10.0M735.3 360.3l10.0 -10.0M687.5 364.2l10.0 10.0M687.5 374.2l10.0 -10.0M643.3 382.6l10.0 10.0M643.3 392.6l10.0 -10.0M672.2 385.1l10.0 10.0M672.2 395.1l10.0 -10.0M622.5 371.9l10.0 10.0M622.5 381.9l10.0 -10.0M667.8 401.4l10.0 10.0M667.8 411.4l10.0 -10.0M627.5 406.5l10.0 10.0M627.5 416.5l10.0 -10.0M638.9 407.7l10.0 10.0M638.9 417.7l10.0 -10.0M623.8 415.3l10.0 10.0M623.8 425.3l10.0 -10.0M630.1 421.6l10.0 10.0M630.1 431.6l10.0 -10.0M645.2 425.3l10.0 10.0M645.2 435.3l10.0 -10.0M655.2 427.9l10.0 10.0M655.2 437.9l10.0 -10.0M664.0 424.1l10.0 10.0M664.0 434.1l10.0 -10.0M674.1 422.8l10.0 10.0M674.1 432.8l10.0 -10.0M651.4 434.2l10.0 10.0M651.4 444.2l10.0 -10.0M667.8 432.9l10.0 10.0M667.8 442.9l10.0 -10.0M677.9 429.1l10.0 10.0M677.9 439.1l10.0 -10.0M683.1 380.7l10.0 10.0M683.1 390.7l10.0 -10.0M691.3 387.6l10.0 10.0M691.3 397.6l10.0 -10.0M700.8 392.0l10.0 10.0M700.8 402.0l10.0 -10.0M710.8 379.4l10.0 10.0M710.8 389.4l10.0 -10.0M724.0 380.7l10.0 10.0M724.0 390.7l10.0 -10.0M737.9 391.4l10.0 10.0M737.9 401.4l10.0 -10.0M690.1 402.7l10.0 10.0M690.1 412.7l10.0 -10.0M697.6 400.2l10.0 10.0M697.6 410.2l10.0 -10.0M706.4 401.4l10.0 10.0M706.4 411.4l10.0 -10.0M688.8 409.0l10.0 10.0M688.8 419.0l10.0 -10.0M721.5 414.0l10.0 10.0M721.5 424.0l10.0 -10.0M730.3 420.3l10.0 10.0M730.3 430.3l10.0 -10.0M691.3 430.4l10.0 10.0M691.3 440.4l10.0 -10.0M702.6 434.2l10.0 10.0M702.6 444.2l10.0 -10.0M714.0 429.1l10.0 10.0M714.0 439.1l10.0 -10.0M724.0 435.4l10.0 10.0M724.0 445.4l10.0 -10.0M698.9 424.1l10.0 10.0M698.9 434.1l10.0 -10.0M739.1 429.1l10.0 10.0M739.1 439.1l10.0 -10.0M630.7 443.1l10.0 10.0M630.7 453.1l10.0 -10.0M651.4 441.3l10.0 10.0M651.4 451.3l10.0 -10.0M636.4 452.6l10.0 10.0M636.4 462.6l10.0 -10.0M627.5 463.9l10.0 10.0M627.5 473.9l10.0 -10.0M638.9 470.2l10.0 10.0M638.9 480.2l10.0 -10.0M644.5 466.4l10.0 10.0M644.5 476.4l10.0 -10.0M648.9 472.7l10.0 10.0M648.9 482.7l10.0 -10.0M654.0 468.9l10.0 10.0M654.0 478.9l10.0 -10.0M647.0 481.5l10.0 10.0M647.0 491.5l10.0 -10.0M662.1 479.0l10.0 10.0M662.1 489.0l10.0 -10.0M667.8 451.3l10.0 10.0M667.8 461.3l10.0 -10.0M670.3 458.2l10.0 10.0M670.3 468.2l10.0 -10.0M677.9 467.0l10.0 10.0M677.9 477.0l10.0 -10.0M676.6 441.3l10.0 10.0M676.6 451.3l10.0 -10.0M679.1 453.8l10.0 10.0M679.1 463.8l10.0 -10.0M683.8 450.1l10.0 10.0M683.8 460.1l10.0 -10.0M682.5 455.1l10.0 10.0M682.5 465.1l10.0 -10.0M681.9 467.0l10.0 10.0M681.9 477.0l10.0 -10.0M693.8 443.1l10.0 10.0M693.8 453.1l10.0 -10.0M710.8 451.3l10.0 10.0M710.8 461.3l10.0 -10.0M712.1 456.4l10.0 10.0M712.1 466.4l10.0 -10.0M708.9 466.4l10.0 10.0M708.9 476.4l10.0 -10.0M716.5 443.1l10.0 10.0M716.5 453.1l10.0 -10.0M722.8 443.8l10.0 10.0M722.8 453.8l10.0 -10.0M727.8 447.5l10.0 10.0M727.8 457.5l10.0 -10.0M728.4 455.7l10.0 10.0M728.4 465.7l10.0 -10.0M727.2 465.2l10.0 10.0M727.2 475.2l10.0 -10.0M739.7 463.9l10.0 10.0M739.7 473.9l10.0 -10.0M767.2 188.0l10.0 10.0M767.2 198.0l10.0 -10.0M772.7 223.7l10.0 10.0M772.7 233.7l10.0 -10.0M741.9 270.2l10.0 10.0M741.9 280.2l10.0 -10.0M777.1 267.6l10.0 10.0M777.1 277.6l10.0 -10.0M774.0 277.7l10.0 10.0M774.0 287.7l10.0 -10.0M741.3 296.6l10.0 10.0M741.3 306.6l10.0 -10.0M753.8 310.4l10.0 10.0M753.8 320.4l10.0 -10.0M768.9 310.4l10.0 10.0M768.9 320.4l10.0 -10.0M753.8 313.8l10.0 10.0M753.8 323.8l10.0 -10.0M748.2 333.9l10.0 10.0M748.2 343.9l10.0 -10.0M764.5 335.8l10.0 10.0M764.5 345.8l10.0 -10.0M751.9 346.5l10.0 10.0M751.9 356.5l10.0 -10.0M760.1 347.7l10.0 10.0M760.1 357.7l10.0 -10.0M769.6 351.5l10.0 10.0M769.6 361.5l10.0 -10.0M775.2 345.2l10.0 10.0M775.2 355.2l10.0 -10.0M779.0 360.3l10.0 10.0M779.0 370.3l10.0 -10.0M741.3 391.4l10.0 10.0M741.3 401.4l10.0 -10.0M750.7 387.6l10.0 10.0M750.7 397.6l10.0 -10.0M756.4 387.6l10.0 10.0M756.4 397.6l10.0 -10.0M756.4 397.6l10.0 10.0M756.4 407.6l10.0 -10.0M768.9 397.0l10.0 10.0M768.9 407.0l10.0 -10.0M746.3 407.7l10.0 10.0M746.3 417.7l10.0 -10.0M755.1 415.3l10.0 10.0M755.1 425.3l10.0 -10.0M745.0 419.0l10.0 10.0M745.0 429.0l10.0 -10.0M771.4 416.5l10.0 10.0M771.4 426.5l10.0 -10.0M765.2 422.8l10.0 10.0M765.2 432.8l10.0 -10.0M743.8 427.8l10.0 10.0M743.8 437.8l10.0 -10.0M783.4 422.8l10.0 10.0M783.4 432.8l10.0 -10.0M787.8 427.8l10.0 10.0M787.8 437.8l10.0 -10.0M786.5 435.4l10.0 10.0M786.5 445.4l10.0 -10.0M779.0 437.9l10.0 10.0M779.0 447.9l10.0 -10.0M748.8 440.4l10.0 10.0M748.8 450.4l10.0 -10.0M799.1 412.7l10.0 10.0M799.1 422.7l10.0 -10.0M804.4 404.6l10.0 10.0M804.4 414.6l10.0 -10.0M803.1 415.3l10.0 10.0M803.1 425.3l10.0 -10.0M812.6 426.6l10.0 10.0M812.6 436.6l10.0 -10.0M806.3 431.6l10.0 10.0M806.3 441.6l10.0 -10.0M808.8 439.2l10.0 10.0M808.8 449.2l10.0 -10.0M750.1 443.8l10.0 10.0M750.1 453.8l10.0 -10.0M762.6 446.9l10.0 10.0M762.6 456.9l10.0 -10.0M747.5 453.8l10.0 10.0M747.5 463.8l10.0 -10.0M743.8 463.9l10.0 10.0M743.8 473.9l10.0 -10.0M759.5 465.2l10.0 10.0M759.5 475.2l10.0 -10.0M757.6 471.4l10.0 10.0M757.6 481.4l10.0 -10.0M762.6 479.0l10.0 10.0M762.6 489.0l10.0 -10.0M780.3 441.3l10.0 10.0M780.3 451.3l10.0 -10.0M780.3 451.3l10.0 10.0M780.3 461.3l10.0 -10.0M789.1 450.1l10.0 10.0M789.1 460.1l10.0 -10.0M784.0 460.1l10.0 10.0M784.0 470.1l10.0 -10.0M790.3 463.9l10.0 10.0M790.3 473.9l10.0 -10.0M795.3 465.2l10.0 10.0M795.3 475.2l10.0 -10.0M792.8 470.2l10.0 10.0M792.8 480.2l10.0 -10.0M794.1 477.7l10.0 10.0M794.1 487.7l10.0 -10.0M795.3 482.8l10.0 10.0M795.3 492.8l10.0 -10.0M797.9 487.8l10.0 10.0M797.9 497.8l10.0 -10.0M792.8 487.8l10.0 10.0M792.8 497.8l10.0 -10.0M799.1 472.7l10.0 10.0M799.1 482.7l10.0 -10.0M812.6 451.3l10.0 10.0M812.6 461.3l10.0 -10.0M802.5 461.4l10.0 10.0M802.5 471.4l10.0 -10.0M811.3 463.9l10.0 10.0M811.3 473.9l10.0 -10.0M813.8 467.7l10.0 10.0M813.8 477.7l10.0 -10.0M808.8 474.0l10.0 10.0M808.8 484.0l10.0 -10.0M801.3 480.3l10.0 10.0M801.3 490.3l10.0 -10.0M801.3 487.8l10.0 10.0M801.3 497.8l10.0 -10.0M816.4 485.3l10.0 10.0M816.4 495.3l10.0 -10.0M817.6 491.6l10.0 10.0M817.6 501.6l10.0 -10.0M820.1 496.6l10.0 10.0M820.1 506.6l10.0 -10.0M825.2 497.9l10.0 10.0M825.2 507.9l10.0 -10.0M828.9 500.4l10.0 10.0M828.9 510.4l10.0 -10.0M822.6 501.6l10.0 10.0M822.6 511.6l10.0 -10.0M830.2 504.2l10.0 10.0M830.2 514.2l10.0 -10.0M818.9 502.9l10.0 10.0M818.9 512.9l10.0 -10.0M734.1 260.5l10.0 10.0M734.1 270.5l10.0 -10.0M735.0 263.7l10.0 10.0M735.0 273.7l10.0 -10.0M734.9 265.1l10.0 10.0M734.9 275.1l10.0 -10.0M735.6 270.1l10.0 10.0M735.6 280.1l10.0 -10.0M736.9 270.4l10.0 10.0M736.9 280.4l10.0 -10.0M736.6 273.9l10.0 10.0M736.6 283.9l10.0 -10.0M529.0 500.7l10.0 10.0M529.0 510.7l10.0 -10.0M531.0 498.9l10.0 10.0M531.0 508.9l10.0 -10.0M533.7 501.2l10.0 10.0M533.7 511.2l10.0 -10.0M535.4 500.4l10.0 10.0M535.4 510.4l10.0 -10.0M538.1 499.3l10.0 10.0M538.1 509.3l10.0 -10.0M539.9 497.7l10.0 10.0M539.9 507.7l10.0 -10.0M541.5 496.5l10.0 10.0M541.5 506.5l10.0 -10.0M543.8 499.5l10.0 10.0M543.8 509.5l10.0 -10.0M546.2 496.5l10.0 10.0M546.2 506.5l10.0 -10.0M548.2 499.8l10.0 10.0M548.2 509.8l10.0 -10.0M551.6 498.9l10.0 10.0M551.6 508.9l10.0 -10.0M814.7 482.7l10.0 10.0M814.7 492.7l10.0 -10.0M816.3 485.5l10.0 10.0M816.3 495.5l10.0 -10.0M817.8 487.2l10.0 10.0M817.8 497.2l10.0 -10.0M819.6 491.5l10.0 10.0M819.6 501.5l10.0 -10.0M822.3 491.1l10.0 10.0M822.3 501.1l10.0 -10.0M822.8 495.0l10.0 10.0M822.8 505.0l10.0 -10.0M824.5 493.6l10.0 10.0M824.5 503.6l10.0 -10.0M825.7 495.5l10.0 10.0M825.7 505.5l10.0 -10.0M828.1 497.8l10.0 10.0M828.1 507.8l10.0 -10.0M829.3 499.6l10.0 10.0M829.3 509.6l10.0 -10.0M830.6 500.1l10.0 10.0M830.6 510.1l10.0 -10.0M832.4 502.5l10.0 10.0M832.4 512.5l10.0 -10.0M788.2 457.1l10.0 10.0M788.2 467.1l10.0 -10.0M791.0 458.9l10.0 10.0M791.0 468.9l10.0 -10.0M793.8 461.2l10.0 10.0M793.8 471.2l10.0 -10.0M796.5 462.4l10.0 10.0M796.5 472.4l10.0 -10.0M798.7 464.3l10.0 10.0M798.7 474.3l10.0 -10.0M800.5 461.5l10.0 10.0M800.5 471.5l10.0 -10.0M803.9 460.9l10.0 10.0M803.9 470.9l10.0 -10.0M805.7 464.4l10.0 10.0M805.7 474.4l10.0 -10.0M806.8 466.0l10.0 10.0M806.8 476.0l10.0 -10.0M810.7 465.3l10.0 10.0M810.7 475.3l10.0 -10.0M812.8 466.9l10.0 10.0M812.8 476.9l10.0 -10.0M814.0 465.6l10.0 10.0M814.0 475.6l10.0 -10.0M817.0 468.0l10.0 10.0M817.0 478.0l10.0 -10.0M793.4 478.3l10.0 10.0M793.4 488.3l10.0 -10.0M794.4 480.7l10.0 10.0M794.4 490.7l10.0 -10.0M795.9 482.1l10.0 10.0M795.9 492.1l10.0 -10.0M796.7 481.6l10.0 10.0M796.7 491.6l10.0 -10.0M797.9 485.1l10.0 10.0M797.9 495.1l10.0 -10.0M799.2 489.2l10.0 10.0M799.2 499.2l10.0 -10.0M801.1 490.5l10.0 10.0M801.1 500.5l10.0 -10.0" stroke="#56b4e9" stroke-width="1.05" fill="none"/><path d="M91.2 502.9a2.7 2.7 0 1 0 5.4 0a2.7 2.7 0 1 0 -5.4 0M92.2 504.0a2.7 2.7 0 1 0 5.4 0a2.7 2.7 0 1 0 -5.4 0M93.3 502.9a2.7 2.7 0 1 0 5.4 0a2.7 2.7 0 1 0 -5.4 0M94.3 503.6a2.7 2.7 0 1 0 5.4 0a2.7 2.7 0 1 0 -5.4 0M95.3 504.3a2.7 2.7 0 1 0 5.4 0a2.7 2.7 0 1 0 -5.4 0M96.3 502.2a2.7 2.7 0 1 0 5.4 0a2.7 2.7 0 1 0 -5.4 0M97.4 502.9a2.7 2.7 0 1 0 5.4 0a2.7 2.7 0 1 0 -5.4 0M98.4 502.9a2.7 2.7 0 1 0 5.4 0a2.7 2.7 0 1 0 -5.4 0M99.4 504.0a2.7 2.7 0 1 0 5.4 0a2.7 2.7 0 1 0 -5.4 0M100.4 504.3a2.7 2.7 0 1 0 5.4 0a2.7 2.7 0 1 0 -5.4 0M101.5 504.3a2.7 2.7 0 1 0 5.4 0a2.7 2.7 0 1 0 -5.4 0M102.5 504.3a2.7 2.7 0 1 0 5.4 0a2.7 2.7 0 1 0 -5.4 0M103.5 502.2a2.7 2.7 0 1 0 5.4 0a2.7 2.7 0 1 0 -5.4 0M104.6 504.0a2.7 2.7 0 1 0 5.4 0a2.7 2.7 0 1 0 -5.4 0M105.6 502.9a2.7 2.7 0 1 0 5.4 0a2.7 2.7 0 1 0 -5.4 0M106.6 504.3a2.7 2.7 0 1 0 5.4 0a2.7 2.7 0 1 0 -5.4 0M107.6 502.9a2.7 2.7 0 1 0 5.4 0a2.7 2.7 0 1 0 -5.4 0M108.7 503.6a2.7 2.7 0 1 0 5.4 0a2.7 2.7 0 1 0 -5.4 0M109.7 504.0a2.7 2.7 0 1 0 5.4 0a2.7 2.7 0 1 0 -5.4 0M110.7 504.3a2.7 2.7 0 1 0 5.4 0a2.7 2.7 0 1 0 -5.4 0M111.8 502.2a2.7 2.7 0 1 0 5.4 0a2.7 2.7 0 1 0 -5.4 0M112.8 504.0a2.7 2.7 0 1 0 5.4 0a2.7 2.7 0 1 0 -5.4 0M113.8 502.2a2.7 2.7 0 1 0 5.4 0a2.7 2.7 0 1 0 -5.4 0M114.8 502.2a2.7 2.7 0 1 0 5.4 0a2.7 2.7 0 1 0 -5.4 0M115.9 503.6a2.7 2.7 0 1 0 5.4 0a2.7 2.7 0 1 0 -5.4 0M116.9 502.2a2.7 2.7 0 1 0 5.4 0a2.7 2.7 0 1 0 -5.4 0M117.9 504.0a2.7 2.7 0 1 0 5.4 0a2.7 2.7 0 1 0 -5.4 0M118.9 503.6a2.7 2.7 0 1 0 5.4 0a2.7 2.7 0 1 0 -5.4 0M120.0 502.9a2.7 2.7 0 1 0 5.4 0a2.7 2.7 0 1 0 -5.4 0M121.0 504.3a2.7 2.7 0 1 0 5.4 0a2.7 2.7 0 1 0 -5.4 0M122.0 503.6a2.7 2.7 0 1 0 5.4 0a2.7 2.7 0 1 0 -5.4 0M123.1 504.0a2.7 2.7 0 1 0 5.4 0a2.7 2.7 0 1 0 -5.4 0M124.1 502.2a2.7 2.7 0 1 0 5.4 0a2.7 2.7 0 1 0 -5.4 0M125.1 504.3a2.7 2.7 0 1 0 5.4 0a2.7 2.7 0 1 0 -5.4 0M126.1 503.6a2.7 2.7 0 1 0 5.4 0a2.7 2.7 0 1 0 -5.4 0M127.2 504.0a2.7 2.7 0 1 0 5.4 0a2.7 2.7 0 1 0 -5.4 0M128.2 503.6a2.7 2.7 0 1 0 5.4 0a2.7 2.7 0 1 0 -5.4 0M129.2 503.6a2.7 2.7 0 1 0 5.4 0a2.7 2.7 0 1 0 -5.4 0M130.2 504.3a2.7 2.7 0 1 0 5.4 0a2.7 2.7 0 1 0 -5.4 0M131.3 504.0a2.7 2.7 0 1 0 5.4 0a2.7 2.7 0 1 0 -5.4 0M132.3 502.2a2.7 2.7 0 1 0 5.4 0a2.7 2.7 0 1 0 -5.4 0M133.3 504.3a2.7 2.7 0 1 0 5.4 0a2.7 2.7 0 1 0 -5.4 0M134.4 504.0a2.7 2.7 0 1 0 5.4 0a2.7 2.7 0 1 0 -5.4 0M135.4 502.2a2.7 2.7 0 1 0 5.4 0a2.7 2.7 0 1 0 -5.4 0M136.4 502.2a2.7 2.7 0 1 0 5.4 0a2.7 2.7 0 1 0 -5.4 0M137.4 502.9a2.7 2.7 0 1 0 5.4 0a2.7 2.7 0 1 0 -5.4 0M138.5 502.9a2.7 2.7 0 1 0 5.4 0a2.7 2.7 0 1 0 -5.4 0M139.5 504.0a2.7 2.7 0 1 0 5.4 0a2.7 2.7 0 1 0 -5.4 0M140.5 504.3a2.7 2.7 0 1 0 5.4 0a2.7 2.7 0 1 0 -5.4 0M141.5 502.9a2.7 2.7 0 1 0 5.4 0a2.7 2.7 0 1 0 -5.4 0M142.6 504.3a2.7 2.7 0 1 0 5.4 0a2.7 2.7 0 1 0 -5.4 0M143.6 502.2a2.7 2.7 0 1 0 5.4 0a2.7 2.7 0 1 0 -5.4 0M144.6 504.3a2.7 2.7 0 1 0 5.4 0a2.7 2.7 0 1 0 -5.4 0M145.7 502.2a2.7 2.7 0 1 0 5.4 0a2.7 2.7 0 1 0 -5.4 0M146.7 502.9a2.7 2.7 0 1 0 5.4 0a2.7 2.7 0 1 0 -5.4 0M147.7 502.2a2.7 2.7 0 1 0 5.4 0a2.7 2.7 0 1 0 -5.4 0M148.7 502.9a2.7 2.7 0 1 0 5.4 0a2.7 2.7 0 1 0 -5.4 0M149.8 503.6a2.7 2.7 0 1 0 5.4 0a2.7 2.7 0 1 0 -5.4 0M150.8 503.6a2.7 2.7 0 1 0 5.4 0a2.7 2.7 0 1 0 -5.4 0M151.8 502.9a2.7 2.7 0 1 0 5.4 0a2.7 2.7 0 1 0 -5.4 0M152.9 502.2a2.7 2.7 0 1 0 5.4 0a2.7 2.7 0 1 0 -5.4 0M153.9 504.3a2.7 2.7 0 1 0 5.4 0a2.7 2.7 0 1 0 -5.4 0M154.9 502.2a2.7 2.7 0 1 0 5.4 0a2.7 2.7 0 1 0 -5.4 0M155.9 503.6a2.7 2.7 0 1 0 5.4 0a2.7 2.7 0 1 0 -5.4 0M157.0 504.0a2.7 2.7 0 1 0 5.4 0a2.7 2.7 0 1 0 -5.4 0M158.0 502.9a2.7 2.7 0 1 0 5.4 0a2.7 2.7 0 1 0 -5.4 0M159.0 503.6a2.7 2.7 0 1 0 5.4 0a2.7 2.7 0 1 0 -5.4 0M160.0 504.0a2.7 2.7 0 1 0 5.4 0a2.7 2.7 0 1 0 -5.4 0M161.1 502.2a2.7 2.7 0 1 0 5.4 0a2.7 2.7 0 1 0 -5.4 0M162.1 502.2a2.7 2.7 0 1 0 5.4 0a2.7 2.7 0 1 0 -5.4 0M163.1 503.6a2.7 2.7 0 1 0 5.4 0a2.7 2.7 0 1 0 -5.4 0M164.2 504.3a2.7 2.7 0 1 0 5.4 0a2.7 2.7 0 1 0 -5.4 0M165.2 504.3a2.7 2.7 0 1 0 5.4 0a2.7 2.7 0 1 0 -5.4 0M166.2 504.3a2.7 2.7 0 1 0 5.4 0a2.7 2.7 0 1 0 -5.4 0M167.2 504.3a2.7 2.7 0 1 0 5.4 0a2.7 2.7 0 1 0 -5.4 0M168.3 504.3a2.7 2.7 0 1 0 5.4 0a2.7 2.7 0 1 0 -5.4 0M169.3 504.3a2.7 2.7 0 1 0 5.4 0a2.7 2.7 0 1 0 -5.4 0M170.3 502.2a2.7 2.7 0 1 0 5.4 0a2.7 2.7 0 1 0 -5.4 0M171.3 502.9a2.7 2.7 0 1 0 5.4 0a2.7 2.7 0 1 0 -5.4 0M172.4 504.3a2.7 2.7 0 1 0 5.4 0a2.7 2.7 0 1 0 -5.4 0M173.4 503.6a2.7 2.7 0 1 0 5.4 0a2.7 2.7 0 1 0 -5.4 0M174.4 504.3a2.7 2.7 0 1 0 5.4 0a2.7 2.7 0 1 0 -5.4 0M175.5 504.3a2.7 2.7 0 1 0 5.4 0a2.7 2.7 0 1 0 -5.4 0M176.5 502.2a2.7 2.7 0 1 0 5.4 0a2.7 2.7 0 1 0 -5.4 0M177.5 503.6a2.7 2.7 0 1 0 5.4 0a2.7 2.7 0 1 0 -5.4 0M178.5 504.0a2.7 2.7 0 1 0 5.4 0a2.7 2.7 0 1 0 -5.4 0M179.6 502.9a2.7 2.7 0 1 0 5.4 0a2.7 2.7 0 1 0 -5.4 0M180.6 504.0a2.7 2.7 0 1 0 5.4 0a2.7 2.7 0 1 0 -5.4 0M181.6 504.0a2.7 2.7 0 1 0 5.4 0a2.7 2.7 0 1 0 -5.4 0M182.6 503.6a2.7 2.7 0 1 0 5.4 0a2.7 2.7 0 1 0 -5.4 0M183.7 502.2a2.7 2.7 0 1 0 5.4 0a2.7 2.7 0 1 0 -5.4 0M184.7 504.3a2.7 2.7 0 1 0 5.4 0a2.7 2.7 0 1 0 -5.4 0M185.7 502.2a2.7 2.7 0 1 0 5.4 0a2.7 2.7 0 1 0 -5.4 0M186.8 504.3a2.7 2.7 0 1 0 5.4 0a2.7 2.7 0 1 0 -5.4 0M187.8 504.0a2.7 2.7 0 1 0 5.4 0a2.7 2.7 0 1 0 -5.4 0M188.8 504.0a2.7 2.7 0 1 0 5.4 0a2.7 2.7 0 1 0 -5.4 0M189.8 503.6a2.7 2.7 0 1 0 5.4 0a2.7 2.7 0 1 0 -5.4 0M190.9 502.2a2.7 2.7 0 1 0 5.4 0a2.7 2.7 0 1 0 -5.4 0M191.9 504.3a2.7 2.7 0 1 0 5.4 0a2.7 2.7 0 1 0 -5.4 0M192.9 502.2a2.7 2.7 0 1 0 5.4 0a2.7 2.7 0 1 0 -5.4 0M194.0 504.0a2.7 2.7 0 1 0 5.4 0a2.7 2.7 0 1 0 -5.4 0M195.0 504.3a2.7 2.7 0 1 0 5.4 0a2.7 2.7 0 1 0 -5.4 0M196.0 504.3a2.7 2.7 0 1 0 5.4 0a2.7 2.7 0 1 0 -5.4 0M197.0 502.2a2.7 2.7 0 1 0 5.4 0a2.7 2.7 0 1 0 -5.4 0M198.1 502.9a2.7 2.7 0 1 0 5.4 0a2.7 2.7 0 1 0 -5.4 0M199.1 502.9a2.7 2.7 0 1 0 5.4 0a2.7 2.7 0 1 0 -5.4 0M200.1 502.2a2.7 2.7 0 1 0 5.4 0a2.7 2.7 0 1 0 -5.4 0M201.1 504.0a2.7 2.7 0 1 0 5.4 0a2.7 2.7 0 1 0 -5.4 0M202.2 503.6a2.7 2.7 0 1 0 5.4 0a2.7 2.7 0 1 0 -5.4 0M203.2 504.3a2.7 2.7 0 1 0 5.4 0a2.7 2.7 0 1 0 -5.4 0M204.2 503.6a2.7 2.7 0 1 0 5.4 0a2.7 2.7 0 1 0 -5.4 0M205.3 504.0a2.7 2.7 0 1 0 5.4 0a2.7 2.7 0 1 0 -5.4 0M206.3 504.0a2.7 2.7 0 1 0 5.4 0a2.7 2.7 0 1 0 -5.4 0M207.3 503.6a2.7 2.7 0 1 0 5.4 0a2.7 2.7 0 1 0 -5.4 0M208.3 504.3a2.7 2.7 0 1 0 5.4 0a2.7 2.7 0 1 0 -5.4 0M209.4 504.0a2.7 2.7 0 1 0 5.4 0a2.7 2.7 0 1 0 -5.4 0M210.4 503.6a2.7 2.7 0 1 0 5.4 0a2.7 2.7 0 1 0 -5.4 0M211.4 502.9a2.7 2.7 0 1 0 5.4 0a2.7 2.7 0 1 0 -5.4 0M212.4 502.2a2.7 2.7 0 1 0 5.4 0a2.7 2.7 0 1 0 -5.4 0M213.5 502.9a2.7 2.7 0 1 0 5.4 0a2.7 2.7 0 1 0 -5.4 0M214.5 504.3a2.7 2.7 0 1 0 5.4 0a2.7 2.7 0 1 0 -5.4 0M215.5 503.6a2.7 2.7 0 1 0 5.4 0a2.7 2.7 0 1 0 -5.4 0M216.6 504.3a2.7 2.7 0 1 0 5.4 0a2.7 2.7 0 1 0 -5.4 0M217.6 504.3a2.7 2.7 0 1 0 5.4 0a2.7 2.7 0 1 0 -5.4 0M218.6 504.0a2.7 2.7 0 1 0 5.4 0a2.7 2.7 0 1 0 -5.4 0M219.6 504.3a2.7 2.7 0 1 0 5.4 0a2.7 2.7 0 1 0 -5.4 0M220.7 502.9a2.7 2.7 0 1 0 5.4 0a2.7 2.7 0 1 0 -5.4 0M221.7 503.6a2.7 2.7 0 1 0 5.4 0a2.7 2.7 0 1 0 -5.4 0M222.7 504.0a2.7 2.7 0 1 0 5.4 0a2.7 2.7 0 1 0 -5.4 0M223.7 504.3a2.7 2.7 0 1 0 5.4 0a2.7 2.7 0 1 0 -5.4 0M224.8 502.2a2.7 2.7 0 1 0 5.4 0a2.7 2.7 0 1 0 -5.4 0M225.8 502.2a2.7 2.7 0 1 0 5.4 0a2.7 2.7 0 1 0 -5.4 0M226.8 504.0a2.7 2.7 0 1 0 5.4 0a2.7 2.7 0 1 0 -5.4 0M227.9 504.0a2.7 2.7 0 1 0 5.4 0a2.7 2.7 0 1 0 -5.4 0M228.9 503.6a2.7 2.7 0 1 0 5.4 0a2.7 2.7 0 1 0 -5.4 0M229.9 504.0a2.7 2.7 0 1 0 5.4 0a2.7 2.7 0 1 0 -5.4 0M230.9 504.3a2.7 2.7 0 1 0 5.4 0a2.7 2.7 0 1 0 -5.4 0M232.0 504.0a2.7 2.7 0 1 0 5.4 0a2.7 2.7 0 1 0 -5.4 0M233.0 504.3a2.7 2.7 0 1 0 5.4 0a2.7 2.7 0 1 0 -5.4 0M234.0 503.6a2.7 2.7 0 1 0 5.4 0a2.7 2.7 0 1 0 -5.4 0M235.1 503.6a2.7 2.7 0 1 0 5.4 0a2.7 2.7 0 1 0 -5.4 0M236.1 503.6a2.7 2.7 0 1 0 5.4 0a2.7 2.7 0 1 0 -5.4 0M237.1 502.9a2.7 2.7 0 1 0 5.4 0a2.7 2.7 0 1 0 -5.4 0M238.1 502.9a2.7 2.7 0 1 0 5.4 0a2.7 2.7 0 1 0 -5.4 0M239.2 502.9a2.7 2.7 0 1 0 5.4 0a2.7 2.7 0 1 0 -5.4 0M240.2 502.2a2.7 2.7 0 1 0 5.4 0a2.7 2.7 0 1 0 -5.4 0M241.2 502.2a2.7 2.7 0 1 0 5.4 0a2.7 2.7 0 1 0 -5.4 0M242.2 502.2a2.7 2.7 0 1 0 5.4 0a2.7 2.7 0 1 0 -5.4 0M243.3 503.6a2.7 2.7 0 1 0 5.4 0a2.7 2.7 0 1 0 -5.4 0M244.3 502.2a2.7 2.7 0 1 0 5.4 0a2.7 2.7 0 1 0 -5.4 0M245.3 502.9a2.7 2.7 0 1 0 5.4 0a2.7 2.7 0 1 0 -5.4 0M246.4 502.2a2.7 2.7 0 1 0 5.4 0a2.7 2.7 0 1 0 -5.4 0M247.4 504.3a2.7 2.7 0 1 0 5.4 0a2.7 2.7 0 1 0 -5.4 0M248.4 503.6a2.7 2.7 0 1 0 5.4 0a2.7 2.7 0 1 0 -5.4 0M249.4 504.0a2.7 2.7 0 1 0 5.4 0a2.7 2.7 0 1 0 -5.4 0M250.5 504.0a2.7 2.7 0 1 0 5.4 0a2.7 2.7 0 1 0 -5.4 0M251.5 503.6a2.7 2.7 0 1 0 5.4 0a2.7 2.7 0 1 0 -5.4 0M252.5 502.2a2.7 2.7 0 1 0 5.4 0a2.7 2.7 0 1 0 -5.4 0M253.5 502.9a2.7 2.7 0 1 0 5.4 0a2.7 2.7 0 1 0 -5.4 0M254.6 502.2a2.7 2.7 0 1 0 5.4 0a2.7 2.7 0 1 0 -5.4 0M255.6 503.6a2.7 2.7 0 1 0 5.4 0a2.7 2.7 0 1 0 -5.4 0M256.6 502.2a2.7 2.7 0 1 0 5.4 0a2.7 2.7 0 1 0 -5.4 0M257.7 502.9a2.7 2.7 0 1 0 5.4 0a2.7 2.7 0 1 0 -5.4 0M258.7 504.0a2.7 2.7 0 1 0 5.4 0a2.7 2.7 0 1 0 -5.4 0M259.7 503.6a2.7 2.7 0 1 0 5.4 0a2.7 2.7 0 1 0 -5.4 0M260.7 502.2a2.7 2.7 0 1 0 5.4 0a2.7 2.7 0 1 0 -5.4 0M261.8 504.3a2.7 2.7 0 1 0 5.4 0a2.7 2.7 0 1 0 -5.4 0M262.8 502.2a2.7 2.7 0 1 0 5.4 0a2.7 2.7 0 1 0 -5.4 0M263.8 502.9a2.7 2.7 0 1 0 5.4 0a2.7 2.7 0 1 0 -5.4 0M264.8 503.6a2.7 2.7 0 1 0 5.4 0a2.7 2.7 0 1 0 -5.4 0M265.9 503.6a2.7 2.7 0 1 0 5.4 0a2.7 2.7 0 1 0 -5.4 0M266.9 504.3a2.7 2.7 0 1 0 5.4 0a2.7 2.7 0 1 0 -5.4 0M267.9 502.9a2.7 2.7 0 1 0 5.4 0a2.7 2.7 0 1 0 -5.4 0M269.0 504.0a2.7 2.7 0 1 0 5.4 0a2.7 2.7 0 1 0 -5.4 0M270.0 504.0a2.7 2.7 0 1 0 5.4 0a2.7 2.7 0 1 0 -5.4 0M271.0 504.0a2.7 2.7 0 1 0 5.4 0a2.7 2.7 0 1 0 -5.4 0M272.0 504.0a2.7 2.7 0 1 0 5.4 0a2.7 2.7 0 1 0 -5.4 0M273.1 502.9a2.7 2.7 0 1 0 5.4 0a2.7 2.7 0 1 0 -5.4 0M274.1 504.0a2.7 2.7 0 1 0 5.4 0a2.7 2.7 0 1 0 -5.4 0M275.1 504.0a2.7 2.7 0 1 0 5.4 0a2.7 2.7 0 1 0 -5.4 0M276.2 504.0a2.7 2.7 0 1 0 5.4 0a2.7 2.7 0 1 0 -5.4 0M277.2 504.0a2.7 2.7 0 1 0 5.4 0a2.7 2.7 0 1 0 -5.4 0M278.2 502.2a2.7 2.7 0 1 0 5.4 0a2.7 2.7 0 1 0 -5.4 0M279.2 504.3a2.7 2.7 0 1 0 5.4 0a2.7 2.7 0 1 0 -5.4 0M280.3 502.9a2.7 2.7 0 1 0 5.4 0a2.7 2.7 0 1 0 -5.4 0M281.3 504.0a2.7 2.7 0 1 0 5.4 0a2.7 2.7 0 1 0 -5.4 0M282.3 502.9a2.7 2.7 0 1 0 5.4 0a2.7 2.7 0 1 0 -5.4 0M283.3 503.6a2.7 2.7 0 1 0 5.4 0a2.7 2.7 0 1 0 -5.4 0M284.4 504.0a2.7 2.7 0 1 0 5.4 0a2.7 2.7 0 1 0 -5.4 0M285.4 504.3a2.7 2.7 0 1 0 5.4 0a2.7 2.7 0 1 0 -5.4 0M286.4 502.9a2.7 2.7 0 1 0 5.4 0a2.7 2.7 0 1 0 -5.4 0M287.5 504.0a2.7 2.7 0 1 0 5.4 0a2.7 2.7 0 1 0 -5.4 0M288.5 504.3a2.7 2.7 0 1 0 5.4 0a2.7 2.7 0 1 0 -5.4 0M289.5 502.2a2.7 2.7 0 1 0 5.4 0a2.7 2.7 0 1 0 -5.4 0M290.5 504.3a2.7 2.7 0 1 0 5.4 0a2.7 2.7 0 1 0 -5.4 0M291.6 504.3a2.7 2.7 0 1 0 5.4 0a2.7 2.7 0 1 0 -5.4 0M292.6 504.3a2.7 2.7 0 1 0 5.4 0a2.7 2.7 0 1 0 -5.4 0M293.6 504.0a2.7 2.7 0 1 0 5.4 0a2.7 2.7 0 1 0 -5.4 0M294.6 503.6a2.7 2.7 0 1 0 5.4 0a2.7 2.7 0 1 0 -5.4 0M295.7 502.9a2.7 2.7 0 1 0 5.4 0a2.7 2.7 0 1 0 -5.4 0M296.7 504.0a2.7 2.7 0 1 0 5.4 0a2.7 2.7 0 1 0 -5.4 0M297.7 502.2a2.7 2.7 0 1 0 5.4 0a2.7 2.7 0 1 0 -5.4 0M298.8 502.2a2.7 2.7 0 1 0 5.4 0a2.7 2.7 0 1 0 -5.4 0M299.8 502.2a2.7 2.7 0 1 0 5.4 0a2.7 2.7 0 1 0 -5.4 0M300.8 502.2a2.7 2.7 0 1 0 5.4 0a2.7 2.7 0 1 0 -5.4 0M301.8 503.6a2.7 2.7 0 1 0 5.4 0a2.7 2.7 0 1 0 -5.4 0M302.9 504.3a2.7 2.7 0 1 0 5.4 0a2.7 2.7 0 1 0 -5.4 0M303.9 504.3a2.7 2.7 0 1 0 5.4 0a2.7 2.7 0 1 0 -5.4 0M304.9 502.2a2.7 2.7 0 1 0 5.4 0a2.7 2.7 0 1 0 -5.4 0M305.9 503.6a2.7 2.7 0 1 0 5.4 0a2.7 2.7 0 1 0 -5.4 0M307.0 504.0a2.7 2.7 0 1 0 5.4 0a2.7 2.7 0 1 0 -5.4 0M308.0 502.2a2.7 2.7 0 1 0 5.4 0a2.7 2.7 0 1 0 -5.4 0M309.0 504.3a2.7 2.7 0 1 0 5.4 0a2.7 2.7 0 1 0 -5.4 0M310.1 503.6a2.7 2.7 0 1 0 5.4 0a2.7 2.7 0 1 0 -5.4 0M311.1 502.9a2.7 2.7 0 1 0 5.4 0a2.7 2.7 0 1 0 -5.4 0M312.1 503.6a2.7 2.7 0 1 0 5.4 0a2.7 2.7 0 1 0 -5.4 0M313.1 504.0a2.7 2.7 0 1 0 5.4 0a2.7 2.7 0 1 0 -5.4 0M314.2 502.9a2.7 2.7 0 1 0 5.4 0a2.7 2.7 0 1 0 -5.4 0M315.2 502.9a2.7 2.7 0 1 0 5.4 0a2.7 2.7 0 1 0 -5.4 0M316.2 502.2a2.7 2.7 0 1 0 5.4 0a2.7 2.7 0 1 0 -5.4 0M317.3 503.6a2.7 2.7 0 1 0 5.4 0a2.7 2.7 0 1 0 -5.4 0M318.3 502.2a2.7 2.7 0 1 0 5.4 0a2.7 2.7 0 1 0 -5.4 0M319.3 502.2a2.7 2.7 0 1 0 5.4 0a2.7 2.7 0 1 0 -5.4 0M320.3 502.2a2.7 2.7 0 1 0 5.4 0a2.7 2.7 0 1 0 -5.4 0M321.4 503.6a2.7 2.7 0 1 0 5.4 0a2.7 2.7 0 1 0 -5.4 0M322.4 504.3a2.7 2.7 0 1 0 5.4 0a2.7 2.7 0 1 0 -5.4 0M323.4 503.6a2.7 2.7 0 1 0 5.4 0a2.7 2.7 0 1 0 -5.4 0M324.4 503.6a2.7 2.7 0 1 0 5.4 0a2.7 2.7 0 1 0 -5.4 0M325.5 502.9a2.7 2.7 0 1 0 5.4 0a2.7 2.7 0 1 0 -5.4 0M326.5 502.2a2.7 2.7 0 1 0 5.4 0a2.7 2.7 0 1 0 -5.4 0M327.5 502.2a2.7 2.7 0 1 0 5.4 0a2.7 2.7 0 1 0 -5.4 0M328.6 502.2a2.7 2.7 0 1 0 5.4 0a2.7 2.7 0 1 0 -5.4 0M329.6 503.6a2.7 2.7 0 1 0 5.4 0a2.7 2.7 0 1 0 -5.4 0M330.6 503.6a2.7 2.7 0 1 0 5.4 0a2.7 2.7 0 1 0 -5.4 0M331.6 503.6a2.7 2.7 0 1 0 5.4 0a2.7 2.7 0 1 0 -5.4 0M332.7 504.0a2.7 2.7 0 1 0 5.4 0a2.7 2.7 0 1 0 -5.4 0M333.7 502.2a2.7 2.7 0 1 0 5.4 0a2.7 2.7 0 1 0 -5.4 0M334.7 504.3a2.7 2.7 0 1 0 5.4 0a2.7 2.7 0 1 0 -5.4 0M335.7 504.3a2.7 2.7 0 1 0 5.4 0a2.7 2.7 0 1 0 -5.4 0M336.8 504.0a2.7 2.7 0 1 0 5.4 0a2.7 2.7 0 1 0 -5.4 0M337.8 503.6a2.7 2.7 0 1 0 5.4 0a2.7 2.7 0 1 0 -5.4 0M338.8 503.6a2.7 2.7 0 1 0 5.4 0a2.7 2.7 0 1 0 -5.4 0M339.9 504.0a2.7 2.7 0 1 0 5.4 0a2.7 2.7 0 1 0 -5.4 0M340.9 504.0a2.7 2.7 0 1 0 5.4 0a2.7 2.7 0 1 0 -5.4 0M341.9 503.6a2.7 2.7 0 1 0 5.4 0a2.7 2.7 0 1 0 -5.4 0M342.9 502.9a2.7 2.7 0 1 0 5.4 0a2.7 2.7 0 1 0 -5.4 0M344.0 502.2a2.7 2.7 0 1 0 5.4 0a2.7 2.7 0 1 0 -5.4 0M345.0 502.9a2.7 2.7 0 1 0 5.4 0a2.7 2.7 0 1 0 -5.4 0M346.0 504.3a2.7 2.7 0 1 0 5.4 0a2.7 2.7 0 1 0 -5.4 0M347.0 503.6a2.7 2.7 0 1 0 5.4 0a2.7 2.7 0 1 0 -5.4 0M348.1 502.2a2.7 2.7 0 1 0 5.4 0a2.7 2.7 0 1 0 -5.4 0M349.1 502.2a2.7 2.7 0 1 0 5.4 0a2.7 2.7 0 1 0 -5.4 0M350.1 502.9a2.7 2.7 0 1 0 5.4 0a2.7 2.7 0 1 0 -5.4 0M351.2 504.0a2.7 2.7 0 1 0 5.4 0a2.7 2.7 0 1 0 -5.4 0M352.2 502.2a2.7 2.7 0 1 0 5.4 0a2.7 2.7 0 1 0 -5.4 0M353.2 504.3a2.7 2.7 0 1 0 5.4 0a2.7 2.7 0 1 0 -5.4 0M354.2 502.9a2.7 2.7 0 1 0 5.4 0a2.7 2.7 0 1 0 -5.4 0M355.3 503.6a2.7 2.7 0 1 0 5.4 0a2.7 2.7 0 1 0 -5.4 0M356.3 502.9a2.7 2.7 0 1 0 5.4 0a2.7 2.7 0 1 0 -5.4 0M357.3 504.0a2.7 2.7 0 1 0 5.4 0a2.7 2.7 0 1 0 -5.4 0M358.3 503.6a2.7 2.7 0 1 0 5.4 0a2.7 2.7 0 1 0 -5.4 0M359.4 503.6a2.7 2.7 0 1 0 5.4 0a2.7 2.7 0 1 0 -5.4 0M360.4 502.2a2.7 2.7 0 1 0 5.4 0a2.7 2.7 0 1 0 -5.4 0M361.4 502.9a2.7 2.7 0 1 0 5.4 0a2.7 2.7 0 1 0 -5.4 0M362.5 502.9a2.7 2.7 0 1 0 5.4 0a2.7 2.7 0 1 0 -5.4 0M363.5 504.3a2.7 2.7 0 1 0 5.4 0a2.7 2.7 0 1 0 -5.4 0M364.5 504.0a2.7 2.7 0 1 0 5.4 0a2.7 2.7 0 1 0 -5.4 0M365.5 502.9a2.7 2.7 0 1 0 5.4 0a2.7 2.7 0 1 0 -5.4 0M366.6 504.0a2.7 2.7 0 1 0 5.4 0a2.7 2.7 0 1 0 -5.4 0M367.6 502.2a2.7 2.7 0 1 0 5.4 0a2.7 2.7 0 1 0 -5.4 0M368.6 502.2a2.7 2.7 0 1 0 5.4 0a2.7 2.7 0 1 0 -5.4 0M369.7 504.3a2.7 2.7 0 1 0 5.4 0a2.7 2.7 0 1 0 -5.4 0M370.7 504.3a2.7 2.7 0 1 0 5.4 0a2.7 2.7 0 1 0 -5.4 0M371.7 504.3a2.7 2.7 0 1 0 5.4 0a2.7 2.7 0 1 0 -5.4 0M372.7 504.3a2.7 2.7 0 1 0 5.4 0a2.7 2.7 0 1 0 -5.4 0M373.8 502.9a2.7 2.7 0 1 0 5.4 0a2.7 2.7 0 1 0 -5.4 0M374.8 502.9a2.7 2.7 0 1 0 5.4 0a2.7 2.7 0 1 0 -5.4 0M375.8 504.0a2.7 2.7 0 1 0 5.4 0a2.7 2.7 0 1 0 -5.4 0M376.8 502.2a2.7 2.7 0 1 0 5.4 0a2.7 2.7 0 1 0 -5.4 0M377.9 502.2a2.7 2.7 0 1 0 5.4 0a2.7 2.7 0 1 0 -5.4 0M378.9 504.3a2.7 2.7 0 1 0 5.4 0a2.7 2.7 0 1 0 -5.4 0M379.9 503.6a2.7 2.7 0 1 0 5.4 0a2.7 2.7 0 1 0 -5.4 0M381.0 504.3a2.7 2.7 0 1 0 5.4 0a2.7 2.7 0 1 0 -5.4 0M382.0 504.0a2.7 2.7 0 1 0 5.4 0a2.7 2.7 0 1 0 -5.4 0M383.0 502.9a2.7 2.7 0 1 0 5.4 0a2.7 2.7 0 1 0 -5.4 0M384.0 504.3a2.7 2.7 0 1 0 5.4 0a2.7 2.7 0 1 0 -5.4 0M385.1 502.9a2.7 2.7 0 1 0 5.4 0a2.7 2.7 0 1 0 -5.4 0M386.1 503.6a2.7 2.7 0 1 0 5.4 0a2.7 2.7 0 1 0 -5.4 0M387.1 502.9a2.7 2.7 0 1 0 5.4 0a2.7 2.7 0 1 0 -5.4 0M388.1 504.0a2.7 2.7 0 1 0 5.4 0a2.7 2.7 0 1 0 -5.4 0M389.2 504.3a2.7 2.7 0 1 0 5.4 0a2.7 2.7 0 1 0 -5.4 0M390.2 504.0a2.7 2.7 0 1 0 5.4 0a2.7 2.7 0 1 0 -5.4 0M391.2 504.3a2.7 2.7 0 1 0 5.4 0a2.7 2.7 0 1 0 -5.4 0M392.3 504.0a2.7 2.7 0 1 0 5.4 0a2.7 2.7 0 1 0 -5.4 0M393.3 504.3a2.7 2.7 0 1 0 5.4 0a2.7 2.7 0 1 0 -5.4 0M394.3 502.2a2.7 2.7 0 1 0 5.4 0a2.7 2.7 0 1 0 -5.4 0M395.3 503.6a2.7 2.7 0 1 0 5.4 0a2.7 2.7 0 1 0 -5.4 0M396.4 503.6a2.7 2.7 0 1 0 5.4 0a2.7 2.7 0 1 0 -5.4 0M397.4 504.0a2.7 2.7 0 1 0 5.4 0a2.7 2.7 0 1 0 -5.4 0M398.4 503.6a2.7 2.7 0 1 0 5.4 0a2.7 2.7 0 1 0 -5.4 0M399.4 504.3a2.7 2.7 0 1 0 5.4 0a2.7 2.7 0 1 0 -5.4 0M400.5 503.6a2.7 2.7 0 1 0 5.4 0a2.7 2.7 0 1 0 -5.4 0M401.5 504.3a2.7 2.7 0 1 0 5.4 0a2.7 2.7 0 1 0 -5.4 0M402.5 504.3a2.7 2.7 0 1 0 5.4 0a2.7 2.7 0 1 0 -5.4 0M403.6 504.3a2.7 2.7 0 1 0 5.4 0a2.7 2.7 0 1 0 -5.4 0M404.6 502.9a2.7 2.7 0 1 0 5.4 0a2.7 2.7 0 1 0 -5.4 0M405.6 504.0a2.7 2.7 0 1 0 5.4 0a2.7 2.7 0 1 0 -5.4 0M406.6 502.2a2.7 2.7 0 1 0 5.4 0a2.7 2.7 0 1 0 -5.4 0M407.7 504.0a2.7 2.7 0 1 0 5.4 0a2.7 2.7 0 1 0 -5.4 0M408.7 502.2a2.7 2.7 0 1 0 5.4 0a2.7 2.7 0 1 0 -5.4 0M409.7 502.9a2.7 2.7 0 1 0 5.4 0a2.7 2.7 0 1 0 -5.4 0M410.8 504.0a2.7 2.7 0 1 0 5.4 0a2.7 2.7 0 1 0 -5.4 0M411.8 502.2a2.7 2.7 0 1 0 5.4 0a2.7 2.7 0 1 0 -5.4 0M412.8 502.9a2.7 2.7 0 1 0 5.4 0a2.7 2.7 0 1 0 -5.4 0M413.8 503.6a2.7 2.7 0 1 0 5.4 0a2.7 2.7 0 1 0 -5.4 0M414.9 502.9a2.7 2.7 0 1 0 5.4 0a2.7 2.7 0 1 0 -5.4 0M415.9 502.2a2.7 2.7 0 1 0 5.4 0a2.7 2.7 0 1 0 -5.4 0M416.9 502.2a2.7 2.7 0 1 0 5.4 0a2.7 2.7 0 1 0 -5.4 0M417.9 502.9a2.7 2.7 0 1 0 5.4 0a2.7 2.7 0 1 0 -5.4 0M419.0 502.2a2.7 2.7 0 1 0 5.4 0a2.7 2.7 0 1 0 -5.4 0M420.0 503.6a2.7 2.7 0 1 0 5.4 0a2.7 2.7 0 1 0 -5.4 0M421.0 502.9a2.7 2.7 0 1 0 5.4 0a2.7 2.7 0 1 0 -5.4 0M422.1 502.2a2.7 2.7 0 1 0 5.4 0a2.7 2.7 0 1 0 -5.4 0M423.1 502.2a2.7 2.7 0 1 0 5.4 0a2.7 2.7 0 1 0 -5.4 0M424.1 504.0a2.7 2.7 0 1 0 5.4 0a2.7 2.7 0 1 0 -5.4 0M425.1 504.3a2.7 2.7 0 1 0 5.4 0a2.7 2.7 0 1 0 -5.4 0M426.2 502.9a2.7 2.7 0 1 0 5.4 0a2.7 2.7 0 1 0 -5.4 0M427.2 502.2a2.7 2.7 0 1 0 5.4 0a2.7 2.7 0 1 0 -5.4 0M428.2 504.3a2.7 2.7 0 1 0 5.4 0a2.7 2.7 0 1 0 -5.4 0M429.2 504.3a2.7 2.7 0 1 0 5.4 0a2.7 2.7 0 1 0 -5.4 0M430.3 502.2a2.7 2.7 0 1 0 5.4 0a2.7 2.7 0 1 0 -5.4 0M431.3 502.2a2.7 2.7 0 1 0 5.4 0a2.7 2.7 0 1 0 -5.4 0M432.3 504.0a2.7 2.7 0 1 0 5.4 0a2.7 2.7 0 1 0 -5.4 0M433.4 503.6a2.7 2.7 0 1 0 5.4 0a2.7 2.7 0 1 0 -5.4 0M434.4 503.6a2.7 2.7 0 1 0 5.4 0a2.7 2.7 0 1 0 -5.4 0M435.4 504.3a2.7 2.7 0 1 0 5.4 0a2.7 2.7 0 1 0 -5.4 0M436.4 503.6a2.7 2.7 0 1 0 5.4 0a2.7 2.7 0 1 0 -5.4 0M437.5 504.0a2.7 2.7 0 1 0 5.4 0a2.7 2.7 0 1 0 -5.4 0M438.5 503.6a2.7 2.7 0 1 0 5.4 0a2.7 2.7 0 1 0 -5.4 0M439.5 502.9a2.7 2.7 0 1 0 5.4 0a2.7 2.7 0 1 0 -5.4 0M440.6 504.3a2.7 2.7 0 1 0 5.4 0a2.7 2.7 0 1 0 -5.4 0M441.6 504.0a2.7 2.7 0 1 0 5.4 0a2.7 2.7 0 1 0 -5.4 0M442.6 503.6a2.7 2.7 0 1 0 5.4 0a2.7 2.7 0 1 0 -5.4 0M443.6 502.9a2.7 2.7 0 1 0 5.4 0a2.7 2.7 0 1 0 -5.4 0M444.7 504.0a2.7 2.7 0 1 0 5.4 0a2.7 2.7 0 1 0 -5.4 0M445.7 502.2a2.7 2.7 0 1 0 5.4 0a2.7 2.7 0 1 0 -5.4 0M446.7 504.0a2.7 2.7 0 1 0 5.4 0a2.7 2.7 0 1 0 -5.4 0M447.7 504.3a2.7 2.7 0 1 0 5.4 0a2.7 2.7 0 1 0 -5.4 0M448.8 502.9a2.7 2.7 0 1 0 5.4 0a2.7 2.7 0 1 0 -5.4 0M449.8 504.0a2.7 2.7 0 1 0 5.4 0a2.7 2.7 0 1 0 -5.4 0M450.8 504.3a2.7 2.7 0 1 0 5.4 0a2.7 2.7 0 1 0 -5.4 0M451.9 504.0a2.7 2.7 0 1 0 5.4 0a2.7 2.7 0 1 0 -5.4 0M452.9 502.2a2.7 2.7 0 1 0 5.4 0a2.7 2.7 0 1 0 -5.4 0M453.9 504.0a2.7 2.7 0 1 0 5.4 0a2.7 2.7 0 1 0 -5.4 0M454.9 504.3a2.7 2.7 0 1 0 5.4 0a2.7 2.7 0 1 0 -5.4 0M456.0 502.2a2.7 2.7 0 1 0 5.4 0a2.7 2.7 0 1 0 -5.4 0M457.0 504.3a2.7 2.7 0 1 0 5.4 0a2.7 2.7 0 1 0 -5.4 0M458.0 502.2a2.7 2.7 0 1 0 5.4 0a2.7 2.7 0 1 0 -5.4 0M459.0 502.9a2.7 2.7 0 1 0 5.4 0a2.7 2.7 0 1 0 -5.4 0M460.1 504.3a2.7 2.7 0 1 0 5.4 0a2.7 2.7 0 1 0 -5.4 0M461.1 502.9a2.7 2.7 0 1 0 5.4 0a2.7 2.7 0 1 0 -5.4 0M462.1 504.3a2.7 2.7 0 1 0 5.4 0a2.7 2.7 0 1 0 -5.4 0M463.2 502.9a2.7 2.7 0 1 0 5.4 0a2.7 2.7 0 1 0 -5.4 0M464.2 503.6a2.7 2.7 0 1 0 5.4 0a2.7 2.7 0 1 0 -5.4 0M465.2 502.9a2.7 2.7 0 1 0 5.4 0a2.7 2.7 0 1 0 -5.4 0M466.2 502.9a2.7 2.7 0 1 0 5.4 0a2.7 2.7 0 1 0 -5.4 0M467.3 503.6a2.7 2.7 0 1 0 5.4 0a2.7 2.7 0 1 0 -5.4 0M468.3 503.6a2.7 2.7 0 1 0 5.4 0a2.7 2.7 0 1 0 -5.4 0M469.3 502.2a2.7 2.7 0 1 0 5.4 0a2.7 2.7 0 1 0 -5.4 0M470.3 504.0a2.7 2.7 0 1 0 5.4 0a2.7 2.7 0 1 0 -5.4 0M471.4 503.6a2.7 2.7 0 1 0 5.4 0a2.7 2.7 0 1 0 -5.4 0M472.4 504.0a2.7 2.7 0 1 0 5.4 0a2.7 2.7 0 1 0 -5.4 0M473.4 502.2a2.7 2.7 0 1 0 5.4 0a2.7 2.7 0 1 0 -5.4 0M474.5 504.0a2.7 2.7 0 1 0 5.4 0a2.7 2.7 0 1 0 -5.4 0M475.5 504.0a2.7 2.7 0 1 0 5.4 0a2.7 2.7 0 1 0 -5.4 0M476.5 504.3a2.7 2.7 0 1 0 5.4 0a2.7 2.7 0 1 0 -5.4 0M477.5 504.0a2.7 2.7 0 1 0 5.4 0a2.7 2.7 0 1 0 -5.4 0M478.6 502.2a2.7 2.7 0 1 0 5.4 0a2.7 2.7 0 1 0 -5.4 0M479.6 504.0a2.7 2.7 0 1 0 5.4 0a2.7 2.7 0 1 0 -5.4 0M480.6 502.9a2.7 2.7 0 1 0 5.4 0a2.7 2.7 0 1 0 -5.4 0M481.7 504.0a2.7 2.7 0 1 0 5.4 0a2.7 2.7 0 1 0 -5.4 0M482.7 502.2a2.7 2.7 0 1 0 5.4 0a2.7 2.7 0 1 0 -5.4 0M483.7 502.9a2.7 2.7 0 1 0 5.4 0a2.7 2.7 0 1 0 -5.4 0M484.7 502.2a2.7 2.7 0 1 0 5.4 0a2.7 2.7 0 1 0 -5.4 0M485.8 504.3a2.7 2.7 0 1 0 5.4 0a2.7 2.7 0 1 0 -5.4 0M486.8 504.0a2.7 2.7 0 1 0 5.4 0a2.7 2.7 0 1 0 -5.4 0M487.8 502.9a2.7 2.7 0 1 0 5.4 0a2.7 2.7 0 1 0 -5.4 0M488.8 502.2a2.7 2.7 0 1 0 5.4 0a2.7 2.7 0 1 0 -5.4 0M489.9 504.0a2.7 2.7 0 1 0 5.4 0a2.7 2.7 0 1 0 -5.4 0M490.9 502.2a2.7 2.7 0 1 0 5.4 0a2.7 2.7 0 1 0 -5.4 0M491.9 504.3a2.7 2.7 0 1 0 5.4 0a2.7 2.7 0 1 0 -5.4 0M493.0 502.2a2.7 2.7 0 1 0 5.4 0a2.7 2.7 0 1 0 -5.4 0M494.0 504.0a2.7 2.7 0 1 0 5.4 0a2.7 2.7 0 1 0 -5.4 0M495.0 502.2a2.7 2.7 0 1 0 5.4 0a2.7 2.7 0 1 0 -5.4 0M496.0 502.9a2.7 2.7 0 1 0 5.4 0a2.7 2.7 0 1 0 -5.4 0M497.1 504.0a2.7 2.7 0 1 0 5.4 0a2.7 2.7 0 1 0 -5.4 0M498.1 504.3a2.7 2.7 0 1 0 5.4 0a2.7 2.7 0 1 0 -5.4 0M499.1 502.2a2.7 2.7 0 1 0 5.4 0a2.7 2.7 0 1 0 -5.4 0M500.1 504.0a2.7 2.7 0 1 0 5.4 0a2.7 2.7 0 1 0 -5.4 0M501.2 502.9a2.7 2.7 0 1 0 5.4 0a2.7 2.7 0 1 0 -5.4 0M502.2 504.0a2.7 2.7 0 1 0 5.4 0a2.7 2.7 0 1 0 -5.4 0M503.2 502.9a2.7 2.7 0 1 0 5.4 0a2.7 2.7 0 1 0 -5.4 0M504.3 502.2a2.7 2.7 0 1 0 5.4 0a2.7 2.7 0 1 0 -5.4 0M505.3 504.3a2.7 2.7 0 1 0 5.4 0a2.7 2.7 0 1 0 -5.4 0M506.3 504.0a2.7 2.7 0 1 0 5.4 0a2.7 2.7 0 1 0 -5.4 0M507.3 502.9a2.7 2.7 0 1 0 5.4 0a2.7 2.7 0 1 0 -5.4 0M508.4 502.2a2.7 2.7 0 1 0 5.4 0a2.7 2.7 0 1 0 -5.4 0M509.4 502.2a2.7 2.7 0 1 0 5.4 0a2.7 2.7 0 1 0 -5.4 0M510.4 503.6a2.7 2.7 0 1 0 5.4 0a2.7 2.7 0 1 0 -5.4 0M511.4 502.9a2.7 2.7 0 1 0 5.4 0a2.7 2.7 0 1 0 -5.4 0M512.5 503.6a2.7 2.7 0 1 0 5.4 0a2.7 2.7 0 1 0 -5.4 0M513.5 502.2a2.7 2.7 0 1 0 5.4 0a2.7 2.7 0 1 0 -5.4 0M514.5 502.2a2.7 2.7 0 1 0 5.4 0a2.7 2.7 0 1 0 -5.4 0M515.6 502.2a2.7 2.7 0 1 0 5.4 0a2.7 2.7 0 1 0 -5.4 0M516.6 503.6a2.7 2.7 0 1 0 5.4 0a2.7 2.7 0 1 0 -5.4 0M517.6 502.2a2.7 2.7 0 1 0 5.4 0a2.7 2.7 0 1 0 -5.4 0M518.6 502.2a2.7 2.7 0 1 0 5.4 0a2.7 2.7 0 1 0 -5.4 0M519.7 502.2a2.7 2.7 0 1 0 5.4 0a2.7 2.7 0 1 0 -5.4 0M520.7 503.6a2.7 2.7 0 1 0 5.4 0a2.7 2.7 0 1 0 -5.4 0M521.7 504.3a2.7 2.7 0 1 0 5.4 0a2.7 2.7 0 1 0 -5.4 0M522.8 503.6a2.7 2.7 0 1 0 5.4 0a2.7 2.7 0 1 0 -5.4 0M523.8 504.3a2.7 2.7 0 1 0 5.4 0a2.7 2.7 0 1 0 -5.4 0M524.8 503.6a2.7 2.7 0 1 0 5.4 0a2.7 2.7 0 1 0 -5.4 0M525.8 502.2a2.7 2.7 0 1 0 5.4 0a2.7 2.7 0 1 0 -5.4 0M526.9 504.0a2.7 2.7 0 1 0 5.4 0a2.7 2.7 0 1 0 -5.4 0M609.3 243.7a2.7 2.7 0 1 0 5.4 0a2.7 2.7 0 1 0 -5.4 0M624.5 293.6a2.7 2.7 0 1 0 5.4 0a2.7 2.7 0 1 0 -5.4 0M608.1 324.0a2.7 2.7 0 1 0 5.4 0a2.7 2.7 0 1 0 -5.4 0M584.8 335.6a2.7 2.7 0 1 0 5.4 0a2.7 2.7 0 1 0 -5.4 0M624.0 336.8a2.7 2.7 0 1 0 5.4 0a2.7 2.7 0 1 0 -5.4 0M537.5 371.9a2.7 2.7 0 1 0 5.4 0a2.7 2.7 0 1 0 -5.4 0M565.6 370.7a2.7 2.7 0 1 0 5.4 0a2.7 2.7 0 1 0 -5.4 0M580.1 368.4a2.7 2.7 0 1 0 5.4 0a2.7 2.7 0 1 0 -5.4 0M619.8 375.4a2.7 2.7 0 1 0 5.4 0a2.7 2.7 0 1 0 -5.4 0M626.8 371.9a2.7 2.7 0 1 0 5.4 0a2.7 2.7 0 1 0 -5.4 0M558.5 389.7a2.7 2.7 0 1 0 5.4 0a2.7 2.7 0 1 0 -5.4 0M565.5 392.6a2.7 2.7 0 1 0 5.4 0a2.7 2.7 0 1 0 -5.4 0M567.3 387.3a2.7 2.7 0 1 0 5.4 0a2.7 2.7 0 1 0 -5.4 0M556.7 409.6a2.7 2.7 0 1 0 5.4 0a2.7 2.7 0 1 0 -5.4 0M559.1 418.9a2.7 2.7 0 1 0 5.4 0a2.7 2.7 0 1 0 -5.4 0M563.8 420.1a2.7 2.7 0 1 0 5.4 0a2.7 2.7 0 1 0 -5.4 0M556.7 423.6a2.7 2.7 0 1 0 5.4 0a2.7 2.7 0 1 0 -5.4 0M567.3 423.6a2.7 2.7 0 1 0 5.4 0a2.7 2.7 0 1 0 -5.4 0M570.8 418.9a2.7 2.7 0 1 0 5.4 0a2.7 2.7 0 1 0 -5.4 0M561.4 430.6a2.7 2.7 0 1 0 5.4 0a2.7 2.7 0 1 0 -5.4 0M529.8 435.3a2.7 2.7 0 1 0 5.4 0a2.7 2.7 0 1 0 -5.4 0M527.5 440.0a2.7 2.7 0 1 0 5.4 0a2.7 2.7 0 1 0 -5.4 0M547.4 441.1a2.7 2.7 0 1 0 5.4 0a2.7 2.7 0 1 0 -5.4 0M568.4 443.5a2.7 2.7 0 1 0 5.4 0a2.7 2.7 0 1 0 -5.4 0M596.0 389.1a2.7 2.7 0 1 0 5.4 0a2.7 2.7 0 1 0 -5.4 0M625.8 390.8a2.7 2.7 0 1 0 5.4 0a2.7 2.7 0 1 0 -5.4 0M597.1 406.1a2.7 2.7 0 1 0 5.4 0a2.7 2.7 0 1 0 -5.4 0M568.5 396.7a2.7 2.7 0 1 0 5.4 0a2.7 2.7 0 1 0 -5.4 0M621.1 417.7a2.7 2.7 0 1 0 5.4 0a2.7 2.7 0 1 0 -5.4 0M624.6 423.6a2.7 2.7 0 1 0 5.4 0a2.7 2.7 0 1 0 -5.4 0M617.6 423.6a2.7 2.7 0 1 0 5.4 0a2.7 2.7 0 1 0 -5.4 0M579.0 428.3a2.7 2.7 0 1 0 5.4 0a2.7 2.7 0 1 0 -5.4 0M590.7 429.4a2.7 2.7 0 1 0 5.4 0a2.7 2.7 0 1 0 -5.4 0M614.1 437.6a2.7 2.7 0 1 0 5.4 0a2.7 2.7 0 1 0 -5.4 0M621.1 440.0a2.7 2.7 0 1 0 5.4 0a2.7 2.7 0 1 0 -5.4 0M573.1 441.1a2.7 2.7 0 1 0 5.4 0a2.7 2.7 0 1 0 -5.4 0M528.0 463.2a2.7 2.7 0 1 0 5.4 0a2.7 2.7 0 1 0 -5.4 0M533.7 471.4a2.7 2.7 0 1 0 5.4 0a2.7 2.7 0 1 0 -5.4 0M529.3 478.3a2.7 2.7 0 1 0 5.4 0a2.7 2.7 0 1 0 -5.4 0M531.8 489.0a2.7 2.7 0 1 0 5.4 0a2.7 2.7 0 1 0 -5.4 0M552.6 480.8a2.7 2.7 0 1 0 5.4 0a2.7 2.7 0 1 0 -5.4 0M546.9 490.9a2.7 2.7 0 1 0 5.4 0a2.7 2.7 0 1 0 -5.4 0M557.0 490.9a2.7 2.7 0 1 0 5.4 0a2.7 2.7 0 1 0 -5.4 0M534.3 501.6a2.7 2.7 0 1 0 5.4 0a2.7 2.7 0 1 0 -5.4 0M540.0 500.3a2.7 2.7 0 1 0 5.4 0a2.7 2.7 0 1 0 -5.4 0M546.3 502.9a2.7 2.7 0 1 0 5.4 0a2.7 2.7 0 1 0 -5.4 0M552.6 501.6a2.7 2.7 0 1 0 5.4 0a2.7 2.7 0 1 0 -5.4 0M550.0 506.6a2.7 2.7 0 1 0 5.4 0a2.7 2.7 0 1 0 -5.4 0M537.5 506.6a2.7 2.7 0 1 0 5.4 0a2.7 2.7 0 1 0 -5.4 0M567.6 456.3a2.7 2.7 0 1 0 5.4 0a2.7 2.7 0 1 0 -5.4 0M566.4 470.2a2.7 2.7 0 1 0 5.4 0a2.7 2.7 0 1 0 -5.4 0M570.2 476.4a2.7 2.7 0 1 0 5.4 0a2.7 2.7 0 1 0 -5.4 0M571.4 495.3a2.7 2.7 0 1 0 5.4 0a2.7 2.7 0 1 0 -5.4 0M569.5 446.9a2.7 2.7 0 1 0 5.4 0a2.7 2.7 0 1 0 -5.4 0M527.4 497.8a2.7 2.7 0 1 0 5.4 0a2.7 2.7 0 1 0 -5.4 0M529.9 505.4a2.7 2.7 0 1 0 5.4 0a2.7 2.7 0 1 0 -5.4 0M615.1 449.4a2.7 2.7 0 1 0 5.4 0a2.7 2.7 0 1 0 -5.4 0M591.8 456.3a2.7 2.7 0 1 0 5.4 0a2.7 2.7 0 1 0 -5.4 0M588.7 449.4a2.7 2.7 0 1 0 5.4 0a2.7 2.7 0 1 0 -5.4 0M573.6 460.1a2.7 2.7 0 1 0 5.4 0a2.7 2.7 0 1 0 -5.4 0M581.1 470.8a2.7 2.7 0 1 0 5.4 0a2.7 2.7 0 1 0 -5.4 0M584.9 479.0a2.7 2.7 0 1 0 5.4 0a2.7 2.7 0 1 0 -5.4 0M576.1 480.8a2.7 2.7 0 1 0 5.4 0a2.7 2.7 0 1 0 -5.4 0M601.3 467.6a2.7 2.7 0 1 0 5.4 0a2.7 2.7 0 1 0 -5.4 0M607.6 468.9a2.7 2.7 0 1 0 5.4 0a2.7 2.7 0 1 0 -5.4 0M598.7 475.2a2.7 2.7 0 1 0 5.4 0a2.7 2.7 0 1 0 -5.4 0M605.0 476.4a2.7 2.7 0 1 0 5.4 0a2.7 2.7 0 1 0 -5.4 0M611.3 476.4a2.7 2.7 0 1 0 5.4 0a2.7 2.7 0 1 0 -5.4 0M602.5 481.5a2.7 2.7 0 1 0 5.4 0a2.7 2.7 0 1 0 -5.4 0M617.6 471.4a2.7 2.7 0 1 0 5.4 0a2.7 2.7 0 1 0 -5.4 0M626.4 468.9a2.7 2.7 0 1 0 5.4 0a2.7 2.7 0 1 0 -5.4 0M582.4 492.8a2.7 2.7 0 1 0 5.4 0a2.7 2.7 0 1 0 -5.4 0M587.4 501.6a2.7 2.7 0 1 0 5.4 0a2.7 2.7 0 1 0 -5.4 0M592.5 502.9a2.7 2.7 0 1 0 5.4 0a2.7 2.7 0 1 0 -5.4 0M595.0 495.3a2.7 2.7 0 1 0 5.4 0a2.7 2.7 0 1 0 -5.4 0M603.8 492.8a2.7 2.7 0 1 0 5.4 0a2.7 2.7 0 1 0 -5.4 0M611.3 489.0a2.7 2.7 0 1 0 5.4 0a2.7 2.7 0 1 0 -5.4 0M615.1 494.1a2.7 2.7 0 1 0 5.4 0a2.7 2.7 0 1 0 -5.4 0M605.0 499.1a2.7 2.7 0 1 0 5.4 0a2.7 2.7 0 1 0 -5.4 0M616.4 502.9a2.7 2.7 0 1 0 5.4 0a2.7 2.7 0 1 0 -5.4 0M588.7 497.8a2.7 2.7 0 1 0 5.4 0a2.7 2.7 0 1 0 -5.4 0M715.9 139.0a2.7 2.7 0 1 0 5.4 0a2.7 2.7 0 1 0 -5.4 0M634.0 221.4a2.7 2.7 0 1 0 5.4 0a2.7 2.7 0 1 0 -5.4 0M658.6 215.1a2.7 2.7 0 1 0 5.4 0a2.7 2.7 0 1 0 -5.4 0M667.2 217.9a2.7 2.7 0 1 0 5.4 0a2.7 2.7 0 1 0 -5.4 0M707.0 220.4a2.7 2.7 0 1 0 5.4 0a2.7 2.7 0 1 0 -5.4 0M718.2 220.4a2.7 2.7 0 1 0 5.4 0a2.7 2.7 0 1 0 -5.4 0M721.0 239.6a2.7 2.7 0 1 0 5.4 0a2.7 2.7 0 1 0 -5.4 0M735.0 234.2a2.7 2.7 0 1 0 5.4 0a2.7 2.7 0 1 0 -5.4 0M659.7 249.0a2.7 2.7 0 1 0 5.4 0a2.7 2.7 0 1 0 -5.4 0M671.4 252.0a2.7 2.7 0 1 0 5.4 0a2.7 2.7 0 1 0 -5.4 0M680.2 263.2a2.7 2.7 0 1 0 5.4 0a2.7 2.7 0 1 0 -5.4 0M637.4 272.7a2.7 2.7 0 1 0 5.4 0a2.7 2.7 0 1 0 -5.4 0M665.7 275.2a2.7 2.7 0 1 0 5.4 0a2.7 2.7 0 1 0 -5.4 0M651.9 285.3a2.7 2.7 0 1 0 5.4 0a2.7 2.7 0 1 0 -5.4 0M661.9 290.9a2.7 2.7 0 1 0 5.4 0a2.7 2.7 0 1 0 -5.4 0M673.9 287.8a2.7 2.7 0 1 0 5.4 0a2.7 2.7 0 1 0 -5.4 0M681.4 282.7a2.7 2.7 0 1 0 5.4 0a2.7 2.7 0 1 0 -5.4 0M645.6 297.8a2.7 2.7 0 1 0 5.4 0a2.7 2.7 0 1 0 -5.4 0M643.7 309.8a2.7 2.7 0 1 0 5.4 0a2.7 2.7 0 1 0 -5.4 0M683.6 263.2a2.7 2.7 0 1 0 5.4 0a2.7 2.7 0 1 0 -5.4 0M685.4 284.0a2.7 2.7 0 1 0 5.4 0a2.7 2.7 0 1 0 -5.4 0M722.6 277.1a2.7 2.7 0 1 0 5.4 0a2.7 2.7 0 1 0 -5.4 0M735.1 258.2a2.7 2.7 0 1 0 5.4 0a2.7 2.7 0 1 0 -5.4 0M736.4 266.4a2.7 2.7 0 1 0 5.4 0a2.7 2.7 0 1 0 -5.4 0M737.6 272.7a2.7 2.7 0 1 0 5.4 0a2.7 2.7 0 1 0 -5.4 0M738.3 279.0a2.7 2.7 0 1 0 5.4 0a2.7 2.7 0 1 0 -5.4 0M701.8 306.6a2.7 2.7 0 1 0 5.4 0a2.7 2.7 0 1 0 -5.4 0M733.9 300.3a2.7 2.7 0 1 0 5.4 0a2.7 2.7 0 1 0 -5.4 0M634.9 317.6a2.7 2.7 0 1 0 5.4 0a2.7 2.7 0 1 0 -5.4 0M637.4 327.6a2.7 2.7 0 1 0 5.4 0a2.7 2.7 0 1 0 -5.4 0M642.4 328.9a2.7 2.7 0 1 0 5.4 0a2.7 2.7 0 1 0 -5.4 0M655.0 337.1a2.7 2.7 0 1 0 5.4 0a2.7 2.7 0 1 0 -5.4 0M662.6 342.7a2.7 2.7 0 1 0 5.4 0a2.7 2.7 0 1 0 -5.4 0M639.9 354.1a2.7 2.7 0 1 0 5.4 0a2.7 2.7 0 1 0 -5.4 0M677.6 361.0a2.7 2.7 0 1 0 5.4 0a2.7 2.7 0 1 0 -5.4 0M649.3 369.2a2.7 2.7 0 1 0 5.4 0a2.7 2.7 0 1 0 -5.4 0M728.2 327.6a2.7 2.7 0 1 0 5.4 0a2.7 2.7 0 1 0 -5.4 0M710.0 330.8a2.7 2.7 0 1 0 5.4 0a2.7 2.7 0 1 0 -5.4 0M697.4 335.2a2.7 2.7 0 1 0 5.4 0a2.7 2.7 0 1 0 -5.4 0M697.4 340.2a2.7 2.7 0 1 0 5.4 0a2.7 2.7 0 1 0 -5.4 0M705.6 340.8a2.7 2.7 0 1 0 5.4 0a2.7 2.7 0 1 0 -5.4 0M701.8 347.8a2.7 2.7 0 1 0 5.4 0a2.7 2.7 0 1 0 -5.4 0M688.0 347.8a2.7 2.7 0 1 0 5.4 0a2.7 2.7 0 1 0 -5.4 0M689.8 355.9a2.7 2.7 0 1 0 5.4 0a2.7 2.7 0 1 0 -5.4 0M720.0 359.7a2.7 2.7 0 1 0 5.4 0a2.7 2.7 0 1 0 -5.4 0M722.6 365.4a2.7 2.7 0 1 0 5.4 0a2.7 2.7 0 1 0 -5.4 0M737.6 355.3a2.7 2.7 0 1 0 5.4 0a2.7 2.7 0 1 0 -5.4 0M689.8 369.2a2.7 2.7 0 1 0 5.4 0a2.7 2.7 0 1 0 -5.4 0M645.6 387.6a2.7 2.7 0 1 0 5.4 0a2.7 2.7 0 1 0 -5.4 0M674.5 390.1a2.7 2.7 0 1 0 5.4 0a2.7 2.7 0 1 0 -5.4 0M624.8 376.9a2.7 2.7 0 1 0 5.4 0a2.7 2.7 0 1 0 -5.4 0M670.1 406.4a2.7 2.7 0 1 0 5.4 0a2.7 2.7 0 1 0 -5.4 0M629.8 411.5a2.7 2.7 0 1 0 5.4 0a2.7 2.7 0 1 0 -5.4 0M641.2 412.7a2.7 2.7 0 1 0 5.4 0a2.7 2.7 0 1 0 -5.4 0M626.1 420.3a2.7 2.7 0 1 0 5.4 0a2.7 2.7 0 1 0 -5.4 0M632.4 426.6a2.7 2.7 0 1 0 5.4 0a2.7 2.7 0 1 0 -5.4 0M647.5 430.3a2.7 2.7 0 1 0 5.4 0a2.7 2.7 0 1 0 -5.4 0M657.5 432.9a2.7 2.7 0 1 0 5.4 0a2.7 2.7 0 1 0 -5.4 0M666.3 429.1a2.7 2.7 0 1 0 5.4 0a2.7 2.7 0 1 0 -5.4 0M676.4 427.8a2.7 2.7 0 1 0 5.4 0a2.7 2.7 0 1 0 -5.4 0M653.7 439.2a2.7 2.7 0 1 0 5.4 0a2.7 2.7 0 1 0 -5.4 0M670.1 437.9a2.7 2.7 0 1 0 5.4 0a2.7 2.7 0 1 0 -5.4 0M680.2 434.1a2.7 2.7 0 1 0 5.4 0a2.7 2.7 0 1 0 -5.4 0M685.4 385.7a2.7 2.7 0 1 0 5.4 0a2.7 2.7 0 1 0 -5.4 0M693.6 392.6a2.7 2.7 0 1 0 5.4 0a2.7 2.7 0 1 0 -5.4 0M703.1 397.0a2.7 2.7 0 1 0 5.4 0a2.7 2.7 0 1 0 -5.4 0M713.1 384.4a2.7 2.7 0 1 0 5.4 0a2.7 2.7 0 1 0 -5.4 0M726.3 385.7a2.7 2.7 0 1 0 5.4 0a2.7 2.7 0 1 0 -5.4 0M740.2 396.4a2.7 2.7 0 1 0 5.4 0a2.7 2.7 0 1 0 -5.4 0M692.4 407.7a2.7 2.7 0 1 0 5.4 0a2.7 2.7 0 1 0 -5.4 0M699.9 405.2a2.7 2.7 0 1 0 5.4 0a2.7 2.7 0 1 0 -5.4 0M708.7 406.4a2.7 2.7 0 1 0 5.4 0a2.7 2.7 0 1 0 -5.4 0M691.1 414.0a2.7 2.7 0 1 0 5.4 0a2.7 2.7 0 1 0 -5.4 0M723.8 419.0a2.7 2.7 0 1 0 5.4 0a2.7 2.7 0 1 0 -5.4 0M732.6 425.3a2.7 2.7 0 1 0 5.4 0a2.7 2.7 0 1 0 -5.4 0M693.6 435.4a2.7 2.7 0 1 0 5.4 0a2.7 2.7 0 1 0 -5.4 0M704.9 439.2a2.7 2.7 0 1 0 5.4 0a2.7 2.7 0 1 0 -5.4 0M716.3 434.1a2.7 2.7 0 1 0 5.4 0a2.7 2.7 0 1 0 -5.4 0M726.3 440.4a2.7 2.7 0 1 0 5.4 0a2.7 2.7 0 1 0 -5.4 0M701.2 429.1a2.7 2.7 0 1 0 5.4 0a2.7 2.7 0 1 0 -5.4 0M741.4 434.1a2.7 2.7 0 1 0 5.4 0a2.7 2.7 0 1 0 -5.4 0M633.0 448.1a2.7 2.7 0 1 0 5.4 0a2.7 2.7 0 1 0 -5.4 0M653.7 446.3a2.7 2.7 0 1 0 5.4 0a2.7 2.7 0 1 0 -5.4 0M638.7 457.6a2.7 2.7 0 1 0 5.4 0a2.7 2.7 0 1 0 -5.4 0M629.8 468.9a2.7 2.7 0 1 0 5.4 0a2.7 2.7 0 1 0 -5.4 0M641.2 475.2a2.7 2.7 0 1 0 5.4 0a2.7 2.7 0 1 0 -5.4 0M646.8 471.4a2.7 2.7 0 1 0 5.4 0a2.7 2.7 0 1 0 -5.4 0M651.2 477.7a2.7 2.7 0 1 0 5.4 0a2.7 2.7 0 1 0 -5.4 0M656.3 473.9a2.7 2.7 0 1 0 5.4 0a2.7 2.7 0 1 0 -5.4 0M649.3 486.5a2.7 2.7 0 1 0 5.4 0a2.7 2.7 0 1 0 -5.4 0M664.4 484.0a2.7 2.7 0 1 0 5.4 0a2.7 2.7 0 1 0 -5.4 0M670.1 456.3a2.7 2.7 0 1 0 5.4 0a2.7 2.7 0 1 0 -5.4 0M672.6 463.2a2.7 2.7 0 1 0 5.4 0a2.7 2.7 0 1 0 -5.4 0M680.2 472.0a2.7 2.7 0 1 0 5.4 0a2.7 2.7 0 1 0 -5.4 0M678.9 446.3a2.7 2.7 0 1 0 5.4 0a2.7 2.7 0 1 0 -5.4 0M681.4 458.8a2.7 2.7 0 1 0 5.4 0a2.7 2.7 0 1 0 -5.4 0M686.1 455.1a2.7 2.7 0 1 0 5.4 0a2.7 2.7 0 1 0 -5.4 0M684.8 460.1a2.7 2.7 0 1 0 5.4 0a2.7 2.7 0 1 0 -5.4 0M684.2 472.0a2.7 2.7 0 1 0 5.4 0a2.7 2.7 0 1 0 -5.4 0M696.1 448.1a2.7 2.7 0 1 0 5.4 0a2.7 2.7 0 1 0 -5.4 0M713.1 456.3a2.7 2.7 0 1 0 5.4 0a2.7 2.7 0 1 0 -5.4 0M714.4 461.4a2.7 2.7 0 1 0 5.4 0a2.7 2.7 0 1 0 -5.4 0M711.2 471.4a2.7 2.7 0 1 0 5.4 0a2.7 2.7 0 1 0 -5.4 0M718.8 448.1a2.7 2.7 0 1 0 5.4 0a2.7 2.7 0 1 0 -5.4 0M725.1 448.8a2.7 2.7 0 1 0 5.4 0a2.7 2.7 0 1 0 -5.4 0M730.1 452.5a2.7 2.7 0 1 0 5.4 0a2.7 2.7 0 1 0 -5.4 0M730.7 460.7a2.7 2.7 0 1 0 5.4 0a2.7 2.7 0 1 0 -5.4 0M729.5 470.2a2.7 2.7 0 1 0 5.4 0a2.7 2.7 0 1 0 -5.4 0M742.0 468.9a2.7 2.7 0 1 0 5.4 0a2.7 2.7 0 1 0 -5.4 0M769.5 193.0a2.7 2.7 0 1 0 5.4 0a2.7 2.7 0 1 0 -5.4 0M775.0 228.7a2.7 2.7 0 1 0 5.4 0a2.7 2.7 0 1 0 -5.4 0M744.2 275.2a2.7 2.7 0 1 0 5.4 0a2.7 2.7 0 1 0 -5.4 0M779.4 272.6a2.7 2.7 0 1 0 5.4 0a2.7 2.7 0 1 0 -5.4 0M776.3 282.7a2.7 2.7 0 1 0 5.4 0a2.7 2.7 0 1 0 -5.4 0M743.6 301.6a2.7 2.7 0 1 0 5.4 0a2.7 2.7 0 1 0 -5.4 0M756.1 315.4a2.7 2.7 0 1 0 5.4 0a2.7 2.7 0 1 0 -5.4 0M771.2 315.4a2.7 2.7 0 1 0 5.4 0a2.7 2.7 0 1 0 -5.4 0M756.1 318.8a2.7 2.7 0 1 0 5.4 0a2.7 2.7 0 1 0 -5.4 0M750.5 338.9a2.7 2.7 0 1 0 5.4 0a2.7 2.7 0 1 0 -5.4 0M766.8 340.8a2.7 2.7 0 1 0 5.4 0a2.7 2.7 0 1 0 -5.4 0M754.2 351.5a2.7 2.7 0 1 0 5.4 0a2.7 2.7 0 1 0 -5.4 0M762.4 352.7a2.7 2.7 0 1 0 5.4 0a2.7 2.7 0 1 0 -5.4 0M771.9 356.5a2.7 2.7 0 1 0 5.4 0a2.7 2.7 0 1 0 -5.4 0M777.5 350.2a2.7 2.7 0 1 0 5.4 0a2.7 2.7 0 1 0 -5.4 0M781.3 365.3a2.7 2.7 0 1 0 5.4 0a2.7 2.7 0 1 0 -5.4 0M743.6 396.4a2.7 2.7 0 1 0 5.4 0a2.7 2.7 0 1 0 -5.4 0M753.0 392.6a2.7 2.7 0 1 0 5.4 0a2.7 2.7 0 1 0 -5.4 0M758.7 392.6a2.7 2.7 0 1 0 5.4 0a2.7 2.7 0 1 0 -5.4 0M758.7 402.6a2.7 2.7 0 1 0 5.4 0a2.7 2.7 0 1 0 -5.4 0M771.2 402.0a2.7 2.7 0 1 0 5.4 0a2.7 2.7 0 1 0 -5.4 0M748.6 412.7a2.7 2.7 0 1 0 5.4 0a2.7 2.7 0 1 0 -5.4 0M757.4 420.3a2.7 2.7 0 1 0 5.4 0a2.7 2.7 0 1 0 -5.4 0M747.3 424.0a2.7 2.7 0 1 0 5.4 0a2.7 2.7 0 1 0 -5.4 0M773.7 421.5a2.7 2.7 0 1 0 5.4 0a2.7 2.7 0 1 0 -5.4 0M767.5 427.8a2.7 2.7 0 1 0 5.4 0a2.7 2.7 0 1 0 -5.4 0M746.1 432.8a2.7 2.7 0 1 0 5.4 0a2.7 2.7 0 1 0 -5.4 0M785.7 427.8a2.7 2.7 0 1 0 5.4 0a2.7 2.7 0 1 0 -5.4 0M790.1 432.8a2.7 2.7 0 1 0 5.4 0a2.7 2.7 0 1 0 -5.4 0M788.8 440.4a2.7 2.7 0 1 0 5.4 0a2.7 2.7 0 1 0 -5.4 0M781.3 442.9a2.7 2.7 0 1 0 5.4 0a2.7 2.7 0 1 0 -5.4 0M751.1 445.4a2.7 2.7 0 1 0 5.4 0a2.7 2.7 0 1 0 -5.4 0M801.4 417.7a2.7 2.7 0 1 0 5.4 0a2.7 2.7 0 1 0 -5.4 0M806.7 409.6a2.7 2.7 0 1 0 5.4 0a2.7 2.7 0 1 0 -5.4 0M805.4 420.3a2.7 2.7 0 1 0 5.4 0a2.7 2.7 0 1 0 -5.4 0M814.9 431.6a2.7 2.7 0 1 0 5.4 0a2.7 2.7 0 1 0 -5.4 0M808.6 436.6a2.7 2.7 0 1 0 5.4 0a2.7 2.7 0 1 0 -5.4 0M811.1 444.2a2.7 2.7 0 1 0 5.4 0a2.7 2.7 0 1 0 -5.4 0M752.4 448.8a2.7 2.7 0 1 0 5.4 0a2.7 2.7 0 1 0 -5.4 0M764.9 451.9a2.7 2.7 0 1 0 5.4 0a2.7 2.7 0 1 0 -5.4 0M749.8 458.8a2.7 2.7 0 1 0 5.4 0a2.7 2.7 0 1 0 -5.4 0M746.1 468.9a2.7 2.7 0 1 0 5.4 0a2.7 2.7 0 1 0 -5.4 0M761.8 470.2a2.7 2.7 0 1 0 5.4 0a2.7 2.7 0 1 0 -5.4 0M759.9 476.4a2.7 2.7 0 1 0 5.4 0a2.7 2.7 0 1 0 -5.4 0M764.9 484.0a2.7 2.7 0 1 0 5.4 0a2.7 2.7 0 1 0 -5.4 0M782.6 446.3a2.7 2.7 0 1 0 5.4 0a2.7 2.7 0 1 0 -5.4 0M782.6 456.3a2.7 2.7 0 1 0 5.4 0a2.7 2.7 0 1 0 -5.4 0M791.4 455.1a2.7 2.7 0 1 0 5.4 0a2.7 2.7 0 1 0 -5.4 0M786.3 465.1a2.7 2.7 0 1 0 5.4 0a2.7 2.7 0 1 0 -5.4 0M792.6 468.9a2.7 2.7 0 1 0 5.4 0a2.7 2.7 0 1 0 -5.4 0M797.6 470.2a2.7 2.7 0 1 0 5.4 0a2.7 2.7 0 1 0 -5.4 0M795.1 475.2a2.7 2.7 0 1 0 5.4 0a2.7 2.7 0 1 0 -5.4 0M796.4 482.7a2.7 2.7 0 1 0 5.4 0a2.7 2.7 0 1 0 -5.4 0M797.6 487.8a2.7 2.7 0 1 0 5.4 0a2.7 2.7 0 1 0 -5.4 0M800.2 492.8a2.7 2.7 0 1 0 5.4 0a2.7 2.7 0 1 0 -5.4 0M795.1 492.8a2.7 2.7 0 1 0 5.4 0a2.7 2.7 0 1 0 -5.4 0M801.4 477.7a2.7 2.7 0 1 0 5.4 0a2.7 2.7 0 1 0 -5.4 0M814.9 456.3a2.7 2.7 0 1 0 5.4 0a2.7 2.7 0 1 0 -5.4 0M804.8 466.4a2.7 2.7 0 1 0 5.4 0a2.7 2.7 0 1 0 -5.4 0M813.6 468.9a2.7 2.7 0 1 0 5.4 0a2.7 2.7 0 1 0 -5.4 0M816.1 472.7a2.7 2.7 0 1 0 5.4 0a2.7 2.7 0 1 0 -5.4 0M811.1 479.0a2.7 2.7 0 1 0 5.4 0a2.7 2.7 0 1 0 -5.4 0M803.6 485.3a2.7 2.7 0 1 0 5.4 0a2.7 2.7 0 1 0 -5.4 0M803.6 492.8a2.7 2.7 0 1 0 5.4 0a2.7 2.7 0 1 0 -5.4 0M818.7 490.3a2.7 2.7 0 1 0 5.4 0a2.7 2.7 0 1 0 -5.4 0M819.9 496.6a2.7 2.7 0 1 0 5.4 0a2.7 2.7 0 1 0 -5.4 0M822.4 501.6a2.7 2.7 0 1 0 5.4 0a2.7 2.7 0 1 0 -5.4 0M827.5 502.9a2.7 2.7 0 1 0 5.4 0a2.7 2.7 0 1 0 -5.4 0M831.2 505.4a2.7 2.7 0 1 0 5.4 0a2.7 2.7 0 1 0 -5.4 0M824.9 506.6a2.7 2.7 0 1 0 5.4 0a2.7 2.7 0 1 0 -5.4 0M832.5 509.2a2.7 2.7 0 1 0 5.4 0a2.7 2.7 0 1 0 -5.4 0M821.2 507.9a2.7 2.7 0 1 0 5.4 0a2.7 2.7 0 1 0 -5.4 0M736.4 265.5a2.7 2.7 0 1 0 5.4 0a2.7 2.7 0 1 0 -5.4 0M737.3 268.7a2.7 2.7 0 1 0 5.4 0a2.7 2.7 0 1 0 -5.4 0M737.2 270.1a2.7 2.7 0 1 0 5.4 0a2.7 2.7 0 1 0 -5.4 0M737.9 275.1a2.7 2.7 0 1 0 5.4 0a2.7 2.7 0 1 0 -5.4 0M739.2 275.4a2.7 2.7 0 1 0 5.4 0a2.7 2.7 0 1 0 -5.4 0M738.9 278.9a2.7 2.7 0 1 0 5.4 0a2.7 2.7 0 1 0 -5.4 0M531.3 505.7a2.7 2.7 0 1 0 5.4 0a2.7 2.7 0 1 0 -5.4 0M533.3 503.9a2.7 2.7 0 1 0 5.4 0a2.7 2.7 0 1 0 -5.4 0M536.0 506.2a2.7 2.7 0 1 0 5.4 0a2.7 2.7 0 1 0 -5.4 0M537.7 505.4a2.7 2.7 0 1 0 5.4 0a2.7 2.7 0 1 0 -5.4 0M540.4 504.3a2.7 2.7 0 1 0 5.4 0a2.7 2.7 0 1 0 -5.4 0M542.2 502.7a2.7 2.7 0 1 0 5.4 0a2.7 2.7 0 1 0 -5.4 0M543.8 501.5a2.7 2.7 0 1 0 5.4 0a2.7 2.7 0 1 0 -5.4 0M546.1 504.5a2.7 2.7 0 1 0 5.4 0a2.7 2.7 0 1 0 -5.4 0M548.5 501.5a2.7 2.7 0 1 0 5.4 0a2.7 2.7 0 1 0 -5.4 0M550.5 504.8a2.7 2.7 0 1 0 5.4 0a2.7 2.7 0 1 0 -5.4 0M553.9 503.9a2.7 2.7 0 1 0 5.4 0a2.7 2.7 0 1 0 -5.4 0M817.0 487.7a2.7 2.7 0 1 0 5.4 0a2.7 2.7 0 1 0 -5.4 0M818.6 490.5a2.7 2.7 0 1 0 5.4 0a2.7 2.7 0 1 0 -5.4 0M820.1 492.2a2.7 2.7 0 1 0 5.4 0a2.7 2.7 0 1 0 -5.4 0M821.9 496.5a2.7 2.7 0 1 0 5.4 0a2.7 2.7 0 1 0 -5.4 0M824.6 496.1a2.7 2.7 0 1 0 5.4 0a2.7 2.7 0 1 0 -5.4 0M825.1 500.0a2.7 2.7 0 1 0 5.4 0a2.7 2.7 0 1 0 -5.4 0M826.8 498.6a2.7 2.7 0 1 0 5.4 0a2.7 2.7 0 1 0 -5.4 0M828.0 500.5a2.7 2.7 0 1 0 5.4 0a2.7 2.7 0 1 0 -5.4 0M830.4 502.8a2.7 2.7 0 1 0 5.4 0a2.7 2.7 0 1 0 -5.4 0M831.6 504.6a2.7 2.7 0 1 0 5.4 0a2.7 2.7 0 1 0 -5.4 0M832.9 505.1a2.7 2.7 0 1 0 5.4 0a2.7 2.7 0 1 0 -5.4 0M834.7 507.5a2.7 2.7 0 1 0 5.4 0a2.7 2.7 0 1 0 -5.4 0M790.5 462.1a2.7 2.7 0 1 0 5.4 0a2.7 2.7 0 1 0 -5.4 0M793.3 463.9a2.7 2.7 0 1 0 5.4 0a2.7 2.7 0 1 0 -5.4 0M796.1 466.2a2.7 2.7 0 1 0 5.4 0a2.7 2.7 0 1 0 -5.4 0M798.8 467.4a2.7 2.7 0 1 0 5.4 0a2.7 2.7 0 1 0 -5.4 0M801.0 469.3a2.7 2.7 0 1 0 5.4 0a2.7 2.7 0 1 0 -5.4 0M802.8 466.5a2.7 2.7 0 1 0 5.4 0a2.7 2.7 0 1 0 -5.4 0M806.2 465.9a2.7 2.7 0 1 0 5.4 0a2.7 2.7 0 1 0 -5.4 0M808.0 469.4a2.7 2.7 0 1 0 5.4 0a2.7 2.7 0 1 0 -5.4 0M809.1 471.0a2.7 2.7 0 1 0 5.4 0a2.7 2.7 0 1 0 -5.4 0M813.0 470.3a2.7 2.7 0 1 0 5.4 0a2.7 2.7 0 1 0 -5.4 0M815.1 471.9a2.7 2.7 0 1 0 5.4 0a2.7 2.7 0 1 0 -5.4 0M816.3 470.6a2.7 2.7 0 1 0 5.4 0a2.7 2.7 0 1 0 -5.4 0M819.3 473.0a2.7 2.7 0 1 0 5.4 0a2.7 2.7 0 1 0 -5.4 0M795.7 483.3a2.7 2.7 0 1 0 5.4 0a2.7 2.7 0 1 0 -5.4 0M796.7 485.7a2.7 2.7 0 1 0 5.4 0a2.7 2.7 0 1 0 -5.4 0M798.2 487.1a2.7 2.7 0 1 0 5.4 0a2.7 2.7 0 1 0 -5.4 0M799.0 486.6a2.7 2.7 0 1 0 5.4 0a2.7 2.7 0 1 0 -5.4 0M800.2 490.1a2.7 2.7 0 1 0 5.4 0a2.7 2.7 0 1 0 -5.4 0M801.5 494.2a2.7 2.7 0 1 0 5.4 0a2.7 2.7 0 1 0 -5.4 0M803.4 495.5a2.7 2.7 0 1 0 5.4 0a2.7 2.7 0 1 0 -5.4 0" fill="#56b4e9"/><rect x="537" y="78.8" width="413.0" height="52.2" fill="#fff"/><path d="M916.0 86.7h10.0M921.0 81.7v10.0" stroke="#9400d3" stroke-width="1.6" fill="none"/><path d="M916.0 99.6l10.0 10.0M916.0 109.6l10.0 -10.0" stroke="#009e73" stroke-width="1.1" fill="none"/><path d="M916.0 122.5h10.0M921.0 117.5v10.0" stroke="#56b4e9" stroke-width="1.4" fill="none"/><path d="M916.0 117.5l10.0 10.0M916.0 127.5l10.0 -10.0" stroke="#56b4e9" stroke-width="1.05" fill="none"/><path d="M918.3 122.5a2.7 2.7 0 1 0 5.4 0a2.7 2.7 0 1 0 -5.4 0" fill="#56b4e9"/><rect x="93.9" y="71.8" width="863.1" height="439.9" stroke="#111" stroke-width="1.6" fill="none"/><g font-family="Liberation Mono" font-size="13.83px" fill="#111"><text transform="translate(520.00,50.00) scale(1,1.2)" text-anchor="middle">Response Time Graph</text><text transform="translate(84.50,517.50) scale(1,1.2)" text-anchor="end">0</text><text transform="translate(84.50,429.52) scale(1,1.2)" text-anchor="end">500</text><text transform="translate(84.50,341.54) scale(1,1.2)" text-anchor="end">1000</text><text transform="translate(84.50,253.56) scale(1,1.2)" text-anchor="end">1500</text><text transform="translate(84.50,165.58) scale(1,1.2)" text-anchor="end">2000</text><text transform="translate(84.50,77.60) scale(1,1.2)" text-anchor="end">2500</text><text transform="translate(972.00,518.20) scale(1,1.2)" text-anchor="start">1</text><text transform="translate(972.00,444.88) scale(1,1.2)" text-anchor="start">10</text><text transform="translate(972.00,371.57) scale(1,1.2)" text-anchor="start">100</text><text transform="translate(972.00,298.25) scale(1,1.2)" text-anchor="start">1000</text><text transform="translate(972.00,224.93) scale(1,1.2)" text-anchor="start">10000</text><text transform="translate(972.00,151.62) scale(1,1.2)" text-anchor="start">100000</text><text transform="translate(972.00,78.30) scale(1,1.2)" text-anchor="start">1x10^{6}</text><text transform="translate(92.40,535.60) scale(1,1.2)" text-anchor="middle">00:00</text><text transform="translate(215.70,535.60) scale(1,1.2)" text-anchor="middle">02:00</text><text transform="translate(339.00,535.60) scale(1,1.2)" text-anchor="middle">04:00</text><text transform="translate(462.30,535.60) scale(1,1.2)" text-anchor="middle">06:00</text><text transform="translate(585.60,535.60) scale(1,1.2)" text-anchor="middle">08:00</text><text transform="translate(708.90,535.60) scale(1,1.2)" text-anchor="middle">10:00</text><text transform="translate(832.20,535.60) scale(1,1.2)" text-anchor="middle">12:00</text><text transform="translate(955.50,535.60) scale(1,1.2)" text-anchor="middle">14:00</text><text transform="translate(524.50,561.00) scale(1,1.2)" text-anchor="middle">Time</text><text transform="translate(33.00,293.00) rotate(-90) scale(1,1.2)" text-anchor="middle">answered requests per minute</text><text transform="translate(1044.80,294.00) rotate(-90) scale(1,1.2)" text-anchor="middle">response time per request [ms]</text><text transform="translate(891.50,92.60) scale(1,1.2)" text-anchor="end">delivery time per request (98% percentile)</text><text transform="translate(891.50,110.30) scale(1,1.2)" text-anchor="end">delivery time per request (median)</text><text transform="translate(891.50,128.00) scale(1,1.2)" text-anchor="end">number of requests (per minute)</text></g></svg></body></html>
